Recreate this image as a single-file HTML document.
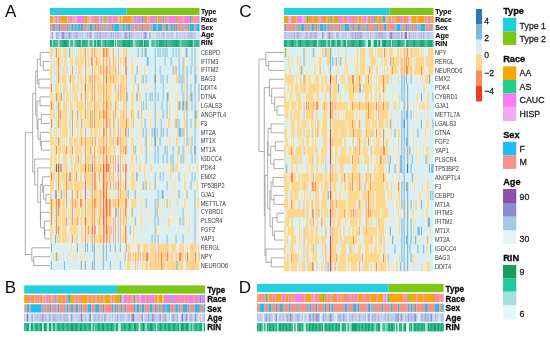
<!DOCTYPE html>
<html><head><meta charset="utf-8"><style>
html,body{margin:0;padding:0;background:#fff;}
body{width:550px;height:338px;overflow:hidden;}
svg{display:block;will-change:transform;filter:blur(0.35px);}
</style></head><body>
<svg width="550" height="338" viewBox="0 0 550 338" font-family="&quot;Liberation Sans&quot;, sans-serif">
<style>text{paint-order:stroke}.s{stroke:#222;stroke-width:0.28}.g{stroke:#444;stroke-width:0.04}.b{stroke:#0a0a0a;stroke-width:0.3}.bs{stroke:#0a0a0a;stroke-width:0.12}</style>
<rect width="550" height="338" fill="#fff"/>
<text x="5" y="16.7" font-size="17" fill="#0a0a0a">A</text>
<text x="4.8" y="292.9" font-size="17" fill="#0a0a0a">B</text>
<text x="239.3" y="16.7" font-size="17" fill="#0a0a0a">C</text>
<text x="238.8" y="292.9" font-size="17" fill="#0a0a0a">D</text>
<rect x="50" y="8" width="76.6" height="7" fill="#22cfe0"/>
<rect x="126.6" y="8" width="72.9" height="7" fill="#7cc614"/>
<rect x="50" y="16" width="3.25" height="7" fill="#faa500"/>
<rect x="53.2" y="16" width="1.12" height="7" fill="#f1aaf6"/>
<rect x="54.27" y="16" width="1.12" height="7" fill="#faa500"/>
<rect x="55.34" y="16" width="2.19" height="7" fill="#f77ef2"/>
<rect x="57.48" y="16" width="1.12" height="7" fill="#faa500"/>
<rect x="58.54" y="16" width="2.19" height="7" fill="#f77ef2"/>
<rect x="60.68" y="16" width="6.46" height="7" fill="#faa500"/>
<rect x="67.09" y="16" width="1.12" height="7" fill="#f1aaf6"/>
<rect x="68.15" y="16" width="1.12" height="7" fill="#faa500"/>
<rect x="69.22" y="16" width="3.25" height="7" fill="#f77ef2"/>
<rect x="72.42" y="16" width="1.12" height="7" fill="#faa500"/>
<rect x="73.49" y="16" width="1.12" height="7" fill="#f77ef2"/>
<rect x="74.56" y="16" width="1.12" height="7" fill="#faa500"/>
<rect x="75.63" y="16" width="1.12" height="7" fill="#f1aaf6"/>
<rect x="76.7" y="16" width="7.52" height="7" fill="#f77ef2"/>
<rect x="84.17" y="16" width="3.25" height="7" fill="#faa500"/>
<rect x="87.38" y="16" width="1.12" height="7" fill="#f77ef2"/>
<rect x="88.44" y="16" width="1.12" height="7" fill="#faa500"/>
<rect x="89.51" y="16" width="1.12" height="7" fill="#f1aaf6"/>
<rect x="90.58" y="16" width="1.12" height="7" fill="#f77ef2"/>
<rect x="91.65" y="16" width="1.12" height="7" fill="#faa500"/>
<rect x="92.71" y="16" width="2.19" height="7" fill="#f77ef2"/>
<rect x="94.85" y="16" width="1.12" height="7" fill="#faa500"/>
<rect x="95.92" y="16" width="1.12" height="7" fill="#f77ef2"/>
<rect x="96.99" y="16" width="1.12" height="7" fill="#faa500"/>
<rect x="98.05" y="16" width="1.12" height="7" fill="#f77ef2"/>
<rect x="99.12" y="16" width="1.12" height="7" fill="#f1aaf6"/>
<rect x="100.19" y="16" width="1.12" height="7" fill="#f77ef2"/>
<rect x="101.26" y="16" width="1.12" height="7" fill="#1fd285"/>
<rect x="102.32" y="16" width="1.12" height="7" fill="#f77ef2"/>
<rect x="103.39" y="16" width="2.19" height="7" fill="#faa500"/>
<rect x="105.53" y="16" width="1.12" height="7" fill="#1fd285"/>
<rect x="106.6" y="16" width="1.12" height="7" fill="#f77ef2"/>
<rect x="107.66" y="16" width="1.12" height="7" fill="#faa500"/>
<rect x="108.73" y="16" width="3.25" height="7" fill="#f77ef2"/>
<rect x="111.94" y="16" width="1.12" height="7" fill="#f1aaf6"/>
<rect x="113" y="16" width="2.19" height="7" fill="#f77ef2"/>
<rect x="115.14" y="16" width="2.19" height="7" fill="#faa500"/>
<rect x="117.28" y="16" width="1.12" height="7" fill="#f77ef2"/>
<rect x="118.34" y="16" width="1.12" height="7" fill="#f1aaf6"/>
<rect x="119.41" y="16" width="2.19" height="7" fill="#faa500"/>
<rect x="121.55" y="16" width="1.12" height="7" fill="#f1aaf6"/>
<rect x="122.61" y="16" width="4.32" height="7" fill="#faa500"/>
<rect x="126.89" y="16" width="1.12" height="7" fill="#f77ef2"/>
<rect x="127.95" y="16" width="3.25" height="7" fill="#faa500"/>
<rect x="131.16" y="16" width="1.12" height="7" fill="#f77ef2"/>
<rect x="132.22" y="16" width="1.12" height="7" fill="#faa500"/>
<rect x="133.29" y="16" width="2.19" height="7" fill="#f77ef2"/>
<rect x="135.43" y="16" width="1.12" height="7" fill="#1fd285"/>
<rect x="136.5" y="16" width="5.39" height="7" fill="#f77ef2"/>
<rect x="141.84" y="16" width="1.12" height="7" fill="#1fd285"/>
<rect x="142.9" y="16" width="2.19" height="7" fill="#f77ef2"/>
<rect x="145.04" y="16" width="2.19" height="7" fill="#faa500"/>
<rect x="147.18" y="16" width="1.12" height="7" fill="#f1aaf6"/>
<rect x="148.24" y="16" width="1.12" height="7" fill="#faa500"/>
<rect x="149.31" y="16" width="6.46" height="7" fill="#f77ef2"/>
<rect x="155.72" y="16" width="1.12" height="7" fill="#1fd285"/>
<rect x="156.79" y="16" width="1.12" height="7" fill="#f1aaf6"/>
<rect x="157.85" y="16" width="2.19" height="7" fill="#faa500"/>
<rect x="159.99" y="16" width="2.19" height="7" fill="#f77ef2"/>
<rect x="162.12" y="16" width="1.12" height="7" fill="#faa500"/>
<rect x="163.19" y="16" width="1.12" height="7" fill="#1fd285"/>
<rect x="164.26" y="16" width="3.25" height="7" fill="#f77ef2"/>
<rect x="167.46" y="16" width="1.12" height="7" fill="#faa500"/>
<rect x="168.53" y="16" width="7.52" height="7" fill="#f77ef2"/>
<rect x="176.01" y="16" width="2.19" height="7" fill="#faa500"/>
<rect x="178.14" y="16" width="4.32" height="7" fill="#f77ef2"/>
<rect x="182.41" y="16" width="1.12" height="7" fill="#faa500"/>
<rect x="183.48" y="16" width="6.46" height="7" fill="#f77ef2"/>
<rect x="189.89" y="16" width="1.12" height="7" fill="#1fd285"/>
<rect x="190.96" y="16" width="2.19" height="7" fill="#f77ef2"/>
<rect x="193.09" y="16" width="1.12" height="7" fill="#faa500"/>
<rect x="194.16" y="16" width="1.12" height="7" fill="#f77ef2"/>
<rect x="195.23" y="16" width="1.12" height="7" fill="#faa500"/>
<rect x="196.3" y="16" width="3.25" height="7" fill="#f77ef2"/>
<rect x="50" y="24" width="3.25" height="7" fill="#f7928a"/>
<rect x="53.2" y="24" width="2.19" height="7" fill="#20bdf0"/>
<rect x="55.34" y="24" width="3.25" height="7" fill="#f7928a"/>
<rect x="58.54" y="24" width="2.19" height="7" fill="#20bdf0"/>
<rect x="60.68" y="24" width="6.46" height="7" fill="#f7928a"/>
<rect x="67.09" y="24" width="1.12" height="7" fill="#20bdf0"/>
<rect x="68.15" y="24" width="1.12" height="7" fill="#f7928a"/>
<rect x="69.22" y="24" width="1.12" height="7" fill="#20bdf0"/>
<rect x="70.29" y="24" width="1.12" height="7" fill="#f7928a"/>
<rect x="71.36" y="24" width="2.19" height="7" fill="#20bdf0"/>
<rect x="73.49" y="24" width="1.12" height="7" fill="#f7928a"/>
<rect x="74.56" y="24" width="2.19" height="7" fill="#20bdf0"/>
<rect x="76.7" y="24" width="1.12" height="7" fill="#f7928a"/>
<rect x="77.76" y="24" width="2.19" height="7" fill="#20bdf0"/>
<rect x="79.9" y="24" width="1.12" height="7" fill="#f7928a"/>
<rect x="80.97" y="24" width="2.19" height="7" fill="#20bdf0"/>
<rect x="83.1" y="24" width="3.25" height="7" fill="#f7928a"/>
<rect x="86.31" y="24" width="1.12" height="7" fill="#20bdf0"/>
<rect x="87.38" y="24" width="2.19" height="7" fill="#f7928a"/>
<rect x="89.51" y="24" width="3.25" height="7" fill="#20bdf0"/>
<rect x="92.71" y="24" width="2.19" height="7" fill="#f7928a"/>
<rect x="94.85" y="24" width="1.12" height="7" fill="#20bdf0"/>
<rect x="95.92" y="24" width="2.19" height="7" fill="#f7928a"/>
<rect x="98.05" y="24" width="1.12" height="7" fill="#20bdf0"/>
<rect x="99.12" y="24" width="3.25" height="7" fill="#f7928a"/>
<rect x="102.32" y="24" width="1.12" height="7" fill="#20bdf0"/>
<rect x="103.39" y="24" width="3.25" height="7" fill="#f7928a"/>
<rect x="106.6" y="24" width="1.12" height="7" fill="#20bdf0"/>
<rect x="107.66" y="24" width="1.12" height="7" fill="#f7928a"/>
<rect x="108.73" y="24" width="1.12" height="7" fill="#20bdf0"/>
<rect x="109.8" y="24" width="2.19" height="7" fill="#f7928a"/>
<rect x="111.94" y="24" width="1.12" height="7" fill="#20bdf0"/>
<rect x="113" y="24" width="1.12" height="7" fill="#f7928a"/>
<rect x="114.07" y="24" width="5.39" height="7" fill="#20bdf0"/>
<rect x="119.41" y="24" width="1.12" height="7" fill="#f7928a"/>
<rect x="120.48" y="24" width="1.12" height="7" fill="#20bdf0"/>
<rect x="121.55" y="24" width="1.12" height="7" fill="#f7928a"/>
<rect x="122.61" y="24" width="2.19" height="7" fill="#20bdf0"/>
<rect x="124.75" y="24" width="1.12" height="7" fill="#f7928a"/>
<rect x="125.82" y="24" width="1.12" height="7" fill="#20bdf0"/>
<rect x="126.89" y="24" width="1.12" height="7" fill="#f7928a"/>
<rect x="127.95" y="24" width="2.19" height="7" fill="#20bdf0"/>
<rect x="130.09" y="24" width="3.25" height="7" fill="#f7928a"/>
<rect x="133.29" y="24" width="1.12" height="7" fill="#20bdf0"/>
<rect x="134.36" y="24" width="3.25" height="7" fill="#f7928a"/>
<rect x="137.56" y="24" width="1.12" height="7" fill="#20bdf0"/>
<rect x="138.63" y="24" width="3.25" height="7" fill="#f7928a"/>
<rect x="141.84" y="24" width="1.12" height="7" fill="#20bdf0"/>
<rect x="142.9" y="24" width="5.39" height="7" fill="#f7928a"/>
<rect x="148.24" y="24" width="1.12" height="7" fill="#20bdf0"/>
<rect x="149.31" y="24" width="3.25" height="7" fill="#f7928a"/>
<rect x="152.51" y="24" width="4.32" height="7" fill="#20bdf0"/>
<rect x="156.79" y="24" width="1.12" height="7" fill="#f7928a"/>
<rect x="157.85" y="24" width="4.32" height="7" fill="#20bdf0"/>
<rect x="162.12" y="24" width="3.25" height="7" fill="#f7928a"/>
<rect x="165.33" y="24" width="3.25" height="7" fill="#20bdf0"/>
<rect x="168.53" y="24" width="2.19" height="7" fill="#f7928a"/>
<rect x="170.67" y="24" width="2.19" height="7" fill="#20bdf0"/>
<rect x="172.8" y="24" width="1.12" height="7" fill="#f7928a"/>
<rect x="173.87" y="24" width="1.12" height="7" fill="#20bdf0"/>
<rect x="174.94" y="24" width="1.12" height="7" fill="#f7928a"/>
<rect x="176.01" y="24" width="1.12" height="7" fill="#20bdf0"/>
<rect x="177.07" y="24" width="6.46" height="7" fill="#f7928a"/>
<rect x="183.48" y="24" width="1.12" height="7" fill="#20bdf0"/>
<rect x="184.55" y="24" width="3.25" height="7" fill="#f7928a"/>
<rect x="187.75" y="24" width="1.12" height="7" fill="#20bdf0"/>
<rect x="188.82" y="24" width="1.12" height="7" fill="#f7928a"/>
<rect x="189.89" y="24" width="4.32" height="7" fill="#20bdf0"/>
<rect x="194.16" y="24" width="2.19" height="7" fill="#f7928a"/>
<rect x="196.3" y="24" width="3.25" height="7" fill="#20bdf0"/>
<rect x="50" y="32" width="1.12" height="7" fill="#c3d1ec"/>
<rect x="51.07" y="32" width="1.12" height="7" fill="#b5c3e8"/>
<rect x="52.14" y="32" width="1.12" height="7" fill="#9596d4"/>
<rect x="53.2" y="32" width="1.12" height="7" fill="#d8e6f4"/>
<rect x="54.27" y="32" width="1.12" height="7" fill="#dae8f4"/>
<rect x="55.34" y="32" width="1.12" height="7" fill="#c2d0ec"/>
<rect x="56.41" y="32" width="1.12" height="7" fill="#9083cb"/>
<rect x="57.48" y="32" width="1.12" height="7" fill="#adbae4"/>
<rect x="58.54" y="32" width="1.12" height="7" fill="#a2abdd"/>
<rect x="59.61" y="32" width="1.12" height="7" fill="#d6e4f3"/>
<rect x="60.68" y="32" width="1.12" height="7" fill="#b2c0e7"/>
<rect x="61.75" y="32" width="1.12" height="7" fill="#928bcf"/>
<rect x="62.81" y="32" width="1.12" height="7" fill="#9085cc"/>
<rect x="63.88" y="32" width="1.12" height="7" fill="#b3c1e7"/>
<rect x="64.95" y="32" width="1.12" height="7" fill="#bccaea"/>
<rect x="66.02" y="32" width="1.12" height="7" fill="#b7c5e8"/>
<rect x="67.09" y="32" width="1.12" height="7" fill="#b4c2e7"/>
<rect x="68.15" y="32" width="1.12" height="7" fill="#aebbe5"/>
<rect x="69.22" y="32" width="1.12" height="7" fill="#8f7ec9"/>
<rect x="70.29" y="32" width="1.12" height="7" fill="#a0a8dc"/>
<rect x="71.36" y="32" width="1.12" height="7" fill="#b4c2e7"/>
<rect x="72.42" y="32" width="1.12" height="7" fill="#c4d2ed"/>
<rect x="73.49" y="32" width="1.12" height="7" fill="#a7b2e0"/>
<rect x="74.56" y="32" width="1.12" height="7" fill="#b0bee6"/>
<rect x="75.63" y="32" width="1.12" height="7" fill="#9ba2d9"/>
<rect x="76.7" y="32" width="1.12" height="7" fill="#a0a8dc"/>
<rect x="77.76" y="32" width="2.19" height="7" fill="#c0ceeb"/>
<rect x="79.9" y="32" width="1.12" height="7" fill="#c1cfec"/>
<rect x="80.97" y="32" width="1.12" height="7" fill="#cddbf0"/>
<rect x="82.04" y="32" width="1.12" height="7" fill="#bac8e9"/>
<rect x="83.1" y="32" width="1.12" height="7" fill="#c4d2ed"/>
<rect x="84.17" y="32" width="1.12" height="7" fill="#d3e1f2"/>
<rect x="85.24" y="32" width="1.12" height="7" fill="#becceb"/>
<rect x="86.31" y="32" width="1.12" height="7" fill="#bbc9ea"/>
<rect x="87.38" y="32" width="1.12" height="7" fill="#9fa7db"/>
<rect x="88.44" y="32" width="1.12" height="7" fill="#bdcbea"/>
<rect x="89.51" y="32" width="1.12" height="7" fill="#938fd1"/>
<rect x="90.58" y="32" width="1.12" height="7" fill="#9493d2"/>
<rect x="91.65" y="32" width="1.12" height="7" fill="#c0ceeb"/>
<rect x="92.71" y="32" width="1.12" height="7" fill="#e3f1f8"/>
<rect x="93.78" y="32" width="2.19" height="7" fill="#b6c4e8"/>
<rect x="95.92" y="32" width="1.12" height="7" fill="#c2d0ec"/>
<rect x="96.99" y="32" width="1.12" height="7" fill="#a1aadd"/>
<rect x="98.05" y="32" width="1.12" height="7" fill="#c0ceeb"/>
<rect x="99.12" y="32" width="1.12" height="7" fill="#b0bee6"/>
<rect x="100.19" y="32" width="1.12" height="7" fill="#9492d2"/>
<rect x="101.26" y="32" width="1.12" height="7" fill="#bccaea"/>
<rect x="102.32" y="32" width="1.12" height="7" fill="#b0bee6"/>
<rect x="103.39" y="32" width="1.12" height="7" fill="#a7b3e1"/>
<rect x="104.46" y="32" width="1.12" height="7" fill="#b9c7e9"/>
<rect x="105.53" y="32" width="1.12" height="7" fill="#a0a9dc"/>
<rect x="106.6" y="32" width="1.12" height="7" fill="#b5c3e8"/>
<rect x="107.66" y="32" width="2.19" height="7" fill="#c0ceeb"/>
<rect x="109.8" y="32" width="1.12" height="7" fill="#bfcdeb"/>
<rect x="110.87" y="32" width="1.12" height="7" fill="#a3adde"/>
<rect x="111.94" y="32" width="1.12" height="7" fill="#c6d4ed"/>
<rect x="113" y="32" width="1.12" height="7" fill="#b2c0e7"/>
<rect x="114.07" y="32" width="1.12" height="7" fill="#d0def1"/>
<rect x="115.14" y="32" width="1.12" height="7" fill="#a7b1e0"/>
<rect x="116.21" y="32" width="1.12" height="7" fill="#becceb"/>
<rect x="117.28" y="32" width="1.12" height="7" fill="#9aa0d8"/>
<rect x="118.34" y="32" width="1.12" height="7" fill="#acb9e4"/>
<rect x="119.41" y="32" width="1.12" height="7" fill="#b7c5e8"/>
<rect x="120.48" y="32" width="1.12" height="7" fill="#afbde5"/>
<rect x="121.55" y="32" width="1.12" height="7" fill="#bac8e9"/>
<rect x="122.61" y="32" width="1.12" height="7" fill="#cedcf0"/>
<rect x="123.68" y="32" width="1.12" height="7" fill="#b7c5e8"/>
<rect x="124.75" y="32" width="1.12" height="7" fill="#9596d4"/>
<rect x="125.82" y="32" width="1.12" height="7" fill="#9aa1d9"/>
<rect x="126.89" y="32" width="1.12" height="7" fill="#b9c7e9"/>
<rect x="127.95" y="32" width="1.12" height="7" fill="#c5d3ed"/>
<rect x="129.02" y="32" width="1.12" height="7" fill="#9aa0d8"/>
<rect x="130.09" y="32" width="1.12" height="7" fill="#b5c3e8"/>
<rect x="131.16" y="32" width="1.12" height="7" fill="#a3adde"/>
<rect x="132.22" y="32" width="1.12" height="7" fill="#bdcbea"/>
<rect x="133.29" y="32" width="1.12" height="7" fill="#b1bfe6"/>
<rect x="134.36" y="32" width="1.12" height="7" fill="#c7d5ee"/>
<rect x="135.43" y="32" width="1.12" height="7" fill="#b3c1e7"/>
<rect x="136.5" y="32" width="1.12" height="7" fill="#b4c2e7"/>
<rect x="137.56" y="32" width="1.12" height="7" fill="#b8c6e9"/>
<rect x="138.63" y="32" width="1.12" height="7" fill="#a5b0df"/>
<rect x="139.7" y="32" width="1.12" height="7" fill="#deecf6"/>
<rect x="140.77" y="32" width="1.12" height="7" fill="#a6b0e0"/>
<rect x="141.84" y="32" width="1.12" height="7" fill="#e0eef6"/>
<rect x="142.9" y="32" width="1.12" height="7" fill="#b1bfe6"/>
<rect x="143.97" y="32" width="1.12" height="7" fill="#a8b3e1"/>
<rect x="145.04" y="32" width="1.12" height="7" fill="#9491d2"/>
<rect x="146.11" y="32" width="1.12" height="7" fill="#b6c4e8"/>
<rect x="147.18" y="32" width="1.12" height="7" fill="#bdcbea"/>
<rect x="148.24" y="32" width="1.12" height="7" fill="#e0eef7"/>
<rect x="149.31" y="32" width="1.12" height="7" fill="#9493d3"/>
<rect x="150.38" y="32" width="1.12" height="7" fill="#abb8e3"/>
<rect x="151.45" y="32" width="1.12" height="7" fill="#d7e5f3"/>
<rect x="152.51" y="32" width="1.12" height="7" fill="#becceb"/>
<rect x="153.58" y="32" width="1.12" height="7" fill="#bccaea"/>
<rect x="154.65" y="32" width="1.12" height="7" fill="#e0eef7"/>
<rect x="155.72" y="32" width="2.19" height="7" fill="#becceb"/>
<rect x="157.85" y="32" width="2.19" height="7" fill="#c4d2ed"/>
<rect x="159.99" y="32" width="1.12" height="7" fill="#d5e3f3"/>
<rect x="161.06" y="32" width="1.12" height="7" fill="#becceb"/>
<rect x="162.12" y="32" width="1.12" height="7" fill="#bac8e9"/>
<rect x="163.19" y="32" width="1.12" height="7" fill="#aab6e2"/>
<rect x="164.26" y="32" width="1.12" height="7" fill="#b7c5e8"/>
<rect x="165.33" y="32" width="1.12" height="7" fill="#d7e5f3"/>
<rect x="166.4" y="32" width="1.12" height="7" fill="#afbde6"/>
<rect x="167.46" y="32" width="1.12" height="7" fill="#bac8e9"/>
<rect x="168.53" y="32" width="1.12" height="7" fill="#a8b4e1"/>
<rect x="169.6" y="32" width="1.12" height="7" fill="#c9d7ee"/>
<rect x="170.67" y="32" width="1.12" height="7" fill="#b0bee6"/>
<rect x="171.74" y="32" width="1.12" height="7" fill="#bccaea"/>
<rect x="172.8" y="32" width="1.12" height="7" fill="#bdcbea"/>
<rect x="173.87" y="32" width="2.19" height="7" fill="#d8e6f4"/>
<rect x="176.01" y="32" width="1.12" height="7" fill="#b3c1e7"/>
<rect x="177.07" y="32" width="1.12" height="7" fill="#b6c4e8"/>
<rect x="178.14" y="32" width="1.12" height="7" fill="#c6d4ed"/>
<rect x="179.21" y="32" width="1.12" height="7" fill="#bdcbea"/>
<rect x="180.28" y="32" width="1.12" height="7" fill="#afbde5"/>
<rect x="181.35" y="32" width="1.12" height="7" fill="#cbd9ef"/>
<rect x="182.41" y="32" width="1.12" height="7" fill="#b1bfe6"/>
<rect x="183.48" y="32" width="1.12" height="7" fill="#b0bee6"/>
<rect x="184.55" y="32" width="1.12" height="7" fill="#9fa7dc"/>
<rect x="185.62" y="32" width="1.12" height="7" fill="#e2f0f7"/>
<rect x="186.69" y="32" width="1.12" height="7" fill="#aebbe5"/>
<rect x="187.75" y="32" width="1.12" height="7" fill="#b0bde6"/>
<rect x="188.82" y="32" width="1.12" height="7" fill="#b5c3e8"/>
<rect x="189.89" y="32" width="1.12" height="7" fill="#bac8e9"/>
<rect x="190.96" y="32" width="1.12" height="7" fill="#adbae4"/>
<rect x="192.03" y="32" width="1.12" height="7" fill="#b5c3e8"/>
<rect x="193.09" y="32" width="1.12" height="7" fill="#bac8e9"/>
<rect x="194.16" y="32" width="1.12" height="7" fill="#bdcbea"/>
<rect x="195.23" y="32" width="1.12" height="7" fill="#b4c2e7"/>
<rect x="196.3" y="32" width="1.12" height="7" fill="#d3e1f2"/>
<rect x="197.36" y="32" width="1.12" height="7" fill="#cddbf0"/>
<rect x="198.43" y="32" width="1.12" height="7" fill="#bdcbea"/>
<rect x="50" y="40" width="1.12" height="7" fill="#0faa75"/>
<rect x="51.07" y="40" width="1.12" height="7" fill="#12af7b"/>
<rect x="52.14" y="40" width="1.12" height="7" fill="#91dfcd"/>
<rect x="53.2" y="40" width="1.12" height="7" fill="#0da771"/>
<rect x="54.27" y="40" width="1.12" height="7" fill="#0da872"/>
<rect x="55.34" y="40" width="1.12" height="7" fill="#13b07d"/>
<rect x="56.41" y="40" width="1.12" height="7" fill="#10ab77"/>
<rect x="57.48" y="40" width="1.12" height="7" fill="#1ab988"/>
<rect x="58.54" y="40" width="1.12" height="7" fill="#aae6da"/>
<rect x="59.61" y="40" width="1.12" height="7" fill="#11ac78"/>
<rect x="60.68" y="40" width="1.12" height="7" fill="#10ac78"/>
<rect x="61.75" y="40" width="1.12" height="7" fill="#0ea974"/>
<rect x="62.81" y="40" width="1.12" height="7" fill="#13b07d"/>
<rect x="63.88" y="40" width="1.12" height="7" fill="#0ea973"/>
<rect x="64.95" y="40" width="1.12" height="7" fill="#0da772"/>
<rect x="66.02" y="40" width="1.12" height="7" fill="#0fa974"/>
<rect x="67.09" y="40" width="1.12" height="7" fill="#1cbc8c"/>
<rect x="68.15" y="40" width="1.12" height="7" fill="#0ca670"/>
<rect x="69.22" y="40" width="1.12" height="7" fill="#cef1eb"/>
<rect x="70.29" y="40" width="1.12" height="7" fill="#0fab76"/>
<rect x="71.36" y="40" width="1.12" height="7" fill="#0da873"/>
<rect x="72.42" y="40" width="1.12" height="7" fill="#10ab76"/>
<rect x="73.49" y="40" width="1.12" height="7" fill="#cdf1ea"/>
<rect x="74.56" y="40" width="1.12" height="7" fill="#0faa76"/>
<rect x="75.63" y="40" width="1.12" height="7" fill="#19b886"/>
<rect x="76.7" y="40" width="1.12" height="7" fill="#0ca670"/>
<rect x="77.76" y="40" width="1.12" height="7" fill="#11ad78"/>
<rect x="78.83" y="40" width="1.12" height="7" fill="#0ca670"/>
<rect x="79.9" y="40" width="1.12" height="7" fill="#15b27f"/>
<rect x="80.97" y="40" width="1.12" height="7" fill="#9de2d3"/>
<rect x="82.04" y="40" width="1.12" height="7" fill="#12ae7a"/>
<rect x="83.1" y="40" width="1.12" height="7" fill="#0ca670"/>
<rect x="84.17" y="40" width="1.12" height="7" fill="#15b27f"/>
<rect x="85.24" y="40" width="1.12" height="7" fill="#0da872"/>
<rect x="86.31" y="40" width="1.12" height="7" fill="#0ca670"/>
<rect x="87.38" y="40" width="1.12" height="7" fill="#12ae7a"/>
<rect x="88.44" y="40" width="1.12" height="7" fill="#b6eadf"/>
<rect x="89.51" y="40" width="1.12" height="7" fill="#0ca670"/>
<rect x="90.58" y="40" width="1.12" height="7" fill="#17b482"/>
<rect x="91.65" y="40" width="1.12" height="7" fill="#10ac77"/>
<rect x="92.71" y="40" width="1.12" height="7" fill="#e3f7f4"/>
<rect x="93.78" y="40" width="1.12" height="7" fill="#11ad79"/>
<rect x="94.85" y="40" width="1.12" height="7" fill="#0ea873"/>
<rect x="95.92" y="40" width="1.12" height="7" fill="#8bddca"/>
<rect x="96.99" y="40" width="1.12" height="7" fill="#18b684"/>
<rect x="98.05" y="40" width="1.12" height="7" fill="#0ca670"/>
<rect x="99.12" y="40" width="1.12" height="7" fill="#1bba89"/>
<rect x="100.19" y="40" width="1.12" height="7" fill="#0ca771"/>
<rect x="101.26" y="40" width="1.12" height="7" fill="#abe6da"/>
<rect x="102.32" y="40" width="1.12" height="7" fill="#17b582"/>
<rect x="103.39" y="40" width="1.12" height="7" fill="#11ad79"/>
<rect x="104.46" y="40" width="2.19" height="7" fill="#0faa75"/>
<rect x="106.6" y="40" width="1.12" height="7" fill="#13b07c"/>
<rect x="107.66" y="40" width="1.12" height="7" fill="#1bbb8a"/>
<rect x="108.73" y="40" width="1.12" height="7" fill="#11ad79"/>
<rect x="109.8" y="40" width="1.12" height="7" fill="#12ae7a"/>
<rect x="110.87" y="40" width="1.12" height="7" fill="#1bba89"/>
<rect x="111.94" y="40" width="1.12" height="7" fill="#11ac78"/>
<rect x="113" y="40" width="1.12" height="7" fill="#16b482"/>
<rect x="114.07" y="40" width="1.12" height="7" fill="#c5eee6"/>
<rect x="115.14" y="40" width="1.12" height="7" fill="#0ca670"/>
<rect x="116.21" y="40" width="1.12" height="7" fill="#d7f4ef"/>
<rect x="117.28" y="40" width="1.12" height="7" fill="#12af7b"/>
<rect x="118.34" y="40" width="1.12" height="7" fill="#14b17e"/>
<rect x="119.41" y="40" width="1.12" height="7" fill="#15b380"/>
<rect x="120.48" y="40" width="1.12" height="7" fill="#1ab988"/>
<rect x="121.55" y="40" width="1.12" height="7" fill="#0da771"/>
<rect x="122.61" y="40" width="3.25" height="7" fill="#0ca670"/>
<rect x="125.82" y="40" width="1.12" height="7" fill="#17b583"/>
<rect x="126.89" y="40" width="1.12" height="7" fill="#13b07d"/>
<rect x="127.95" y="40" width="2.19" height="7" fill="#11ad79"/>
<rect x="130.09" y="40" width="1.12" height="7" fill="#15b27f"/>
<rect x="131.16" y="40" width="1.12" height="7" fill="#10ab77"/>
<rect x="132.22" y="40" width="1.12" height="7" fill="#0faa75"/>
<rect x="133.29" y="40" width="1.12" height="7" fill="#95e0d0"/>
<rect x="134.36" y="40" width="1.12" height="7" fill="#75d8bf"/>
<rect x="135.43" y="40" width="1.12" height="7" fill="#19b887"/>
<rect x="136.5" y="40" width="1.12" height="7" fill="#19b786"/>
<rect x="137.56" y="40" width="1.12" height="7" fill="#10ac77"/>
<rect x="138.63" y="40" width="1.12" height="7" fill="#13af7c"/>
<rect x="139.7" y="40" width="1.12" height="7" fill="#0ca670"/>
<rect x="140.77" y="40" width="1.12" height="7" fill="#0fab76"/>
<rect x="141.84" y="40" width="1.12" height="7" fill="#0da872"/>
<rect x="142.9" y="40" width="1.12" height="7" fill="#9de2d4"/>
<rect x="143.97" y="40" width="1.12" height="7" fill="#0da872"/>
<rect x="145.04" y="40" width="1.12" height="7" fill="#17b583"/>
<rect x="146.11" y="40" width="1.12" height="7" fill="#14b17e"/>
<rect x="147.18" y="40" width="1.12" height="7" fill="#11ad79"/>
<rect x="148.24" y="40" width="1.12" height="7" fill="#14b17e"/>
<rect x="149.31" y="40" width="1.12" height="7" fill="#def6f2"/>
<rect x="150.38" y="40" width="1.12" height="7" fill="#c8efe8"/>
<rect x="151.45" y="40" width="1.12" height="7" fill="#0ea873"/>
<rect x="152.51" y="40" width="1.12" height="7" fill="#10ab76"/>
<rect x="153.58" y="40" width="1.12" height="7" fill="#15b280"/>
<rect x="154.65" y="40" width="1.12" height="7" fill="#82dbc6"/>
<rect x="155.72" y="40" width="1.12" height="7" fill="#14b07d"/>
<rect x="156.79" y="40" width="1.12" height="7" fill="#16b381"/>
<rect x="157.85" y="40" width="1.12" height="7" fill="#67d5b8"/>
<rect x="158.92" y="40" width="1.12" height="7" fill="#0da872"/>
<rect x="159.99" y="40" width="1.12" height="7" fill="#14b07d"/>
<rect x="161.06" y="40" width="1.12" height="7" fill="#0fab76"/>
<rect x="162.12" y="40" width="1.12" height="7" fill="#0faa76"/>
<rect x="163.19" y="40" width="1.12" height="7" fill="#0ca670"/>
<rect x="164.26" y="40" width="1.12" height="7" fill="#12ae7a"/>
<rect x="165.33" y="40" width="2.19" height="7" fill="#0faa75"/>
<rect x="167.46" y="40" width="1.12" height="7" fill="#14b17e"/>
<rect x="168.53" y="40" width="1.12" height="7" fill="#0ca670"/>
<rect x="169.6" y="40" width="1.12" height="7" fill="#0da772"/>
<rect x="170.67" y="40" width="1.12" height="7" fill="#13af7b"/>
<rect x="171.74" y="40" width="1.12" height="7" fill="#0ea974"/>
<rect x="172.8" y="40" width="1.12" height="7" fill="#12ae7a"/>
<rect x="173.87" y="40" width="1.12" height="7" fill="#1cbc8b"/>
<rect x="174.94" y="40" width="1.12" height="7" fill="#16b381"/>
<rect x="176.01" y="40" width="1.12" height="7" fill="#12ae7a"/>
<rect x="177.07" y="40" width="1.12" height="7" fill="#0da772"/>
<rect x="178.14" y="40" width="1.12" height="7" fill="#0ca670"/>
<rect x="179.21" y="40" width="1.12" height="7" fill="#1bba8a"/>
<rect x="180.28" y="40" width="1.12" height="7" fill="#58d1b1"/>
<rect x="181.35" y="40" width="1.12" height="7" fill="#15b27f"/>
<rect x="182.41" y="40" width="1.12" height="7" fill="#0faa75"/>
<rect x="183.48" y="40" width="1.12" height="7" fill="#11ad79"/>
<rect x="184.55" y="40" width="1.12" height="7" fill="#0ea974"/>
<rect x="185.62" y="40" width="1.12" height="7" fill="#10ab76"/>
<rect x="186.69" y="40" width="1.12" height="7" fill="#11ad79"/>
<rect x="187.75" y="40" width="1.12" height="7" fill="#14b17e"/>
<rect x="188.82" y="40" width="1.12" height="7" fill="#0ca670"/>
<rect x="189.89" y="40" width="1.12" height="7" fill="#15b27f"/>
<rect x="190.96" y="40" width="1.12" height="7" fill="#10ac78"/>
<rect x="192.03" y="40" width="1.12" height="7" fill="#13af7b"/>
<rect x="193.09" y="40" width="1.12" height="7" fill="#a4e4d7"/>
<rect x="194.16" y="40" width="1.12" height="7" fill="#11ad79"/>
<rect x="195.23" y="40" width="1.12" height="7" fill="#12ae7b"/>
<rect x="196.3" y="40" width="1.12" height="7" fill="#0ea974"/>
<rect x="197.36" y="40" width="1.12" height="7" fill="#0ca670"/>
<rect x="198.43" y="40" width="1.12" height="7" fill="#11ad78"/>
<text x="200.9" y="13.5" font-size="7.1" font-weight="bold" textLength="15.4" lengthAdjust="spacingAndGlyphs" fill="#0a0a0a" class="bs">Type</text>
<text x="200.9" y="21.5" font-size="7.1" font-weight="bold" textLength="16" lengthAdjust="spacingAndGlyphs" fill="#0a0a0a" class="bs">Race</text>
<text x="200.9" y="29.5" font-size="7.1" font-weight="bold" textLength="12" lengthAdjust="spacingAndGlyphs" fill="#0a0a0a" class="bs">Sex</text>
<text x="200.9" y="37.4" font-size="7.1" font-weight="bold" textLength="13.2" lengthAdjust="spacingAndGlyphs" fill="#0a0a0a" class="bs">Age</text>
<text x="200.9" y="45.3" font-size="7.1" font-weight="bold" textLength="11.6" lengthAdjust="spacingAndGlyphs" fill="#0a0a0a" class="bs">RIN</text>
<path fill="#ee3b29" d="M125.75 65.76h1v8.88h-1zM105.81 74.64h1v8.88h-1zM84.88 83.52h1v8.88h-1zM105.81 110.16h1v8.88h-1zM125.75 119.04h1v8.88h-1zM55.98 163.44h1v8.88h-1zM57.97 163.44h1v8.88h-1zM84.88 163.44h1v8.88h-1zM91.86 163.44h1v8.88h-1zM102.82 163.44h1v8.88h-1zM105.81 163.44h1v8.88h-1zM117.77 163.44h1v8.88h-1zM125.75 163.44h1v8.88h-1zM102.82 172.32h1v8.88h-1zM84.88 181.2h1v8.88h-1zM102.82 181.2h1v8.88h-1zM117.77 181.2h1v8.88h-1zM84.88 190.08h1v8.88h-1zM102.82 190.08h1v8.88h-1zM105.81 190.08h1v8.88h-1zM102.82 198.96h1v8.88h-1zM105.81 198.96h1v8.88h-1zM117.77 198.96h1v8.88h-1zM125.75 198.96h1v8.88h-1zM102.82 207.84h1v8.88h-1zM105.81 207.84h1v8.88h-1zM84.88 216.72h1v8.88h-1zM102.82 216.72h1v8.88h-1zM105.81 216.72h1v8.88h-1zM91.86 225.6h1v8.88h-1zM105.81 225.6h1v8.88h-1z"/>
<path fill="#f98d58" d="M55.98 48h1v8.88h-1zM84.88 48h1v8.88h-1zM91.86 48h1v8.88h-1zM93.85 48h1v8.88h-1zM102.82 48h1.99v8.88h-1.99zM105.81 48h1.99v8.88h-1.99zM112.79 48h1v8.88h-1zM117.77 48h1v8.88h-1zM125.75 48h1v8.88h-1zM57.97 56.88h1v8.88h-1zM84.88 56.88h1v8.88h-1zM90.86 56.88h1.99v8.88h-1.99zM95.85 56.88h1v8.88h-1zM102.82 56.88h1v8.88h-1zM105.81 56.88h1v8.88h-1zM108.8 56.88h1v8.88h-1zM112.79 56.88h1v8.88h-1zM117.77 56.88h1v8.88h-1zM124.75 56.88h1.99v8.88h-1.99zM57.97 65.76h1v8.88h-1zM71.93 65.76h1v8.88h-1zM84.88 65.76h1v8.88h-1zM91.86 65.76h1v8.88h-1zM99.83 65.76h1v8.88h-1zM102.82 65.76h1v8.88h-1zM105.81 65.76h1.99v8.88h-1.99zM108.8 65.76h1v8.88h-1zM114.78 65.76h1v8.88h-1zM117.77 65.76h1v8.88h-1zM124.75 65.76h1v8.88h-1zM57.97 74.64h1v8.88h-1zM69.93 74.64h1v8.88h-1zM84.88 74.64h1v8.88h-1zM89.87 74.64h1v8.88h-1zM91.86 74.64h1v8.88h-1zM93.85 74.64h1v8.88h-1zM102.82 74.64h1v8.88h-1zM109.8 74.64h1v8.88h-1zM112.79 74.64h1v8.88h-1zM125.75 74.64h1v8.88h-1zM51 83.52h1v8.88h-1zM91.86 83.52h1v8.88h-1zM93.85 83.52h1v8.88h-1zM102.82 83.52h1v8.88h-1zM105.81 83.52h1v8.88h-1zM114.78 83.52h1v8.88h-1zM117.77 83.52h1v8.88h-1zM119.77 83.52h1v8.88h-1zM125.75 83.52h1v8.88h-1zM55.98 92.4h1v8.88h-1zM80.9 92.4h1v8.88h-1zM84.88 92.4h1v8.88h-1zM91.86 92.4h1v8.88h-1zM93.85 92.4h1v8.88h-1zM102.82 92.4h1v8.88h-1zM105.81 92.4h1v8.88h-1zM117.77 92.4h1v8.88h-1zM119.77 92.4h1v8.88h-1zM125.75 92.4h1v8.88h-1zM135.71 92.4h1v8.88h-1zM51 101.28h1v8.88h-1zM57.97 101.28h1v8.88h-1zM84.88 101.28h1v8.88h-1zM93.85 101.28h1v8.88h-1zM102.82 101.28h1v8.88h-1zM105.81 101.28h1.99v8.88h-1.99zM109.8 101.28h1v8.88h-1zM114.78 101.28h1v8.88h-1zM125.75 101.28h1v8.88h-1zM140.7 101.28h1v8.88h-1zM57.97 110.16h1v8.88h-1zM59.97 110.16h1v8.88h-1zM71.93 110.16h1v8.88h-1zM76.91 110.16h1v8.88h-1zM84.88 110.16h1v8.88h-1zM89.87 110.16h1v8.88h-1zM91.86 110.16h1v8.88h-1zM93.85 110.16h1v8.88h-1zM98.84 110.16h1v8.88h-1zM102.82 110.16h1.99v8.88h-1.99zM112.79 110.16h1v8.88h-1zM114.78 110.16h1v8.88h-1zM122.76 110.16h1v8.88h-1zM125.75 110.16h1v8.88h-1zM130.73 110.16h1v8.88h-1zM140.7 110.16h1v8.88h-1zM183.55 110.16h1v8.88h-1zM51 119.04h1v8.88h-1zM57.97 119.04h1v8.88h-1zM71.93 119.04h1v8.88h-1zM80.9 119.04h1v8.88h-1zM89.87 119.04h1v8.88h-1zM91.86 119.04h1v8.88h-1zM93.85 119.04h1v8.88h-1zM102.82 119.04h1v8.88h-1zM105.81 119.04h1.99v8.88h-1.99zM108.8 119.04h1v8.88h-1zM112.79 119.04h1v8.88h-1zM117.77 119.04h1v8.88h-1zM132.72 119.04h1v8.88h-1zM176.58 119.04h1v8.88h-1zM71.93 127.92h1v8.88h-1zM84.88 127.92h1v8.88h-1zM102.82 127.92h1.99v8.88h-1.99zM105.81 127.92h1v8.88h-1zM109.8 127.92h1v8.88h-1zM117.77 127.92h1v8.88h-1zM119.77 127.92h1v8.88h-1zM124.75 127.92h1.99v8.88h-1.99zM57.97 136.8h1v8.88h-1zM80.9 136.8h1v8.88h-1zM84.88 136.8h1v8.88h-1zM91.86 136.8h1v8.88h-1zM94.85 136.8h1v8.88h-1zM102.82 136.8h1v8.88h-1zM105.81 136.8h1v8.88h-1zM112.79 136.8h1v8.88h-1zM116.78 136.8h1.99v8.88h-1.99zM119.77 136.8h1v8.88h-1zM125.75 136.8h1v8.88h-1zM183.55 136.8h1v8.88h-1zM55.98 145.68h1v8.88h-1zM65.95 145.68h1v8.88h-1zM71.93 145.68h1v8.88h-1zM84.88 145.68h1v8.88h-1zM89.87 145.68h1v8.88h-1zM93.85 145.68h1v8.88h-1zM99.83 145.68h1v8.88h-1zM102.82 145.68h1.99v8.88h-1.99zM105.81 145.68h1v8.88h-1zM119.77 145.68h1v8.88h-1zM122.76 145.68h1v8.88h-1zM124.75 145.68h1.99v8.88h-1.99zM132.72 145.68h1v8.88h-1zM77.91 154.56h1v8.88h-1zM84.88 154.56h1v8.88h-1zM91.86 154.56h1v8.88h-1zM93.85 154.56h1v8.88h-1zM102.82 154.56h1v8.88h-1zM105.81 154.56h1.99v8.88h-1.99zM109.8 154.56h1v8.88h-1zM112.79 154.56h1v8.88h-1zM114.78 154.56h1v8.88h-1zM117.77 154.56h1v8.88h-1zM119.77 154.56h1v8.88h-1zM135.71 154.56h1v8.88h-1zM59.97 163.44h1v8.88h-1zM87.87 163.44h1v8.88h-1zM89.87 163.44h1v8.88h-1zM93.85 163.44h1v8.88h-1zM99.83 163.44h1v8.88h-1zM103.82 163.44h1v8.88h-1zM106.81 163.44h2.99v8.88h-2.99zM112.79 163.44h1v8.88h-1zM114.78 163.44h1v8.88h-1zM119.77 163.44h1v8.88h-1zM122.76 163.44h1v8.88h-1zM124.75 163.44h1v8.88h-1zM51 172.32h1v8.88h-1zM57.97 172.32h1v8.88h-1zM65.95 172.32h1v8.88h-1zM69.93 172.32h1v8.88h-1zM75.91 172.32h1v8.88h-1zM84.88 172.32h1v8.88h-1zM91.86 172.32h1v8.88h-1zM93.85 172.32h1.99v8.88h-1.99zM98.84 172.32h1v8.88h-1zM103.82 172.32h1v8.88h-1zM105.81 172.32h1v8.88h-1zM108.8 172.32h1v8.88h-1zM112.79 172.32h1v8.88h-1zM117.77 172.32h1v8.88h-1zM119.77 172.32h1v8.88h-1zM124.75 172.32h1.99v8.88h-1.99zM135.71 172.32h1v8.88h-1zM57.97 181.2h1v8.88h-1zM65.95 181.2h1v8.88h-1zM91.86 181.2h1v8.88h-1zM93.85 181.2h1.99v8.88h-1.99zM103.82 181.2h1v8.88h-1zM105.81 181.2h1.99v8.88h-1.99zM109.8 181.2h1v8.88h-1zM112.79 181.2h1v8.88h-1zM114.78 181.2h1v8.88h-1zM119.77 181.2h1v8.88h-1zM124.75 181.2h1.99v8.88h-1.99zM55.98 190.08h1v8.88h-1zM65.95 190.08h1v8.88h-1zM71.93 190.08h1v8.88h-1zM76.91 190.08h1v8.88h-1zM91.86 190.08h1v8.88h-1zM93.85 190.08h1v8.88h-1zM99.83 190.08h1v8.88h-1zM103.82 190.08h1v8.88h-1zM117.77 190.08h1v8.88h-1zM119.77 190.08h1v8.88h-1zM125.75 190.08h1v8.88h-1zM51 198.96h1v8.88h-1zM55.98 198.96h1v8.88h-1zM57.97 198.96h1.99v8.88h-1.99zM65.95 198.96h1v8.88h-1zM71.93 198.96h1v8.88h-1zM74.92 198.96h1v8.88h-1zM79.9 198.96h1.99v8.88h-1.99zM84.88 198.96h1v8.88h-1zM91.86 198.96h1v8.88h-1zM93.85 198.96h1.99v8.88h-1.99zM99.83 198.96h1v8.88h-1zM104.82 198.96h1v8.88h-1zM106.81 198.96h1v8.88h-1zM108.8 198.96h1.99v8.88h-1.99zM112.79 198.96h1v8.88h-1zM114.78 198.96h1v8.88h-1zM124.75 198.96h1v8.88h-1zM176.58 198.96h1v8.88h-1zM51 207.84h1v8.88h-1zM55.98 207.84h1v8.88h-1zM57.97 207.84h1v8.88h-1zM71.93 207.84h1v8.88h-1zM84.88 207.84h1v8.88h-1zM91.86 207.84h1v8.88h-1zM93.85 207.84h1v8.88h-1zM99.83 207.84h1v8.88h-1zM103.82 207.84h1v8.88h-1zM106.81 207.84h1v8.88h-1zM108.8 207.84h1.99v8.88h-1.99zM114.78 207.84h1v8.88h-1zM117.77 207.84h1v8.88h-1zM119.77 207.84h1v8.88h-1zM124.75 207.84h1.99v8.88h-1.99zM51 216.72h1v8.88h-1zM55.98 216.72h1v8.88h-1zM65.95 216.72h1v8.88h-1zM71.93 216.72h1v8.88h-1zM76.91 216.72h1v8.88h-1zM91.86 216.72h1v8.88h-1zM93.85 216.72h1v8.88h-1zM98.84 216.72h1v8.88h-1zM103.82 216.72h1v8.88h-1zM112.79 216.72h1v8.88h-1zM114.78 216.72h1v8.88h-1zM117.77 216.72h1v8.88h-1zM119.77 216.72h1v8.88h-1zM122.76 216.72h1v8.88h-1zM125.75 216.72h1v8.88h-1zM55.98 225.6h1v8.88h-1zM57.97 225.6h1v8.88h-1zM84.88 225.6h1v8.88h-1zM87.87 225.6h1v8.88h-1zM93.85 225.6h1.99v8.88h-1.99zM102.82 225.6h1.99v8.88h-1.99zM106.81 225.6h1v8.88h-1zM108.8 225.6h1v8.88h-1zM110.8 225.6h1v8.88h-1zM112.79 225.6h1v8.88h-1zM114.78 225.6h1v8.88h-1zM117.77 225.6h1v8.88h-1zM119.77 225.6h1v8.88h-1zM124.75 225.6h1.99v8.88h-1.99zM71.93 234.48h1v8.88h-1zM84.88 234.48h1v8.88h-1zM91.86 234.48h1v8.88h-1zM93.85 234.48h1v8.88h-1zM99.83 234.48h1v8.88h-1zM102.82 234.48h1.99v8.88h-1.99zM105.81 234.48h1.99v8.88h-1.99zM108.8 234.48h1v8.88h-1zM112.79 234.48h1v8.88h-1zM114.78 234.48h1v8.88h-1zM117.77 234.48h1v8.88h-1zM119.77 234.48h1v8.88h-1zM124.75 234.48h1.99v8.88h-1.99zM137.71 243.36h1v8.88h-1zM154.65 243.36h1v8.88h-1zM157.64 243.36h1v8.88h-1zM164.62 243.36h1v8.88h-1zM166.61 243.36h1v8.88h-1zM182.56 243.36h1v8.88h-1zM191.53 243.36h1v8.88h-1zM194.52 243.36h1v8.88h-1zM127.74 252.24h1v8.88h-1zM129.73 252.24h1v8.88h-1zM134.72 252.24h1v8.88h-1zM137.71 252.24h1v8.88h-1zM139.7 252.24h1v8.88h-1zM142.69 252.24h1v8.88h-1zM145.68 252.24h2.99v8.88h-2.99zM154.65 252.24h1v8.88h-1zM157.64 252.24h1v8.88h-1zM160.63 252.24h1.99v8.88h-1.99zM164.62 252.24h1v8.88h-1zM166.61 252.24h1.99v8.88h-1.99zM170.6 252.24h1v8.88h-1zM175.58 252.24h1v8.88h-1zM178.57 252.24h2.99v8.88h-2.99zM182.56 252.24h1v8.88h-1zM186.54 252.24h1.99v8.88h-1.99zM192.52 252.24h1v8.88h-1zM194.52 252.24h1.99v8.88h-1.99zM198.5 252.24h1v8.88h-1zM134.72 261.12h1v8.88h-1zM145.68 261.12h1v8.88h-1zM149.67 261.12h1v8.88h-1zM154.65 261.12h1v8.88h-1zM160.63 261.12h1.99v8.88h-1.99zM163.62 261.12h1v8.88h-1zM172.59 261.12h1v8.88h-1zM175.58 261.12h1v8.88h-1zM181.56 261.12h1v8.88h-1zM186.54 261.12h1v8.88h-1zM190.53 261.12h1v8.88h-1zM192.52 261.12h1v8.88h-1zM194.52 261.12h1v8.88h-1z"/>
<path fill="#fdd98d" d="M50 48h2.99v8.88h-2.99zM54.98 48h1v8.88h-1zM57.97 48h2.99v8.88h-2.99zM62.96 48h3.99v8.88h-3.99zM69.93 48h1v8.88h-1zM71.93 48h1v8.88h-1zM75.91 48h1v8.88h-1zM77.91 48h1v8.88h-1zM79.9 48h1.99v8.88h-1.99zM82.89 48h1.99v8.88h-1.99zM86.88 48h1.99v8.88h-1.99zM89.87 48h1.99v8.88h-1.99zM94.85 48h2.99v8.88h-2.99zM98.84 48h1.99v8.88h-1.99zM101.83 48h1v8.88h-1zM104.82 48h1v8.88h-1zM107.81 48h2.99v8.88h-2.99zM111.79 48h1v8.88h-1zM114.78 48h1v8.88h-1zM119.77 48h1v8.88h-1zM122.76 48h2.99v8.88h-2.99zM130.73 48h1v8.88h-1zM140.7 48h1v8.88h-1zM143.69 48h1v8.88h-1zM183.55 48h1v8.88h-1zM187.54 48h1v8.88h-1zM51 56.88h1v8.88h-1zM53.99 56.88h1v8.88h-1zM55.98 56.88h1.99v8.88h-1.99zM58.97 56.88h1.99v8.88h-1.99zM61.96 56.88h1v8.88h-1zM63.95 56.88h2.99v8.88h-2.99zM69.93 56.88h2.99v8.88h-2.99zM74.92 56.88h3.99v8.88h-3.99zM79.9 56.88h3.99v8.88h-3.99zM85.88 56.88h1v8.88h-1zM87.87 56.88h1.99v8.88h-1.99zM93.85 56.88h1.99v8.88h-1.99zM96.84 56.88h3.99v8.88h-3.99zM101.83 56.88h1v8.88h-1zM103.82 56.88h1v8.88h-1zM106.81 56.88h1v8.88h-1zM109.8 56.88h1v8.88h-1zM113.79 56.88h2.99v8.88h-2.99zM119.77 56.88h1.99v8.88h-1.99zM122.76 56.88h1.99v8.88h-1.99zM130.73 56.88h1.99v8.88h-1.99zM135.71 56.88h1v8.88h-1zM138.7 56.88h1v8.88h-1zM140.7 56.88h1v8.88h-1zM176.58 56.88h1v8.88h-1zM183.55 56.88h1.99v8.88h-1.99zM196.51 56.88h1v8.88h-1zM50 65.76h1.99v8.88h-1.99zM53.99 65.76h1v8.88h-1zM55.98 65.76h1v8.88h-1zM59.97 65.76h1v8.88h-1zM62.96 65.76h1.99v8.88h-1.99zM65.95 65.76h1.99v8.88h-1.99zM69.93 65.76h1v8.88h-1zM75.91 65.76h1v8.88h-1zM77.91 65.76h3.99v8.88h-3.99zM85.88 65.76h1v8.88h-1zM87.87 65.76h1v8.88h-1zM89.87 65.76h1v8.88h-1zM93.85 65.76h2.99v8.88h-2.99zM97.84 65.76h1.99v8.88h-1.99zM100.83 65.76h1.99v8.88h-1.99zM103.82 65.76h1.99v8.88h-1.99zM109.8 65.76h4.98v8.88h-4.98zM115.78 65.76h1v8.88h-1zM119.77 65.76h1v8.88h-1zM122.76 65.76h1v8.88h-1zM130.73 65.76h2.99v8.88h-2.99zM135.71 65.76h1v8.88h-1zM138.7 65.76h1v8.88h-1zM140.7 65.76h1v8.88h-1zM143.69 65.76h1.99v8.88h-1.99zM155.65 65.76h1v8.88h-1zM173.59 65.76h1.99v8.88h-1.99zM176.58 65.76h1v8.88h-1zM183.55 65.76h1.99v8.88h-1.99zM198.5 65.76h1v8.88h-1zM50 74.64h1.99v8.88h-1.99zM55.98 74.64h1v8.88h-1zM58.97 74.64h1.99v8.88h-1.99zM61.96 74.64h4.98v8.88h-4.98zM68.94 74.64h1v8.88h-1zM71.93 74.64h2.99v8.88h-2.99zM76.91 74.64h1.99v8.88h-1.99zM79.9 74.64h2.99v8.88h-2.99zM85.88 74.64h1v8.88h-1zM87.87 74.64h1.99v8.88h-1.99zM90.86 74.64h1v8.88h-1zM94.85 74.64h5.98v8.88h-5.98zM103.82 74.64h1.99v8.88h-1.99zM106.81 74.64h2.99v8.88h-2.99zM110.8 74.64h1.99v8.88h-1.99zM113.79 74.64h4.98v8.88h-4.98zM119.77 74.64h5.98v8.88h-5.98zM130.73 74.64h1v8.88h-1zM132.72 74.64h1v8.88h-1zM135.71 74.64h1v8.88h-1zM140.7 74.64h1.99v8.88h-1.99zM143.69 74.64h1v8.88h-1zM151.66 74.64h1v8.88h-1zM153.65 74.64h1v8.88h-1zM158.64 74.64h1v8.88h-1zM171.59 74.64h1v8.88h-1zM173.59 74.64h1v8.88h-1zM175.58 74.64h2.99v8.88h-2.99zM183.55 74.64h1.99v8.88h-1.99zM188.54 74.64h1v8.88h-1zM50 83.52h1v8.88h-1zM54.98 83.52h3.99v8.88h-3.99zM59.97 83.52h1v8.88h-1zM62.96 83.52h3.99v8.88h-3.99zM69.93 83.52h1v8.88h-1zM71.93 83.52h3.99v8.88h-3.99zM76.91 83.52h1.99v8.88h-1.99zM80.9 83.52h1.99v8.88h-1.99zM83.89 83.52h1v8.88h-1zM86.88 83.52h4.98v8.88h-4.98zM94.85 83.52h1v8.88h-1zM96.84 83.52h5.98v8.88h-5.98zM103.82 83.52h1.99v8.88h-1.99zM106.81 83.52h4.98v8.88h-4.98zM112.79 83.52h1v8.88h-1zM115.78 83.52h1v8.88h-1zM120.76 83.52h4.98v8.88h-4.98zM130.73 83.52h1v8.88h-1zM132.72 83.52h1.99v8.88h-1.99zM135.71 83.52h1v8.88h-1zM138.7 83.52h1v8.88h-1zM140.7 83.52h1v8.88h-1zM143.69 83.52h1v8.88h-1zM148.67 83.52h1v8.88h-1zM150.66 83.52h1v8.88h-1zM155.65 83.52h1v8.88h-1zM167.61 83.52h1v8.88h-1zM169.6 83.52h1v8.88h-1zM173.59 83.52h1v8.88h-1zM176.58 83.52h1v8.88h-1zM183.55 83.52h1.99v8.88h-1.99zM196.51 83.52h1v8.88h-1zM50 92.4h2.99v8.88h-2.99zM54.98 92.4h1v8.88h-1zM56.98 92.4h3.99v8.88h-3.99zM62.96 92.4h1.99v8.88h-1.99zM65.95 92.4h2.99v8.88h-2.99zM69.93 92.4h1v8.88h-1zM71.93 92.4h1v8.88h-1zM73.92 92.4h3.99v8.88h-3.99zM79.9 92.4h1v8.88h-1zM83.89 92.4h1v8.88h-1zM85.88 92.4h2.99v8.88h-2.99zM89.87 92.4h1.99v8.88h-1.99zM94.85 92.4h1.99v8.88h-1.99zM97.84 92.4h3.99v8.88h-3.99zM103.82 92.4h1.99v8.88h-1.99zM106.81 92.4h4.98v8.88h-4.98zM112.79 92.4h1v8.88h-1zM114.78 92.4h2.99v8.88h-2.99zM120.76 92.4h4.98v8.88h-4.98zM130.73 92.4h2.99v8.88h-2.99zM138.7 92.4h2.99v8.88h-2.99zM148.67 92.4h1v8.88h-1zM153.65 92.4h1v8.88h-1zM155.65 92.4h1v8.88h-1zM165.61 92.4h1v8.88h-1zM169.6 92.4h1v8.88h-1zM171.59 92.4h1v8.88h-1zM173.59 92.4h1v8.88h-1zM176.58 92.4h1.99v8.88h-1.99zM183.55 92.4h1.99v8.88h-1.99zM188.54 92.4h1.99v8.88h-1.99zM196.51 92.4h1v8.88h-1zM50 101.28h1v8.88h-1zM51.99 101.28h1.99v8.88h-1.99zM55.98 101.28h1v8.88h-1zM58.97 101.28h1.99v8.88h-1.99zM62.96 101.28h3.99v8.88h-3.99zM67.94 101.28h1v8.88h-1zM69.93 101.28h2.99v8.88h-2.99zM73.92 101.28h1v8.88h-1zM75.91 101.28h7.97v8.88h-7.97zM86.88 101.28h5.98v8.88h-5.98zM94.85 101.28h5.98v8.88h-5.98zM101.83 101.28h1v8.88h-1zM103.82 101.28h1.99v8.88h-1.99zM107.81 101.28h1.99v8.88h-1.99zM110.8 101.28h1v8.88h-1zM112.79 101.28h1v8.88h-1zM115.78 101.28h2.99v8.88h-2.99zM119.77 101.28h1v8.88h-1zM122.76 101.28h2.99v8.88h-2.99zM130.73 101.28h2.99v8.88h-2.99zM135.71 101.28h1v8.88h-1zM138.7 101.28h1v8.88h-1zM143.69 101.28h1v8.88h-1zM149.67 101.28h1v8.88h-1zM168.6 101.28h1.99v8.88h-1.99zM173.59 101.28h1v8.88h-1zM176.58 101.28h1.99v8.88h-1.99zM180.56 101.28h1v8.88h-1zM183.55 101.28h1.99v8.88h-1.99zM187.54 101.28h1.99v8.88h-1.99zM196.51 101.28h1v8.88h-1zM50 110.16h1.99v8.88h-1.99zM52.99 110.16h1.99v8.88h-1.99zM55.98 110.16h1v8.88h-1zM58.97 110.16h1v8.88h-1zM61.96 110.16h4.98v8.88h-4.98zM69.93 110.16h1.99v8.88h-1.99zM74.92 110.16h1v8.88h-1zM77.91 110.16h1v8.88h-1zM79.9 110.16h2.99v8.88h-2.99zM83.89 110.16h1v8.88h-1zM85.88 110.16h2.99v8.88h-2.99zM90.86 110.16h1v8.88h-1zM94.85 110.16h2.99v8.88h-2.99zM99.83 110.16h2.99v8.88h-2.99zM104.82 110.16h1v8.88h-1zM106.81 110.16h4.98v8.88h-4.98zM113.79 110.16h1v8.88h-1zM115.78 110.16h1v8.88h-1zM117.77 110.16h1v8.88h-1zM119.77 110.16h2.99v8.88h-2.99zM123.75 110.16h1.99v8.88h-1.99zM128.74 110.16h1v8.88h-1zM131.73 110.16h2.99v8.88h-2.99zM135.71 110.16h1v8.88h-1zM138.7 110.16h1v8.88h-1zM141.69 110.16h1v8.88h-1zM143.69 110.16h1v8.88h-1zM148.67 110.16h1v8.88h-1zM150.66 110.16h1v8.88h-1zM153.65 110.16h1v8.88h-1zM155.65 110.16h1v8.88h-1zM158.64 110.16h1v8.88h-1zM160.63 110.16h1v8.88h-1zM168.6 110.16h1.99v8.88h-1.99zM171.59 110.16h1v8.88h-1zM173.59 110.16h1v8.88h-1zM176.58 110.16h1.99v8.88h-1.99zM184.55 110.16h1v8.88h-1zM188.54 110.16h1v8.88h-1zM193.52 110.16h1v8.88h-1zM196.51 110.16h1.99v8.88h-1.99zM51.99 119.04h1v8.88h-1zM55.98 119.04h1v8.88h-1zM58.97 119.04h2.99v8.88h-2.99zM62.96 119.04h3.99v8.88h-3.99zM68.94 119.04h1.99v8.88h-1.99zM75.91 119.04h2.99v8.88h-2.99zM81.89 119.04h1v8.88h-1zM83.89 119.04h1.99v8.88h-1.99zM86.88 119.04h2.99v8.88h-2.99zM90.86 119.04h1v8.88h-1zM94.85 119.04h6.98v8.88h-6.98zM103.82 119.04h1.99v8.88h-1.99zM109.8 119.04h1.99v8.88h-1.99zM113.79 119.04h1.99v8.88h-1.99zM116.78 119.04h1v8.88h-1zM119.77 119.04h5.98v8.88h-5.98zM126.74 119.04h2.99v8.88h-2.99zM130.73 119.04h1.99v8.88h-1.99zM135.71 119.04h1v8.88h-1zM138.7 119.04h1v8.88h-1zM140.7 119.04h1.99v8.88h-1.99zM143.69 119.04h1v8.88h-1zM149.67 119.04h1.99v8.88h-1.99zM155.65 119.04h1v8.88h-1zM165.61 119.04h1v8.88h-1zM167.61 119.04h2.99v8.88h-2.99zM173.59 119.04h1.99v8.88h-1.99zM177.57 119.04h1v8.88h-1zM181.56 119.04h1v8.88h-1zM183.55 119.04h2.99v8.88h-2.99zM193.52 119.04h1v8.88h-1zM195.51 119.04h1.99v8.88h-1.99zM198.5 119.04h1v8.88h-1zM50 127.92h1.99v8.88h-1.99zM53.99 127.92h1v8.88h-1zM55.98 127.92h1v8.88h-1zM57.97 127.92h1v8.88h-1zM59.97 127.92h1v8.88h-1zM61.96 127.92h5.98v8.88h-5.98zM69.93 127.92h1v8.88h-1zM76.91 127.92h1.99v8.88h-1.99zM79.9 127.92h2.99v8.88h-2.99zM89.87 127.92h2.99v8.88h-2.99zM93.85 127.92h3.99v8.88h-3.99zM98.84 127.92h1.99v8.88h-1.99zM104.82 127.92h1v8.88h-1zM106.81 127.92h1v8.88h-1zM108.8 127.92h1v8.88h-1zM112.79 127.92h2.99v8.88h-2.99zM116.78 127.92h1v8.88h-1zM121.76 127.92h2.99v8.88h-2.99zM130.73 127.92h1v8.88h-1zM132.72 127.92h1v8.88h-1zM138.7 127.92h1v8.88h-1zM140.7 127.92h1v8.88h-1zM143.69 127.92h1v8.88h-1zM150.66 127.92h1v8.88h-1zM155.65 127.92h1v8.88h-1zM163.62 127.92h1v8.88h-1zM170.6 127.92h1v8.88h-1zM173.59 127.92h1v8.88h-1zM176.58 127.92h1.99v8.88h-1.99zM183.55 127.92h1.99v8.88h-1.99zM188.54 127.92h1v8.88h-1zM50 136.8h3.99v8.88h-3.99zM54.98 136.8h1.99v8.88h-1.99zM58.97 136.8h1.99v8.88h-1.99zM61.96 136.8h1v8.88h-1zM63.95 136.8h1v8.88h-1zM65.95 136.8h1v8.88h-1zM68.94 136.8h3.99v8.88h-3.99zM73.92 136.8h3.99v8.88h-3.99zM78.9 136.8h1.99v8.88h-1.99zM81.89 136.8h2.99v8.88h-2.99zM85.88 136.8h5.98v8.88h-5.98zM93.85 136.8h1v8.88h-1zM95.85 136.8h1v8.88h-1zM97.84 136.8h4.98v8.88h-4.98zM103.82 136.8h1.99v8.88h-1.99zM106.81 136.8h1v8.88h-1zM108.8 136.8h3.99v8.88h-3.99zM114.78 136.8h1.99v8.88h-1.99zM118.77 136.8h1v8.88h-1zM120.76 136.8h4.98v8.88h-4.98zM130.73 136.8h2.99v8.88h-2.99zM135.71 136.8h1v8.88h-1zM138.7 136.8h1v8.88h-1zM140.7 136.8h1v8.88h-1zM143.69 136.8h1.99v8.88h-1.99zM148.67 136.8h1v8.88h-1zM150.66 136.8h1.99v8.88h-1.99zM155.65 136.8h1v8.88h-1zM158.64 136.8h1v8.88h-1zM168.6 136.8h1.99v8.88h-1.99zM175.58 136.8h2.99v8.88h-2.99zM187.54 136.8h2.99v8.88h-2.99zM51 145.68h1v8.88h-1zM53.99 145.68h1.99v8.88h-1.99zM56.98 145.68h3.99v8.88h-3.99zM61.96 145.68h3.99v8.88h-3.99zM66.94 145.68h1v8.88h-1zM68.94 145.68h2.99v8.88h-2.99zM74.92 145.68h6.98v8.88h-6.98zM83.89 145.68h1v8.88h-1zM86.88 145.68h2.99v8.88h-2.99zM90.86 145.68h1.99v8.88h-1.99zM94.85 145.68h1v8.88h-1zM96.84 145.68h2.99v8.88h-2.99zM100.83 145.68h1.99v8.88h-1.99zM104.82 145.68h1v8.88h-1zM106.81 145.68h4.98v8.88h-4.98zM112.79 145.68h2.99v8.88h-2.99zM117.77 145.68h1v8.88h-1zM120.76 145.68h1.99v8.88h-1.99zM123.75 145.68h1v8.88h-1zM126.74 145.68h1v8.88h-1zM130.73 145.68h1v8.88h-1zM133.72 145.68h1v8.88h-1zM135.71 145.68h1v8.88h-1zM138.7 145.68h1v8.88h-1zM140.7 145.68h1.99v8.88h-1.99zM143.69 145.68h1v8.88h-1zM148.67 145.68h1v8.88h-1zM150.66 145.68h1v8.88h-1zM163.62 145.68h1v8.88h-1zM168.6 145.68h1v8.88h-1zM176.58 145.68h1.99v8.88h-1.99zM183.55 145.68h1.99v8.88h-1.99zM187.54 145.68h1.99v8.88h-1.99zM193.52 145.68h1v8.88h-1zM196.51 145.68h1v8.88h-1zM50 154.56h2.99v8.88h-2.99zM53.99 154.56h2.99v8.88h-2.99zM57.97 154.56h1.99v8.88h-1.99zM62.96 154.56h3.99v8.88h-3.99zM69.93 154.56h2.99v8.88h-2.99zM74.92 154.56h2.99v8.88h-2.99zM79.9 154.56h1.99v8.88h-1.99zM85.88 154.56h4.98v8.88h-4.98zM94.85 154.56h1.99v8.88h-1.99zM97.84 154.56h2.99v8.88h-2.99zM101.83 154.56h1v8.88h-1zM103.82 154.56h1.99v8.88h-1.99zM108.8 154.56h1v8.88h-1zM110.8 154.56h1.99v8.88h-1.99zM116.78 154.56h1v8.88h-1zM121.76 154.56h1.99v8.88h-1.99zM124.75 154.56h1.99v8.88h-1.99zM130.73 154.56h2.99v8.88h-2.99zM138.7 154.56h1v8.88h-1zM143.69 154.56h1v8.88h-1zM148.67 154.56h1v8.88h-1zM169.6 154.56h1v8.88h-1zM173.59 154.56h1v8.88h-1zM176.58 154.56h1.99v8.88h-1.99zM183.55 154.56h1.99v8.88h-1.99zM50 163.44h1.99v8.88h-1.99zM53.99 163.44h1.99v8.88h-1.99zM58.97 163.44h1v8.88h-1zM62.96 163.44h4.98v8.88h-4.98zM70.93 163.44h1.99v8.88h-1.99zM73.92 163.44h4.98v8.88h-4.98zM79.9 163.44h4.98v8.88h-4.98zM85.88 163.44h1.99v8.88h-1.99zM88.87 163.44h1v8.88h-1zM90.86 163.44h1v8.88h-1zM94.85 163.44h4.98v8.88h-4.98zM100.83 163.44h1.99v8.88h-1.99zM104.82 163.44h1v8.88h-1zM109.8 163.44h1.99v8.88h-1.99zM116.78 163.44h1v8.88h-1zM121.76 163.44h1v8.88h-1zM126.74 163.44h1v8.88h-1zM129.73 163.44h1.99v8.88h-1.99zM132.72 163.44h1.99v8.88h-1.99zM135.71 163.44h1v8.88h-1zM138.7 163.44h2.99v8.88h-2.99zM143.69 163.44h1.99v8.88h-1.99zM149.67 163.44h2.99v8.88h-2.99zM161.63 163.44h1v8.88h-1zM165.61 163.44h1v8.88h-1zM167.61 163.44h1v8.88h-1zM169.6 163.44h2.99v8.88h-2.99zM174.58 163.44h3.99v8.88h-3.99zM181.56 163.44h1v8.88h-1zM184.55 163.44h1v8.88h-1zM188.54 163.44h1.99v8.88h-1.99zM193.52 163.44h1v8.88h-1zM196.51 163.44h1.99v8.88h-1.99zM50 172.32h1v8.88h-1zM51.99 172.32h2.99v8.88h-2.99zM55.98 172.32h1v8.88h-1zM58.97 172.32h1.99v8.88h-1.99zM61.96 172.32h3.99v8.88h-3.99zM66.94 172.32h1.99v8.88h-1.99zM70.93 172.32h1.99v8.88h-1.99zM73.92 172.32h1.99v8.88h-1.99zM76.91 172.32h1v8.88h-1zM79.9 172.32h1.99v8.88h-1.99zM83.89 172.32h1v8.88h-1zM85.88 172.32h5.98v8.88h-5.98zM95.85 172.32h1v8.88h-1zM97.84 172.32h1v8.88h-1zM99.83 172.32h1v8.88h-1zM101.83 172.32h1v8.88h-1zM104.82 172.32h1v8.88h-1zM106.81 172.32h1v8.88h-1zM109.8 172.32h2.99v8.88h-2.99zM114.78 172.32h1v8.88h-1zM116.78 172.32h1v8.88h-1zM120.76 172.32h1v8.88h-1zM122.76 172.32h1v8.88h-1zM130.73 172.32h3.99v8.88h-3.99zM143.69 172.32h1.99v8.88h-1.99zM151.66 172.32h1v8.88h-1zM155.65 172.32h1v8.88h-1zM169.6 172.32h1.99v8.88h-1.99zM173.59 172.32h1v8.88h-1zM176.58 172.32h1v8.88h-1zM183.55 172.32h1.99v8.88h-1.99zM188.54 172.32h1v8.88h-1zM196.51 172.32h1v8.88h-1zM50 181.2h3.99v8.88h-3.99zM55.98 181.2h1v8.88h-1zM58.97 181.2h1.99v8.88h-1.99zM62.96 181.2h2.99v8.88h-2.99zM66.94 181.2h5.98v8.88h-5.98zM73.92 181.2h9.97v8.88h-9.97zM86.88 181.2h4.98v8.88h-4.98zM95.85 181.2h1.99v8.88h-1.99zM98.84 181.2h1.99v8.88h-1.99zM101.83 181.2h1v8.88h-1zM104.82 181.2h1v8.88h-1zM108.8 181.2h1v8.88h-1zM110.8 181.2h1v8.88h-1zM115.78 181.2h1.99v8.88h-1.99zM120.76 181.2h1v8.88h-1zM122.76 181.2h1.99v8.88h-1.99zM128.74 181.2h1v8.88h-1zM130.73 181.2h4.98v8.88h-4.98zM138.7 181.2h1v8.88h-1zM141.69 181.2h1v8.88h-1zM143.69 181.2h1.99v8.88h-1.99zM148.67 181.2h2.99v8.88h-2.99zM153.65 181.2h1v8.88h-1zM155.65 181.2h1v8.88h-1zM165.61 181.2h1v8.88h-1zM168.6 181.2h1v8.88h-1zM173.59 181.2h1.99v8.88h-1.99zM176.58 181.2h1v8.88h-1zM183.55 181.2h2.99v8.88h-2.99zM192.52 181.2h1v8.88h-1zM196.51 181.2h1.99v8.88h-1.99zM50 190.08h1.99v8.88h-1.99zM57.97 190.08h1v8.88h-1zM59.97 190.08h1v8.88h-1zM62.96 190.08h2.99v8.88h-2.99zM70.93 190.08h1v8.88h-1zM74.92 190.08h1.99v8.88h-1.99zM77.91 190.08h1v8.88h-1zM79.9 190.08h1.99v8.88h-1.99zM86.88 190.08h1v8.88h-1zM89.87 190.08h1.99v8.88h-1.99zM94.85 190.08h4.98v8.88h-4.98zM100.83 190.08h1.99v8.88h-1.99zM104.82 190.08h1v8.88h-1zM106.81 190.08h1v8.88h-1zM108.8 190.08h1.99v8.88h-1.99zM112.79 190.08h1v8.88h-1zM114.78 190.08h1v8.88h-1zM116.78 190.08h1v8.88h-1zM120.76 190.08h4.98v8.88h-4.98zM132.72 190.08h1v8.88h-1zM135.71 190.08h1v8.88h-1zM138.7 190.08h1v8.88h-1zM140.7 190.08h1v8.88h-1zM169.6 190.08h1v8.88h-1zM173.59 190.08h1v8.88h-1zM177.57 190.08h1v8.88h-1zM184.55 190.08h1v8.88h-1zM187.54 190.08h1v8.88h-1zM196.51 190.08h1v8.88h-1zM50 198.96h1v8.88h-1zM51.99 198.96h1.99v8.88h-1.99zM54.98 198.96h1v8.88h-1zM56.98 198.96h1v8.88h-1zM59.97 198.96h1v8.88h-1zM61.96 198.96h2.99v8.88h-2.99zM69.93 198.96h1.99v8.88h-1.99zM72.92 198.96h1.99v8.88h-1.99zM75.91 198.96h2.99v8.88h-2.99zM81.89 198.96h1.99v8.88h-1.99zM86.88 198.96h4.98v8.88h-4.98zM92.86 198.96h1v8.88h-1zM95.85 198.96h3.99v8.88h-3.99zM100.83 198.96h1v8.88h-1zM103.82 198.96h1v8.88h-1zM107.81 198.96h1v8.88h-1zM110.8 198.96h1v8.88h-1zM113.79 198.96h1v8.88h-1zM115.78 198.96h1.99v8.88h-1.99zM118.77 198.96h5.98v8.88h-5.98zM126.74 198.96h1v8.88h-1zM128.74 198.96h1v8.88h-1zM130.73 198.96h5.98v8.88h-5.98zM138.7 198.96h1v8.88h-1zM140.7 198.96h1v8.88h-1zM143.69 198.96h1v8.88h-1zM148.67 198.96h1v8.88h-1zM155.65 198.96h1.99v8.88h-1.99zM158.64 198.96h1v8.88h-1zM163.62 198.96h1.99v8.88h-1.99zM168.6 198.96h2.99v8.88h-2.99zM173.59 198.96h1v8.88h-1zM180.56 198.96h1v8.88h-1zM183.55 198.96h2.99v8.88h-2.99zM187.54 198.96h1v8.88h-1zM193.52 198.96h1v8.88h-1zM196.51 198.96h2.99v8.88h-2.99zM50 207.84h1v8.88h-1zM51.99 207.84h1v8.88h-1zM54.98 207.84h1v8.88h-1zM58.97 207.84h1.99v8.88h-1.99zM61.96 207.84h4.98v8.88h-4.98zM67.94 207.84h1v8.88h-1zM69.93 207.84h1.99v8.88h-1.99zM73.92 207.84h1v8.88h-1zM75.91 207.84h3.99v8.88h-3.99zM80.9 207.84h2.99v8.88h-2.99zM86.88 207.84h4.98v8.88h-4.98zM92.86 207.84h1v8.88h-1zM94.85 207.84h1.99v8.88h-1.99zM97.84 207.84h1.99v8.88h-1.99zM100.83 207.84h1.99v8.88h-1.99zM104.82 207.84h1v8.88h-1zM107.81 207.84h1v8.88h-1zM110.8 207.84h1v8.88h-1zM112.79 207.84h1v8.88h-1zM116.78 207.84h1v8.88h-1zM121.76 207.84h2.99v8.88h-2.99zM128.74 207.84h1v8.88h-1zM130.73 207.84h1v8.88h-1zM132.72 207.84h1v8.88h-1zM138.7 207.84h1v8.88h-1zM140.7 207.84h1v8.88h-1zM143.69 207.84h1v8.88h-1zM147.67 207.84h1v8.88h-1zM149.67 207.84h1v8.88h-1zM155.65 207.84h1v8.88h-1zM158.64 207.84h1v8.88h-1zM160.63 207.84h1v8.88h-1zM171.59 207.84h1v8.88h-1zM173.59 207.84h1v8.88h-1zM184.55 207.84h1v8.88h-1zM188.54 207.84h1v8.88h-1zM50 216.72h1v8.88h-1zM53.99 216.72h1v8.88h-1zM56.98 216.72h3.99v8.88h-3.99zM61.96 216.72h3.99v8.88h-3.99zM67.94 216.72h1v8.88h-1zM69.93 216.72h1.99v8.88h-1.99zM73.92 216.72h2.99v8.88h-2.99zM77.91 216.72h1v8.88h-1zM79.9 216.72h2.99v8.88h-2.99zM83.89 216.72h1v8.88h-1zM85.88 216.72h2.99v8.88h-2.99zM89.87 216.72h1.99v8.88h-1.99zM92.86 216.72h1v8.88h-1zM94.85 216.72h1v8.88h-1zM96.84 216.72h1.99v8.88h-1.99zM99.83 216.72h1.99v8.88h-1.99zM104.82 216.72h1v8.88h-1zM106.81 216.72h4.98v8.88h-4.98zM120.76 216.72h1v8.88h-1zM123.75 216.72h1.99v8.88h-1.99zM130.73 216.72h1v8.88h-1zM132.72 216.72h1v8.88h-1zM135.71 216.72h1v8.88h-1zM138.7 216.72h1v8.88h-1zM140.7 216.72h1.99v8.88h-1.99zM146.68 216.72h1v8.88h-1zM150.66 216.72h1v8.88h-1zM160.63 216.72h1v8.88h-1zM167.61 216.72h2.99v8.88h-2.99zM171.59 216.72h1v8.88h-1zM173.59 216.72h1v8.88h-1zM176.58 216.72h1v8.88h-1zM180.56 216.72h1v8.88h-1zM183.55 216.72h1.99v8.88h-1.99zM188.54 216.72h1.99v8.88h-1.99zM197.51 216.72h1v8.88h-1zM50 225.6h2.99v8.88h-2.99zM54.98 225.6h1v8.88h-1zM58.97 225.6h1.99v8.88h-1.99zM61.96 225.6h4.98v8.88h-4.98zM69.93 225.6h7.97v8.88h-7.97zM80.9 225.6h1.99v8.88h-1.99zM85.88 225.6h1.99v8.88h-1.99zM88.87 225.6h2.99v8.88h-2.99zM97.84 225.6h3.99v8.88h-3.99zM104.82 225.6h1v8.88h-1zM107.81 225.6h1v8.88h-1zM109.8 225.6h1v8.88h-1zM115.78 225.6h1v8.88h-1zM122.76 225.6h1.99v8.88h-1.99zM132.72 225.6h1.99v8.88h-1.99zM138.7 225.6h1v8.88h-1zM140.7 225.6h1v8.88h-1zM143.69 225.6h1v8.88h-1zM151.66 225.6h1v8.88h-1zM155.65 225.6h1.99v8.88h-1.99zM158.64 225.6h1v8.88h-1zM163.62 225.6h1v8.88h-1zM167.61 225.6h1v8.88h-1zM176.58 225.6h1v8.88h-1zM183.55 225.6h1v8.88h-1zM187.54 225.6h1.99v8.88h-1.99zM193.52 225.6h1v8.88h-1zM197.51 225.6h1v8.88h-1zM50 234.48h1.99v8.88h-1.99zM55.98 234.48h4.98v8.88h-4.98zM61.96 234.48h4.98v8.88h-4.98zM67.94 234.48h1v8.88h-1zM70.93 234.48h1v8.88h-1zM73.92 234.48h1v8.88h-1zM75.91 234.48h1.99v8.88h-1.99zM80.9 234.48h1.99v8.88h-1.99zM83.89 234.48h1v8.88h-1zM86.88 234.48h1.99v8.88h-1.99zM89.87 234.48h1.99v8.88h-1.99zM94.85 234.48h4.98v8.88h-4.98zM100.83 234.48h1.99v8.88h-1.99zM109.8 234.48h1.99v8.88h-1.99zM121.76 234.48h2.99v8.88h-2.99zM132.72 234.48h1.99v8.88h-1.99zM135.71 234.48h1v8.88h-1zM140.7 234.48h1v8.88h-1zM153.65 234.48h1v8.88h-1zM169.6 234.48h1v8.88h-1zM173.59 234.48h1v8.88h-1zM183.55 234.48h1v8.88h-1zM196.51 234.48h1v8.88h-1zM70.93 243.36h1v8.88h-1zM75.91 243.36h1v8.88h-1zM82.89 243.36h1v8.88h-1zM92.86 243.36h1v8.88h-1zM98.84 243.36h1v8.88h-1zM101.83 243.36h1v8.88h-1zM113.79 243.36h1v8.88h-1zM123.75 243.36h1v8.88h-1zM126.74 243.36h3.99v8.88h-3.99zM131.73 243.36h1v8.88h-1zM134.72 243.36h1v8.88h-1zM136.71 243.36h1v8.88h-1zM138.7 243.36h1.99v8.88h-1.99zM142.69 243.36h5.98v8.88h-5.98zM149.67 243.36h4.98v8.88h-4.98zM156.64 243.36h1v8.88h-1zM158.64 243.36h5.98v8.88h-5.98zM165.61 243.36h1v8.88h-1zM167.61 243.36h1.99v8.88h-1.99zM170.6 243.36h5.98v8.88h-5.98zM178.57 243.36h3.99v8.88h-3.99zM184.55 243.36h1v8.88h-1zM186.54 243.36h1.99v8.88h-1.99zM189.53 243.36h1.99v8.88h-1.99zM192.52 243.36h1.99v8.88h-1.99zM195.51 243.36h1v8.88h-1zM197.51 243.36h1.99v8.88h-1.99zM52.99 252.24h1v8.88h-1zM54.98 252.24h1v8.88h-1zM56.98 252.24h1.99v8.88h-1.99zM62.96 252.24h1v8.88h-1zM66.94 252.24h1v8.88h-1zM68.94 252.24h1v8.88h-1zM72.92 252.24h1v8.88h-1zM74.92 252.24h1v8.88h-1zM76.91 252.24h1v8.88h-1zM79.9 252.24h1v8.88h-1zM83.89 252.24h1v8.88h-1zM85.88 252.24h1v8.88h-1zM92.86 252.24h1v8.88h-1zM96.84 252.24h1v8.88h-1zM99.83 252.24h1v8.88h-1zM101.83 252.24h1v8.88h-1zM115.78 252.24h1v8.88h-1zM120.76 252.24h1v8.88h-1zM122.76 252.24h1v8.88h-1zM126.74 252.24h1v8.88h-1zM128.74 252.24h1v8.88h-1zM131.73 252.24h2.99v8.88h-2.99zM135.71 252.24h1.99v8.88h-1.99zM138.7 252.24h1v8.88h-1zM141.69 252.24h1v8.88h-1zM143.69 252.24h1.99v8.88h-1.99zM149.67 252.24h4.98v8.88h-4.98zM155.65 252.24h1.99v8.88h-1.99zM158.64 252.24h1.99v8.88h-1.99zM162.62 252.24h1.99v8.88h-1.99zM165.61 252.24h1v8.88h-1zM168.6 252.24h1v8.88h-1zM171.59 252.24h1.99v8.88h-1.99zM174.58 252.24h1v8.88h-1zM176.58 252.24h1v8.88h-1zM181.56 252.24h1v8.88h-1zM184.55 252.24h1.99v8.88h-1.99zM189.53 252.24h2.99v8.88h-2.99zM193.52 252.24h1v8.88h-1zM197.51 252.24h1v8.88h-1zM79.9 261.12h1v8.88h-1zM83.89 261.12h1v8.88h-1zM92.86 261.12h1v8.88h-1zM100.83 261.12h1v8.88h-1zM113.79 261.12h1v8.88h-1zM123.75 261.12h1v8.88h-1zM126.74 261.12h3.99v8.88h-3.99zM131.73 261.12h1v8.88h-1zM136.71 261.12h1.99v8.88h-1.99zM139.7 261.12h1v8.88h-1zM141.69 261.12h1.99v8.88h-1.99zM144.68 261.12h1v8.88h-1zM146.68 261.12h1.99v8.88h-1.99zM150.66 261.12h3.99v8.88h-3.99zM155.65 261.12h4.98v8.88h-4.98zM162.62 261.12h1v8.88h-1zM164.62 261.12h1v8.88h-1zM166.61 261.12h5.98v8.88h-5.98zM173.59 261.12h1.99v8.88h-1.99zM177.57 261.12h3.99v8.88h-3.99zM182.56 261.12h1v8.88h-1zM185.55 261.12h1v8.88h-1zM187.54 261.12h2.99v8.88h-2.99zM191.53 261.12h1v8.88h-1zM193.52 261.12h1v8.88h-1zM195.51 261.12h3.99v8.88h-3.99z"/>
<path fill="#d8eff6" d="M52.99 48h1.99v8.88h-1.99zM56.98 48h1v8.88h-1zM60.96 48h1.99v8.88h-1.99zM66.94 48h1.99v8.88h-1.99zM70.93 48h1v8.88h-1zM72.92 48h2.99v8.88h-2.99zM76.91 48h1v8.88h-1zM78.9 48h1v8.88h-1zM81.89 48h1v8.88h-1zM85.88 48h1v8.88h-1zM88.87 48h1v8.88h-1zM92.86 48h1v8.88h-1zM97.84 48h1v8.88h-1zM100.83 48h1v8.88h-1zM110.8 48h1v8.88h-1zM113.79 48h1v8.88h-1zM115.78 48h1.99v8.88h-1.99zM118.77 48h1v8.88h-1zM120.76 48h1.99v8.88h-1.99zM126.74 48h3.99v8.88h-3.99zM131.73 48h5.98v8.88h-5.98zM138.7 48h1.99v8.88h-1.99zM142.69 48h1v8.88h-1zM146.68 48h7.97v8.88h-7.97zM155.65 48h1.99v8.88h-1.99zM158.64 48h1v8.88h-1zM160.63 48h1.99v8.88h-1.99zM163.62 48h1v8.88h-1zM165.61 48h1v8.88h-1zM167.61 48h4.98v8.88h-4.98zM173.59 48h1.99v8.88h-1.99zM176.58 48h1.99v8.88h-1.99zM179.57 48h3.99v8.88h-3.99zM184.55 48h1v8.88h-1zM188.54 48h2.99v8.88h-2.99zM192.52 48h1.99v8.88h-1.99zM195.51 48h3.99v8.88h-3.99zM50 56.88h1v8.88h-1zM51.99 56.88h1.99v8.88h-1.99zM54.98 56.88h1v8.88h-1zM60.96 56.88h1v8.88h-1zM62.96 56.88h1v8.88h-1zM66.94 56.88h2.99v8.88h-2.99zM72.92 56.88h1.99v8.88h-1.99zM78.9 56.88h1v8.88h-1zM83.89 56.88h1v8.88h-1zM86.88 56.88h1v8.88h-1zM89.87 56.88h1v8.88h-1zM92.86 56.88h1v8.88h-1zM100.83 56.88h1v8.88h-1zM104.82 56.88h1v8.88h-1zM107.81 56.88h1v8.88h-1zM110.8 56.88h1.99v8.88h-1.99zM116.78 56.88h1v8.88h-1zM118.77 56.88h1v8.88h-1zM121.76 56.88h1v8.88h-1zM126.74 56.88h3.99v8.88h-3.99zM132.72 56.88h2.99v8.88h-2.99zM136.71 56.88h1.99v8.88h-1.99zM139.7 56.88h1v8.88h-1zM141.69 56.88h4.98v8.88h-4.98zM148.67 56.88h5.98v8.88h-5.98zM155.65 56.88h8.97v8.88h-8.97zM165.61 56.88h4.98v8.88h-4.98zM171.59 56.88h4.98v8.88h-4.98zM177.57 56.88h1v8.88h-1zM179.57 56.88h2.99v8.88h-2.99zM185.55 56.88h5.98v8.88h-5.98zM192.52 56.88h1.99v8.88h-1.99zM195.51 56.88h1v8.88h-1zM197.51 56.88h1.99v8.88h-1.99zM51.99 65.76h1.99v8.88h-1.99zM54.98 65.76h1v8.88h-1zM56.98 65.76h1v8.88h-1zM58.97 65.76h1v8.88h-1zM60.96 65.76h1.99v8.88h-1.99zM64.95 65.76h1v8.88h-1zM67.94 65.76h1.99v8.88h-1.99zM70.93 65.76h1v8.88h-1zM72.92 65.76h2.99v8.88h-2.99zM76.91 65.76h1v8.88h-1zM81.89 65.76h2.99v8.88h-2.99zM86.88 65.76h1v8.88h-1zM88.87 65.76h1v8.88h-1zM90.86 65.76h1v8.88h-1zM92.86 65.76h1v8.88h-1zM96.84 65.76h1v8.88h-1zM107.81 65.76h1v8.88h-1zM116.78 65.76h1v8.88h-1zM118.77 65.76h1v8.88h-1zM120.76 65.76h1.99v8.88h-1.99zM123.75 65.76h1v8.88h-1zM126.74 65.76h3.99v8.88h-3.99zM133.72 65.76h1.99v8.88h-1.99zM137.71 65.76h1v8.88h-1zM139.7 65.76h1v8.88h-1zM141.69 65.76h1.99v8.88h-1.99zM145.68 65.76h8.97v8.88h-8.97zM156.64 65.76h2.99v8.88h-2.99zM160.63 65.76h11.96v8.88h-11.96zM177.57 65.76h1v8.88h-1zM179.57 65.76h2.99v8.88h-2.99zM185.55 65.76h1v8.88h-1zM187.54 65.76h2.99v8.88h-2.99zM191.53 65.76h2.99v8.88h-2.99zM195.51 65.76h2.99v8.88h-2.99zM51.99 74.64h3.99v8.88h-3.99zM56.98 74.64h1v8.88h-1zM60.96 74.64h1v8.88h-1zM66.94 74.64h1.99v8.88h-1.99zM70.93 74.64h1v8.88h-1zM74.92 74.64h1.99v8.88h-1.99zM78.9 74.64h1v8.88h-1zM82.89 74.64h1.99v8.88h-1.99zM86.88 74.64h1v8.88h-1zM92.86 74.64h1v8.88h-1zM100.83 74.64h1.99v8.88h-1.99zM118.77 74.64h1v8.88h-1zM126.74 74.64h3.99v8.88h-3.99zM131.73 74.64h1v8.88h-1zM133.72 74.64h1v8.88h-1zM136.71 74.64h3.99v8.88h-3.99zM144.68 74.64h1v8.88h-1zM146.68 74.64h4.98v8.88h-4.98zM152.66 74.64h1v8.88h-1zM155.65 74.64h2.99v8.88h-2.99zM159.63 74.64h1v8.88h-1zM161.63 74.64h1v8.88h-1zM163.62 74.64h2.99v8.88h-2.99zM167.61 74.64h3.99v8.88h-3.99zM172.59 74.64h1v8.88h-1zM174.58 74.64h1v8.88h-1zM179.57 74.64h1v8.88h-1zM181.56 74.64h1v8.88h-1zM185.55 74.64h1v8.88h-1zM187.54 74.64h1v8.88h-1zM189.53 74.64h4.98v8.88h-4.98zM196.51 74.64h2.99v8.88h-2.99zM51.99 83.52h2.99v8.88h-2.99zM58.97 83.52h1v8.88h-1zM60.96 83.52h1.99v8.88h-1.99zM66.94 83.52h2.99v8.88h-2.99zM70.93 83.52h1v8.88h-1zM75.91 83.52h1v8.88h-1zM78.9 83.52h1.99v8.88h-1.99zM82.89 83.52h1v8.88h-1zM85.88 83.52h1v8.88h-1zM92.86 83.52h1v8.88h-1zM95.85 83.52h1v8.88h-1zM111.79 83.52h1v8.88h-1zM113.79 83.52h1v8.88h-1zM116.78 83.52h1v8.88h-1zM118.77 83.52h1v8.88h-1zM126.74 83.52h3.99v8.88h-3.99zM131.73 83.52h1v8.88h-1zM134.72 83.52h1v8.88h-1zM136.71 83.52h1v8.88h-1zM139.7 83.52h1v8.88h-1zM141.69 83.52h1.99v8.88h-1.99zM144.68 83.52h3.99v8.88h-3.99zM149.67 83.52h1v8.88h-1zM151.66 83.52h2.99v8.88h-2.99zM156.64 83.52h5.98v8.88h-5.98zM163.62 83.52h3.99v8.88h-3.99zM168.6 83.52h1v8.88h-1zM170.6 83.52h2.99v8.88h-2.99zM174.58 83.52h1.99v8.88h-1.99zM177.57 83.52h3.99v8.88h-3.99zM182.56 83.52h1v8.88h-1zM185.55 83.52h1v8.88h-1zM187.54 83.52h2.99v8.88h-2.99zM191.53 83.52h2.99v8.88h-2.99zM195.51 83.52h1v8.88h-1zM197.51 83.52h1v8.88h-1zM52.99 92.4h1.99v8.88h-1.99zM61.96 92.4h1v8.88h-1zM64.95 92.4h1v8.88h-1zM68.94 92.4h1v8.88h-1zM70.93 92.4h1v8.88h-1zM72.92 92.4h1v8.88h-1zM77.91 92.4h1.99v8.88h-1.99zM81.89 92.4h1.99v8.88h-1.99zM88.87 92.4h1v8.88h-1zM92.86 92.4h1v8.88h-1zM96.84 92.4h1v8.88h-1zM101.83 92.4h1v8.88h-1zM111.79 92.4h1v8.88h-1zM113.79 92.4h1v8.88h-1zM118.77 92.4h1v8.88h-1zM127.74 92.4h2.99v8.88h-2.99zM133.72 92.4h1.99v8.88h-1.99zM137.71 92.4h1v8.88h-1zM141.69 92.4h3.99v8.88h-3.99zM146.68 92.4h1.99v8.88h-1.99zM150.66 92.4h1v8.88h-1zM152.66 92.4h1v8.88h-1zM156.64 92.4h1v8.88h-1zM158.64 92.4h3.99v8.88h-3.99zM163.62 92.4h1.99v8.88h-1.99zM168.6 92.4h1v8.88h-1zM170.6 92.4h1v8.88h-1zM172.59 92.4h1v8.88h-1zM174.58 92.4h1.99v8.88h-1.99zM178.57 92.4h3.99v8.88h-3.99zM185.55 92.4h1v8.88h-1zM187.54 92.4h1v8.88h-1zM192.52 92.4h1.99v8.88h-1.99zM195.51 92.4h1v8.88h-1zM197.51 92.4h1v8.88h-1zM53.99 101.28h1.99v8.88h-1.99zM56.98 101.28h1v8.88h-1zM60.96 101.28h1.99v8.88h-1.99zM66.94 101.28h1v8.88h-1zM68.94 101.28h1v8.88h-1zM72.92 101.28h1v8.88h-1zM74.92 101.28h1v8.88h-1zM83.89 101.28h1v8.88h-1zM85.88 101.28h1v8.88h-1zM92.86 101.28h1v8.88h-1zM100.83 101.28h1v8.88h-1zM111.79 101.28h1v8.88h-1zM113.79 101.28h1v8.88h-1zM118.77 101.28h1v8.88h-1zM120.76 101.28h1.99v8.88h-1.99zM126.74 101.28h3.99v8.88h-3.99zM133.72 101.28h1.99v8.88h-1.99zM136.71 101.28h1.99v8.88h-1.99zM139.7 101.28h1v8.88h-1zM141.69 101.28h1v8.88h-1zM144.68 101.28h1v8.88h-1zM146.68 101.28h2.99v8.88h-2.99zM150.66 101.28h3.99v8.88h-3.99zM155.65 101.28h5.98v8.88h-5.98zM162.62 101.28h3.99v8.88h-3.99zM167.61 101.28h1v8.88h-1zM170.6 101.28h2.99v8.88h-2.99zM174.58 101.28h1.99v8.88h-1.99zM181.56 101.28h1v8.88h-1zM189.53 101.28h1.99v8.88h-1.99zM192.52 101.28h1.99v8.88h-1.99zM195.51 101.28h1v8.88h-1zM197.51 101.28h1.99v8.88h-1.99zM51.99 110.16h1v8.88h-1zM54.98 110.16h1v8.88h-1zM56.98 110.16h1v8.88h-1zM60.96 110.16h1v8.88h-1zM66.94 110.16h2.99v8.88h-2.99zM72.92 110.16h1.99v8.88h-1.99zM75.91 110.16h1v8.88h-1zM78.9 110.16h1v8.88h-1zM82.89 110.16h1v8.88h-1zM88.87 110.16h1v8.88h-1zM92.86 110.16h1v8.88h-1zM97.84 110.16h1v8.88h-1zM111.79 110.16h1v8.88h-1zM116.78 110.16h1v8.88h-1zM118.77 110.16h1v8.88h-1zM126.74 110.16h1.99v8.88h-1.99zM129.73 110.16h1v8.88h-1zM134.72 110.16h1v8.88h-1zM136.71 110.16h1v8.88h-1zM139.7 110.16h1v8.88h-1zM142.69 110.16h1v8.88h-1zM144.68 110.16h3.99v8.88h-3.99zM149.67 110.16h1v8.88h-1zM151.66 110.16h1.99v8.88h-1.99zM156.64 110.16h1.99v8.88h-1.99zM159.63 110.16h1v8.88h-1zM161.63 110.16h1v8.88h-1zM163.62 110.16h2.99v8.88h-2.99zM167.61 110.16h1v8.88h-1zM170.6 110.16h1v8.88h-1zM172.59 110.16h1v8.88h-1zM174.58 110.16h1.99v8.88h-1.99zM178.57 110.16h4.98v8.88h-4.98zM185.55 110.16h1v8.88h-1zM187.54 110.16h1v8.88h-1zM189.53 110.16h3.99v8.88h-3.99zM198.5 110.16h1v8.88h-1zM50 119.04h1v8.88h-1zM52.99 119.04h2.99v8.88h-2.99zM56.98 119.04h1v8.88h-1zM61.96 119.04h1v8.88h-1zM66.94 119.04h1.99v8.88h-1.99zM70.93 119.04h1v8.88h-1zM72.92 119.04h2.99v8.88h-2.99zM78.9 119.04h1.99v8.88h-1.99zM82.89 119.04h1v8.88h-1zM85.88 119.04h1v8.88h-1zM92.86 119.04h1v8.88h-1zM101.83 119.04h1v8.88h-1zM107.81 119.04h1v8.88h-1zM111.79 119.04h1v8.88h-1zM115.78 119.04h1v8.88h-1zM118.77 119.04h1v8.88h-1zM129.73 119.04h1v8.88h-1zM133.72 119.04h1.99v8.88h-1.99zM136.71 119.04h1.99v8.88h-1.99zM139.7 119.04h1v8.88h-1zM142.69 119.04h1v8.88h-1zM145.68 119.04h3.99v8.88h-3.99zM151.66 119.04h2.99v8.88h-2.99zM156.64 119.04h3.99v8.88h-3.99zM161.63 119.04h3.99v8.88h-3.99zM166.61 119.04h1v8.88h-1zM170.6 119.04h2.99v8.88h-2.99zM179.57 119.04h1.99v8.88h-1.99zM182.56 119.04h1v8.88h-1zM187.54 119.04h2.99v8.88h-2.99zM191.53 119.04h1.99v8.88h-1.99zM197.51 119.04h1v8.88h-1zM51.99 127.92h1.99v8.88h-1.99zM54.98 127.92h1v8.88h-1zM56.98 127.92h1v8.88h-1zM58.97 127.92h1v8.88h-1zM60.96 127.92h1v8.88h-1zM67.94 127.92h1.99v8.88h-1.99zM70.93 127.92h1v8.88h-1zM72.92 127.92h3.99v8.88h-3.99zM78.9 127.92h1v8.88h-1zM82.89 127.92h1.99v8.88h-1.99zM85.88 127.92h3.99v8.88h-3.99zM92.86 127.92h1v8.88h-1zM97.84 127.92h1v8.88h-1zM100.83 127.92h1.99v8.88h-1.99zM107.81 127.92h1v8.88h-1zM110.8 127.92h1.99v8.88h-1.99zM115.78 127.92h1v8.88h-1zM118.77 127.92h1v8.88h-1zM120.76 127.92h1v8.88h-1zM126.74 127.92h1v8.88h-1zM128.74 127.92h1.99v8.88h-1.99zM131.73 127.92h1v8.88h-1zM133.72 127.92h4.98v8.88h-4.98zM139.7 127.92h1v8.88h-1zM141.69 127.92h1v8.88h-1zM144.68 127.92h1v8.88h-1zM146.68 127.92h3.99v8.88h-3.99zM152.66 127.92h1v8.88h-1zM157.64 127.92h2.99v8.88h-2.99zM161.63 127.92h1v8.88h-1zM164.62 127.92h1.99v8.88h-1.99zM167.61 127.92h2.99v8.88h-2.99zM171.59 127.92h1.99v8.88h-1.99zM174.58 127.92h1.99v8.88h-1.99zM181.56 127.92h1v8.88h-1zM185.55 127.92h1v8.88h-1zM187.54 127.92h1v8.88h-1zM189.53 127.92h4.98v8.88h-4.98zM195.51 127.92h3.99v8.88h-3.99zM53.99 136.8h1v8.88h-1zM56.98 136.8h1v8.88h-1zM60.96 136.8h1v8.88h-1zM62.96 136.8h1v8.88h-1zM64.95 136.8h1v8.88h-1zM66.94 136.8h1.99v8.88h-1.99zM72.92 136.8h1v8.88h-1zM77.91 136.8h1v8.88h-1zM92.86 136.8h1v8.88h-1zM96.84 136.8h1v8.88h-1zM107.81 136.8h1v8.88h-1zM113.79 136.8h1v8.88h-1zM126.74 136.8h3.99v8.88h-3.99zM133.72 136.8h1.99v8.88h-1.99zM136.71 136.8h1.99v8.88h-1.99zM139.7 136.8h1v8.88h-1zM141.69 136.8h1.99v8.88h-1.99zM146.68 136.8h1.99v8.88h-1.99zM149.67 136.8h1v8.88h-1zM152.66 136.8h1.99v8.88h-1.99zM156.64 136.8h1.99v8.88h-1.99zM160.63 136.8h7.97v8.88h-7.97zM170.6 136.8h4.98v8.88h-4.98zM178.57 136.8h4.98v8.88h-4.98zM184.55 136.8h1.99v8.88h-1.99zM190.53 136.8h1v8.88h-1zM192.52 136.8h1.99v8.88h-1.99zM195.51 136.8h3.99v8.88h-3.99zM50 145.68h1v8.88h-1zM51.99 145.68h1.99v8.88h-1.99zM60.96 145.68h1v8.88h-1zM67.94 145.68h1v8.88h-1zM72.92 145.68h1.99v8.88h-1.99zM81.89 145.68h1.99v8.88h-1.99zM85.88 145.68h1v8.88h-1zM92.86 145.68h1v8.88h-1zM95.85 145.68h1v8.88h-1zM111.79 145.68h1v8.88h-1zM115.78 145.68h1.99v8.88h-1.99zM118.77 145.68h1v8.88h-1zM127.74 145.68h2.99v8.88h-2.99zM131.73 145.68h1v8.88h-1zM136.71 145.68h1.99v8.88h-1.99zM139.7 145.68h1v8.88h-1zM142.69 145.68h1v8.88h-1zM144.68 145.68h1v8.88h-1zM146.68 145.68h1.99v8.88h-1.99zM149.67 145.68h1v8.88h-1zM151.66 145.68h2.99v8.88h-2.99zM155.65 145.68h1.99v8.88h-1.99zM158.64 145.68h4.98v8.88h-4.98zM165.61 145.68h1v8.88h-1zM167.61 145.68h1v8.88h-1zM169.6 145.68h2.99v8.88h-2.99zM173.59 145.68h2.99v8.88h-2.99zM179.57 145.68h2.99v8.88h-2.99zM185.55 145.68h1.99v8.88h-1.99zM189.53 145.68h1v8.88h-1zM191.53 145.68h1.99v8.88h-1.99zM195.51 145.68h1v8.88h-1zM197.51 145.68h1.99v8.88h-1.99zM52.99 154.56h1v8.88h-1zM56.98 154.56h1v8.88h-1zM59.97 154.56h2.99v8.88h-2.99zM66.94 154.56h2.99v8.88h-2.99zM72.92 154.56h1.99v8.88h-1.99zM78.9 154.56h1v8.88h-1zM81.89 154.56h2.99v8.88h-2.99zM90.86 154.56h1v8.88h-1zM92.86 154.56h1v8.88h-1zM96.84 154.56h1v8.88h-1zM100.83 154.56h1v8.88h-1zM107.81 154.56h1v8.88h-1zM113.79 154.56h1v8.88h-1zM115.78 154.56h1v8.88h-1zM118.77 154.56h1v8.88h-1zM120.76 154.56h1v8.88h-1zM123.75 154.56h1v8.88h-1zM126.74 154.56h3.99v8.88h-3.99zM133.72 154.56h1.99v8.88h-1.99zM136.71 154.56h1.99v8.88h-1.99zM139.7 154.56h3.99v8.88h-3.99zM144.68 154.56h1v8.88h-1zM146.68 154.56h1.99v8.88h-1.99zM149.67 154.56h4.98v8.88h-4.98zM155.65 154.56h1.99v8.88h-1.99zM158.64 154.56h3.99v8.88h-3.99zM163.62 154.56h2.99v8.88h-2.99zM167.61 154.56h1.99v8.88h-1.99zM171.59 154.56h1v8.88h-1zM174.58 154.56h1.99v8.88h-1.99zM178.57 154.56h1.99v8.88h-1.99zM181.56 154.56h1v8.88h-1zM185.55 154.56h5.98v8.88h-5.98zM192.52 154.56h1.99v8.88h-1.99zM195.51 154.56h3.99v8.88h-3.99zM51.99 163.44h1.99v8.88h-1.99zM56.98 163.44h1v8.88h-1zM61.96 163.44h1v8.88h-1zM67.94 163.44h2.99v8.88h-2.99zM72.92 163.44h1v8.88h-1zM78.9 163.44h1v8.88h-1zM92.86 163.44h1v8.88h-1zM111.79 163.44h1v8.88h-1zM113.79 163.44h1v8.88h-1zM115.78 163.44h1v8.88h-1zM118.77 163.44h1v8.88h-1zM120.76 163.44h1v8.88h-1zM123.75 163.44h1v8.88h-1zM127.74 163.44h1.99v8.88h-1.99zM131.73 163.44h1v8.88h-1zM134.72 163.44h1v8.88h-1zM136.71 163.44h1.99v8.88h-1.99zM141.69 163.44h1.99v8.88h-1.99zM145.68 163.44h3.99v8.88h-3.99zM152.66 163.44h8.97v8.88h-8.97zM162.62 163.44h2.99v8.88h-2.99zM166.61 163.44h1v8.88h-1zM168.6 163.44h1v8.88h-1zM173.59 163.44h1v8.88h-1zM178.57 163.44h2.99v8.88h-2.99zM182.56 163.44h1.99v8.88h-1.99zM185.55 163.44h2.99v8.88h-2.99zM190.53 163.44h2.99v8.88h-2.99zM194.52 163.44h1.99v8.88h-1.99zM198.5 163.44h1v8.88h-1zM54.98 172.32h1v8.88h-1zM56.98 172.32h1v8.88h-1zM60.96 172.32h1v8.88h-1zM72.92 172.32h1v8.88h-1zM77.91 172.32h1.99v8.88h-1.99zM81.89 172.32h1.99v8.88h-1.99zM92.86 172.32h1v8.88h-1zM96.84 172.32h1v8.88h-1zM100.83 172.32h1v8.88h-1zM107.81 172.32h1v8.88h-1zM113.79 172.32h1v8.88h-1zM115.78 172.32h1v8.88h-1zM118.77 172.32h1v8.88h-1zM121.76 172.32h1v8.88h-1zM123.75 172.32h1v8.88h-1zM126.74 172.32h3.99v8.88h-3.99zM134.72 172.32h1v8.88h-1zM137.71 172.32h5.98v8.88h-5.98zM145.68 172.32h5.98v8.88h-5.98zM152.66 172.32h1.99v8.88h-1.99zM156.64 172.32h2.99v8.88h-2.99zM160.63 172.32h1.99v8.88h-1.99zM163.62 172.32h5.98v8.88h-5.98zM171.59 172.32h1.99v8.88h-1.99zM174.58 172.32h1.99v8.88h-1.99zM177.57 172.32h1v8.88h-1zM179.57 172.32h3.99v8.88h-3.99zM185.55 172.32h2.99v8.88h-2.99zM189.53 172.32h1.99v8.88h-1.99zM192.52 172.32h1.99v8.88h-1.99zM195.51 172.32h1v8.88h-1zM197.51 172.32h1.99v8.88h-1.99zM53.99 181.2h1.99v8.88h-1.99zM56.98 181.2h1v8.88h-1zM60.96 181.2h1.99v8.88h-1.99zM72.92 181.2h1v8.88h-1zM83.89 181.2h1v8.88h-1zM85.88 181.2h1v8.88h-1zM92.86 181.2h1v8.88h-1zM97.84 181.2h1v8.88h-1zM100.83 181.2h1v8.88h-1zM107.81 181.2h1v8.88h-1zM111.79 181.2h1v8.88h-1zM113.79 181.2h1v8.88h-1zM118.77 181.2h1v8.88h-1zM121.76 181.2h1v8.88h-1zM126.74 181.2h1.99v8.88h-1.99zM129.73 181.2h1v8.88h-1zM135.71 181.2h2.99v8.88h-2.99zM139.7 181.2h1.99v8.88h-1.99zM146.68 181.2h1.99v8.88h-1.99zM151.66 181.2h1.99v8.88h-1.99zM156.64 181.2h8.97v8.88h-8.97zM167.61 181.2h1v8.88h-1zM169.6 181.2h3.99v8.88h-3.99zM175.58 181.2h1v8.88h-1zM177.57 181.2h5.98v8.88h-5.98zM186.54 181.2h3.99v8.88h-3.99zM191.53 181.2h1v8.88h-1zM193.52 181.2h2.99v8.88h-2.99zM198.5 181.2h1v8.88h-1zM51.99 190.08h2.99v8.88h-2.99zM56.98 190.08h1v8.88h-1zM58.97 190.08h1v8.88h-1zM61.96 190.08h1v8.88h-1zM66.94 190.08h3.99v8.88h-3.99zM72.92 190.08h1.99v8.88h-1.99zM78.9 190.08h1v8.88h-1zM81.89 190.08h2.99v8.88h-2.99zM85.88 190.08h1v8.88h-1zM87.87 190.08h1.99v8.88h-1.99zM92.86 190.08h1v8.88h-1zM107.81 190.08h1v8.88h-1zM110.8 190.08h1.99v8.88h-1.99zM113.79 190.08h1v8.88h-1zM115.78 190.08h1v8.88h-1zM118.77 190.08h1v8.88h-1zM126.74 190.08h1v8.88h-1zM128.74 190.08h3.99v8.88h-3.99zM133.72 190.08h1v8.88h-1zM136.71 190.08h1.99v8.88h-1.99zM139.7 190.08h1v8.88h-1zM141.69 190.08h15.95v8.88h-15.95zM158.64 190.08h2.99v8.88h-2.99zM163.62 190.08h5.98v8.88h-5.98zM170.6 190.08h2.99v8.88h-2.99zM174.58 190.08h2.99v8.88h-2.99zM179.57 190.08h4.98v8.88h-4.98zM185.55 190.08h1v8.88h-1zM188.54 190.08h5.98v8.88h-5.98zM195.51 190.08h1v8.88h-1zM197.51 190.08h1.99v8.88h-1.99zM53.99 198.96h1v8.88h-1zM60.96 198.96h1v8.88h-1zM64.95 198.96h1v8.88h-1zM66.94 198.96h2.99v8.88h-2.99zM78.9 198.96h1v8.88h-1zM83.89 198.96h1v8.88h-1zM85.88 198.96h1v8.88h-1zM101.83 198.96h1v8.88h-1zM111.79 198.96h1v8.88h-1zM127.74 198.96h1v8.88h-1zM129.73 198.96h1v8.88h-1zM136.71 198.96h1.99v8.88h-1.99zM139.7 198.96h1v8.88h-1zM141.69 198.96h1.99v8.88h-1.99zM144.68 198.96h1v8.88h-1zM146.68 198.96h1.99v8.88h-1.99zM149.67 198.96h4.98v8.88h-4.98zM159.63 198.96h3.99v8.88h-3.99zM165.61 198.96h1v8.88h-1zM167.61 198.96h1v8.88h-1zM171.59 198.96h1.99v8.88h-1.99zM174.58 198.96h1.99v8.88h-1.99zM177.57 198.96h2.99v8.88h-2.99zM181.56 198.96h1.99v8.88h-1.99zM186.54 198.96h1v8.88h-1zM188.54 198.96h4.98v8.88h-4.98zM195.51 198.96h1v8.88h-1zM52.99 207.84h1.99v8.88h-1.99zM56.98 207.84h1v8.88h-1zM60.96 207.84h1v8.88h-1zM66.94 207.84h1v8.88h-1zM68.94 207.84h1v8.88h-1zM72.92 207.84h1v8.88h-1zM74.92 207.84h1v8.88h-1zM79.9 207.84h1v8.88h-1zM83.89 207.84h1v8.88h-1zM85.88 207.84h1v8.88h-1zM96.84 207.84h1v8.88h-1zM111.79 207.84h1v8.88h-1zM113.79 207.84h1v8.88h-1zM118.77 207.84h1v8.88h-1zM120.76 207.84h1v8.88h-1zM126.74 207.84h1.99v8.88h-1.99zM129.73 207.84h1v8.88h-1zM133.72 207.84h4.98v8.88h-4.98zM139.7 207.84h1v8.88h-1zM141.69 207.84h1.99v8.88h-1.99zM144.68 207.84h2.99v8.88h-2.99zM148.67 207.84h1v8.88h-1zM150.66 207.84h3.99v8.88h-3.99zM157.64 207.84h1v8.88h-1zM159.63 207.84h1v8.88h-1zM161.63 207.84h9.97v8.88h-9.97zM172.59 207.84h1v8.88h-1zM174.58 207.84h7.97v8.88h-7.97zM183.55 207.84h1v8.88h-1zM185.55 207.84h2.99v8.88h-2.99zM189.53 207.84h4.98v8.88h-4.98zM195.51 207.84h3.99v8.88h-3.99zM51.99 216.72h1.99v8.88h-1.99zM54.98 216.72h1v8.88h-1zM60.96 216.72h1v8.88h-1zM66.94 216.72h1v8.88h-1zM68.94 216.72h1v8.88h-1zM72.92 216.72h1v8.88h-1zM78.9 216.72h1v8.88h-1zM82.89 216.72h1v8.88h-1zM88.87 216.72h1v8.88h-1zM95.85 216.72h1v8.88h-1zM101.83 216.72h1v8.88h-1zM111.79 216.72h1v8.88h-1zM113.79 216.72h1v8.88h-1zM115.78 216.72h1.99v8.88h-1.99zM118.77 216.72h1v8.88h-1zM121.76 216.72h1v8.88h-1zM126.74 216.72h3.99v8.88h-3.99zM131.73 216.72h1v8.88h-1zM133.72 216.72h1v8.88h-1zM136.71 216.72h1.99v8.88h-1.99zM139.7 216.72h1v8.88h-1zM142.69 216.72h3.99v8.88h-3.99zM147.67 216.72h2.99v8.88h-2.99zM151.66 216.72h2.99v8.88h-2.99zM155.65 216.72h1.99v8.88h-1.99zM158.64 216.72h1.99v8.88h-1.99zM161.63 216.72h5.98v8.88h-5.98zM170.6 216.72h1v8.88h-1zM172.59 216.72h1v8.88h-1zM174.58 216.72h1.99v8.88h-1.99zM177.57 216.72h1.99v8.88h-1.99zM181.56 216.72h1v8.88h-1zM185.55 216.72h2.99v8.88h-2.99zM190.53 216.72h3.99v8.88h-3.99zM195.51 216.72h1.99v8.88h-1.99zM198.5 216.72h1v8.88h-1zM52.99 225.6h1.99v8.88h-1.99zM56.98 225.6h1v8.88h-1zM60.96 225.6h1v8.88h-1zM66.94 225.6h2.99v8.88h-2.99zM77.91 225.6h2.99v8.88h-2.99zM82.89 225.6h1.99v8.88h-1.99zM92.86 225.6h1v8.88h-1zM95.85 225.6h1.99v8.88h-1.99zM101.83 225.6h1v8.88h-1zM111.79 225.6h1v8.88h-1zM113.79 225.6h1v8.88h-1zM116.78 225.6h1v8.88h-1zM118.77 225.6h1v8.88h-1zM120.76 225.6h1.99v8.88h-1.99zM126.74 225.6h2.99v8.88h-2.99zM130.73 225.6h1.99v8.88h-1.99zM134.72 225.6h3.99v8.88h-3.99zM139.7 225.6h1v8.88h-1zM141.69 225.6h1.99v8.88h-1.99zM144.68 225.6h6.98v8.88h-6.98zM152.66 225.6h1.99v8.88h-1.99zM157.64 225.6h1v8.88h-1zM159.63 225.6h3.99v8.88h-3.99zM164.62 225.6h2.99v8.88h-2.99zM168.6 225.6h7.97v8.88h-7.97zM177.57 225.6h5.98v8.88h-5.98zM184.55 225.6h2.99v8.88h-2.99zM189.53 225.6h3.99v8.88h-3.99zM195.51 225.6h1.99v8.88h-1.99zM198.5 225.6h1v8.88h-1zM51.99 234.48h2.99v8.88h-2.99zM60.96 234.48h1v8.88h-1zM66.94 234.48h1v8.88h-1zM68.94 234.48h1.99v8.88h-1.99zM72.92 234.48h1v8.88h-1zM74.92 234.48h1v8.88h-1zM77.91 234.48h2.99v8.88h-2.99zM82.89 234.48h1v8.88h-1zM85.88 234.48h1v8.88h-1zM88.87 234.48h1v8.88h-1zM92.86 234.48h1v8.88h-1zM104.82 234.48h1v8.88h-1zM107.81 234.48h1v8.88h-1zM111.79 234.48h1v8.88h-1zM113.79 234.48h1v8.88h-1zM115.78 234.48h1.99v8.88h-1.99zM118.77 234.48h1v8.88h-1zM120.76 234.48h1v8.88h-1zM126.74 234.48h5.98v8.88h-5.98zM134.72 234.48h1v8.88h-1zM136.71 234.48h3.99v8.88h-3.99zM141.69 234.48h9.97v8.88h-9.97zM152.66 234.48h1v8.88h-1zM155.65 234.48h1.99v8.88h-1.99zM158.64 234.48h7.97v8.88h-7.97zM167.61 234.48h1.99v8.88h-1.99zM170.6 234.48h2.99v8.88h-2.99zM174.58 234.48h1v8.88h-1zM176.58 234.48h5.98v8.88h-5.98zM184.55 234.48h9.97v8.88h-9.97zM195.51 234.48h1v8.88h-1zM197.51 234.48h1.99v8.88h-1.99zM50 243.36h1v8.88h-1zM51.99 243.36h18.94v8.88h-18.94zM71.93 243.36h3.99v8.88h-3.99zM77.91 243.36h4.98v8.88h-4.98zM83.89 243.36h1v8.88h-1zM85.88 243.36h1v8.88h-1zM87.87 243.36h3.99v8.88h-3.99zM94.85 243.36h3.99v8.88h-3.99zM99.83 243.36h1.99v8.88h-1.99zM103.82 243.36h1.99v8.88h-1.99zM106.81 243.36h2.99v8.88h-2.99zM110.8 243.36h2.99v8.88h-2.99zM115.78 243.36h3.99v8.88h-3.99zM120.76 243.36h2.99v8.88h-2.99zM124.75 243.36h1v8.88h-1zM130.73 243.36h1v8.88h-1zM132.72 243.36h1.99v8.88h-1.99zM135.71 243.36h1v8.88h-1zM140.7 243.36h1.99v8.88h-1.99zM148.67 243.36h1v8.88h-1zM155.65 243.36h1v8.88h-1zM169.6 243.36h1v8.88h-1zM176.58 243.36h1.99v8.88h-1.99zM183.55 243.36h1v8.88h-1zM185.55 243.36h1v8.88h-1zM188.54 243.36h1v8.88h-1zM196.51 243.36h1v8.88h-1zM50 252.24h2.99v8.88h-2.99zM53.99 252.24h1v8.88h-1zM58.97 252.24h3.99v8.88h-3.99zM63.95 252.24h2.99v8.88h-2.99zM67.94 252.24h1v8.88h-1zM69.93 252.24h2.99v8.88h-2.99zM73.92 252.24h1v8.88h-1zM75.91 252.24h1v8.88h-1zM77.91 252.24h1.99v8.88h-1.99zM80.9 252.24h2.99v8.88h-2.99zM84.88 252.24h1v8.88h-1zM86.88 252.24h5.98v8.88h-5.98zM94.85 252.24h1.99v8.88h-1.99zM97.84 252.24h1.99v8.88h-1.99zM100.83 252.24h1v8.88h-1zM103.82 252.24h1.99v8.88h-1.99zM106.81 252.24h8.97v8.88h-8.97zM116.78 252.24h3.99v8.88h-3.99zM121.76 252.24h1v8.88h-1zM123.75 252.24h1v8.88h-1zM125.75 252.24h1v8.88h-1zM130.73 252.24h1v8.88h-1zM140.7 252.24h1v8.88h-1zM148.67 252.24h1v8.88h-1zM169.6 252.24h1v8.88h-1zM173.59 252.24h1v8.88h-1zM177.57 252.24h1v8.88h-1zM183.55 252.24h1v8.88h-1zM188.54 252.24h1v8.88h-1zM196.51 252.24h1v8.88h-1zM50 261.12h1v8.88h-1zM51.99 261.12h11.96v8.88h-11.96zM64.95 261.12h14.95v8.88h-14.95zM81.89 261.12h1.99v8.88h-1.99zM85.88 261.12h5.98v8.88h-5.98zM94.85 261.12h5.98v8.88h-5.98zM101.83 261.12h1v8.88h-1zM103.82 261.12h5.98v8.88h-5.98zM110.8 261.12h2.99v8.88h-2.99zM114.78 261.12h4.98v8.88h-4.98zM120.76 261.12h2.99v8.88h-2.99zM124.75 261.12h1.99v8.88h-1.99zM130.73 261.12h1v8.88h-1zM132.72 261.12h1.99v8.88h-1.99zM135.71 261.12h1v8.88h-1zM138.7 261.12h1v8.88h-1zM140.7 261.12h1v8.88h-1zM143.69 261.12h1v8.88h-1zM148.67 261.12h1v8.88h-1zM165.61 261.12h1v8.88h-1zM183.55 261.12h1.99v8.88h-1.99z"/>
<path fill="#78b8de" d="M68.94 48h1v8.88h-1zM137.71 48h1v8.88h-1zM141.69 48h1v8.88h-1zM144.68 48h1.99v8.88h-1.99zM154.65 48h1v8.88h-1zM157.64 48h1v8.88h-1zM159.63 48h1v8.88h-1zM162.62 48h1v8.88h-1zM164.62 48h1v8.88h-1zM166.61 48h1v8.88h-1zM172.59 48h1v8.88h-1zM175.58 48h1v8.88h-1zM178.57 48h1v8.88h-1zM185.55 48h1.99v8.88h-1.99zM191.53 48h1v8.88h-1zM194.52 48h1v8.88h-1zM146.68 56.88h1.99v8.88h-1.99zM154.65 56.88h1v8.88h-1zM164.62 56.88h1v8.88h-1zM170.6 56.88h1v8.88h-1zM178.57 56.88h1v8.88h-1zM182.56 56.88h1v8.88h-1zM191.53 56.88h1v8.88h-1zM194.52 56.88h1v8.88h-1zM136.71 65.76h1v8.88h-1zM154.65 65.76h1v8.88h-1zM159.63 65.76h1v8.88h-1zM172.59 65.76h1v8.88h-1zM175.58 65.76h1v8.88h-1zM178.57 65.76h1v8.88h-1zM182.56 65.76h1v8.88h-1zM186.54 65.76h1v8.88h-1zM190.53 65.76h1v8.88h-1zM194.52 65.76h1v8.88h-1zM134.72 74.64h1v8.88h-1zM142.69 74.64h1v8.88h-1zM145.68 74.64h1v8.88h-1zM160.63 74.64h1v8.88h-1zM162.62 74.64h1v8.88h-1zM166.61 74.64h1v8.88h-1zM178.57 74.64h1v8.88h-1zM180.56 74.64h1v8.88h-1zM182.56 74.64h1v8.88h-1zM186.54 74.64h1v8.88h-1zM194.52 74.64h1.99v8.88h-1.99zM137.71 83.52h1v8.88h-1zM154.65 83.52h1v8.88h-1zM162.62 83.52h1v8.88h-1zM181.56 83.52h1v8.88h-1zM186.54 83.52h1v8.88h-1zM190.53 83.52h1v8.88h-1zM194.52 83.52h1v8.88h-1zM198.5 83.52h1v8.88h-1zM60.96 92.4h1v8.88h-1zM126.74 92.4h1v8.88h-1zM136.71 92.4h1v8.88h-1zM145.68 92.4h1v8.88h-1zM149.67 92.4h1v8.88h-1zM151.66 92.4h1v8.88h-1zM154.65 92.4h1v8.88h-1zM157.64 92.4h1v8.88h-1zM162.62 92.4h1v8.88h-1zM166.61 92.4h1.99v8.88h-1.99zM182.56 92.4h1v8.88h-1zM186.54 92.4h1v8.88h-1zM190.53 92.4h1.99v8.88h-1.99zM194.52 92.4h1v8.88h-1zM198.5 92.4h1v8.88h-1zM142.69 101.28h1v8.88h-1zM145.68 101.28h1v8.88h-1zM154.65 101.28h1v8.88h-1zM161.63 101.28h1v8.88h-1zM166.61 101.28h1v8.88h-1zM178.57 101.28h1.99v8.88h-1.99zM185.55 101.28h1.99v8.88h-1.99zM191.53 101.28h1v8.88h-1zM194.52 101.28h1v8.88h-1zM137.71 110.16h1v8.88h-1zM154.65 110.16h1v8.88h-1zM162.62 110.16h1v8.88h-1zM166.61 110.16h1v8.88h-1zM186.54 110.16h1v8.88h-1zM194.52 110.16h1.99v8.88h-1.99zM144.68 119.04h1v8.88h-1zM154.65 119.04h1v8.88h-1zM160.63 119.04h1v8.88h-1zM175.58 119.04h1v8.88h-1zM178.57 119.04h1v8.88h-1zM186.54 119.04h1v8.88h-1zM190.53 119.04h1v8.88h-1zM194.52 119.04h1v8.88h-1zM127.74 127.92h1v8.88h-1zM142.69 127.92h1v8.88h-1zM145.68 127.92h1v8.88h-1zM151.66 127.92h1v8.88h-1zM153.65 127.92h1.99v8.88h-1.99zM156.64 127.92h1v8.88h-1zM160.63 127.92h1v8.88h-1zM162.62 127.92h1v8.88h-1zM166.61 127.92h1v8.88h-1zM178.57 127.92h2.99v8.88h-2.99zM182.56 127.92h1v8.88h-1zM186.54 127.92h1v8.88h-1zM194.52 127.92h1v8.88h-1zM145.68 136.8h1v8.88h-1zM159.63 136.8h1v8.88h-1zM186.54 136.8h1v8.88h-1zM191.53 136.8h1v8.88h-1zM194.52 136.8h1v8.88h-1zM134.72 145.68h1v8.88h-1zM145.68 145.68h1v8.88h-1zM154.65 145.68h1v8.88h-1zM157.64 145.68h1v8.88h-1zM164.62 145.68h1v8.88h-1zM166.61 145.68h1v8.88h-1zM172.59 145.68h1v8.88h-1zM178.57 145.68h1v8.88h-1zM182.56 145.68h1v8.88h-1zM190.53 145.68h1v8.88h-1zM145.68 154.56h1v8.88h-1zM154.65 154.56h1v8.88h-1zM157.64 154.56h1v8.88h-1zM162.62 154.56h1v8.88h-1zM166.61 154.56h1v8.88h-1zM170.6 154.56h1v8.88h-1zM172.59 154.56h1v8.88h-1zM180.56 154.56h1v8.88h-1zM182.56 154.56h1v8.88h-1zM191.53 154.56h1v8.88h-1zM194.52 154.56h1v8.88h-1zM60.96 163.44h1v8.88h-1zM172.59 163.44h1v8.88h-1zM68.94 172.32h1v8.88h-1zM136.71 172.32h1v8.88h-1zM154.65 172.32h1v8.88h-1zM159.63 172.32h1v8.88h-1zM162.62 172.32h1v8.88h-1zM178.57 172.32h1v8.88h-1zM191.53 172.32h1v8.88h-1zM194.52 172.32h1v8.88h-1zM142.69 181.2h1v8.88h-1zM145.68 181.2h1v8.88h-1zM154.65 181.2h1v8.88h-1zM166.61 181.2h1v8.88h-1zM190.53 181.2h1v8.88h-1zM54.98 190.08h1v8.88h-1zM60.96 190.08h1v8.88h-1zM127.74 190.08h1v8.88h-1zM134.72 190.08h1v8.88h-1zM157.64 190.08h1v8.88h-1zM161.63 190.08h1.99v8.88h-1.99zM178.57 190.08h1v8.88h-1zM186.54 190.08h1v8.88h-1zM194.52 190.08h1v8.88h-1zM145.68 198.96h1v8.88h-1zM154.65 198.96h1v8.88h-1zM157.64 198.96h1v8.88h-1zM166.61 198.96h1v8.88h-1zM194.52 198.96h1v8.88h-1zM115.78 207.84h1v8.88h-1zM131.73 207.84h1v8.88h-1zM154.65 207.84h1v8.88h-1zM156.64 207.84h1v8.88h-1zM182.56 207.84h1v8.88h-1zM194.52 207.84h1v8.88h-1zM134.72 216.72h1v8.88h-1zM154.65 216.72h1v8.88h-1zM157.64 216.72h1v8.88h-1zM179.57 216.72h1v8.88h-1zM182.56 216.72h1v8.88h-1zM194.52 216.72h1v8.88h-1zM129.73 225.6h1v8.88h-1zM154.65 225.6h1v8.88h-1zM194.52 225.6h1v8.88h-1zM54.98 234.48h1v8.88h-1zM151.66 234.48h1v8.88h-1zM154.65 234.48h1v8.88h-1zM157.64 234.48h1v8.88h-1zM166.61 234.48h1v8.88h-1zM175.58 234.48h1v8.88h-1zM182.56 234.48h1v8.88h-1zM194.52 234.48h1v8.88h-1zM51 243.36h1v8.88h-1zM76.91 243.36h1v8.88h-1zM84.88 243.36h1v8.88h-1zM86.88 243.36h1v8.88h-1zM91.86 243.36h1v8.88h-1zM93.85 243.36h1v8.88h-1zM102.82 243.36h1v8.88h-1zM105.81 243.36h1v8.88h-1zM109.8 243.36h1v8.88h-1zM114.78 243.36h1v8.88h-1zM119.77 243.36h1v8.88h-1zM125.75 243.36h1v8.88h-1zM55.98 252.24h1v8.88h-1zM93.85 252.24h1v8.88h-1zM102.82 252.24h1v8.88h-1zM105.81 252.24h1v8.88h-1zM124.75 252.24h1v8.88h-1zM51 261.12h1v8.88h-1zM63.95 261.12h1v8.88h-1zM80.9 261.12h1v8.88h-1zM84.88 261.12h1v8.88h-1zM91.86 261.12h1v8.88h-1zM93.85 261.12h1v8.88h-1zM102.82 261.12h1v8.88h-1zM109.8 261.12h1v8.88h-1zM119.77 261.12h1v8.88h-1zM176.58 261.12h1v8.88h-1z"/>
<path fill="#2a78bd" d="M154.65 74.64h1v8.88h-1zM182.56 101.28h1v8.88h-1zM154.65 136.8h1v8.88h-1zM194.52 145.68h1v8.88h-1z"/>
<text x="200.7" y="54.64" font-size="6.3" fill="#444" class="g" textLength="19.29" lengthAdjust="spacingAndGlyphs">CEBPD</text>
<text x="200.7" y="63.52" font-size="6.3" fill="#444" class="g" textLength="17.73" lengthAdjust="spacingAndGlyphs">IFITM3</text>
<text x="200.7" y="72.4" font-size="6.3" fill="#444" class="g" textLength="17.73" lengthAdjust="spacingAndGlyphs">IFITM2</text>
<text x="200.7" y="81.28" font-size="6.3" fill="#444" class="g" textLength="14.94" lengthAdjust="spacingAndGlyphs">BAG3</text>
<text x="200.7" y="90.16" font-size="6.3" fill="#444" class="g" textLength="16.18" lengthAdjust="spacingAndGlyphs">DDIT4</text>
<text x="200.7" y="99.04" font-size="6.3" fill="#444" class="g" textLength="15.24" lengthAdjust="spacingAndGlyphs">DTNA</text>
<text x="200.7" y="107.92" font-size="6.3" fill="#444" class="g" textLength="21.17" lengthAdjust="spacingAndGlyphs">LGALS3</text>
<text x="200.7" y="116.8" font-size="6.3" fill="#444" class="g" textLength="25.52" lengthAdjust="spacingAndGlyphs">ANGPTL4</text>
<text x="200.7" y="125.68" font-size="6.3" fill="#444" class="g" textLength="6.53" lengthAdjust="spacingAndGlyphs">F3</text>
<text x="200.7" y="134.56" font-size="6.3" fill="#444" class="g" textLength="14.93" lengthAdjust="spacingAndGlyphs">MT2A</text>
<text x="200.7" y="143.44" font-size="6.3" fill="#444" class="g" textLength="14.93" lengthAdjust="spacingAndGlyphs">MT1X</text>
<text x="200.7" y="152.32" font-size="6.3" fill="#444" class="g" textLength="14.93" lengthAdjust="spacingAndGlyphs">MT1A</text>
<text x="200.7" y="161.2" font-size="6.3" fill="#444" class="g" textLength="21.16" lengthAdjust="spacingAndGlyphs">IGDCC4</text>
<text x="200.7" y="170.08" font-size="6.3" fill="#444" class="g" textLength="14.63" lengthAdjust="spacingAndGlyphs">PDK4</text>
<text x="200.7" y="178.96" font-size="6.3" fill="#444" class="g" textLength="15.25" lengthAdjust="spacingAndGlyphs">EMX2</text>
<text x="200.7" y="187.84" font-size="6.3" fill="#444" class="g" textLength="23.97" lengthAdjust="spacingAndGlyphs">TP53BP2</text>
<text x="200.7" y="196.72" font-size="6.3" fill="#444" class="g" textLength="14.01" lengthAdjust="spacingAndGlyphs">GJA1</text>
<text x="200.7" y="205.6" font-size="6.3" fill="#444" class="g" textLength="25.2" lengthAdjust="spacingAndGlyphs">METTL7A</text>
<text x="200.7" y="214.48" font-size="6.3" fill="#444" class="g" textLength="22.72" lengthAdjust="spacingAndGlyphs">CYBRD1</text>
<text x="200.7" y="223.36" font-size="6.3" fill="#444" class="g" textLength="21.79" lengthAdjust="spacingAndGlyphs">PLSCR4</text>
<text x="200.7" y="232.24" font-size="6.3" fill="#444" class="g" textLength="14.31" lengthAdjust="spacingAndGlyphs">FGF2</text>
<text x="200.7" y="241.12" font-size="6.3" fill="#444" class="g" textLength="13.9" lengthAdjust="spacingAndGlyphs">YAP1</text>
<text x="200.7" y="250" font-size="6.3" fill="#444" class="g" textLength="19.29" lengthAdjust="spacingAndGlyphs">RERGL</text>
<text x="200.7" y="258.88" font-size="6.3" fill="#444" class="g" textLength="11.51" lengthAdjust="spacingAndGlyphs">NPY</text>
<text x="200.7" y="267.76" font-size="6.3" fill="#444" class="g" textLength="27.38" lengthAdjust="spacingAndGlyphs">NEUROD6</text>
<path fill="none" stroke="#8a8a8a" stroke-width="0.7" d="M50 61.32H43.3V70.2H50M50 52.44H40.3V65.76H43.3M50 79.08H38.9V87.96H50M40.3 59.1H37.3V83.52H38.9M50 96.84H40V105.72H50M50 114.6H41.3V123.48H50M50 141.24H41.3V150.12H50M50 132.36H40.3V145.68H41.3M41.3 119.04H38V139.02H40.3M40 101.28H37V129.03H38M37.3 71.31H35.7V115.16H37M50 194.52H46V203.4H50M50 185.64H43.6V198.96H46M50 176.76H42.4V192.3H43.6M50 230.04H44.8V238.92H50M50 221.16H44.4V234.48H44.8M50 212.28H40.6V227.82H44.4M42.4 184.53H40.4V220.05H40.6M50 167.88H37.7V202.29H40.4M50 159H34.7V185.09H37.7M35.7 93.23H32.7V172.04H34.7M50 256.68H33.7V265.56H50M50 247.8H31.8V261.12H33.7M32.7 132.64H25.3V254.46H31.8"/>
<rect x="24.2" y="285.4" width="92.7" height="8.2" fill="#22cfe0"/>
<rect x="116.9" y="285.4" width="88.1" height="8.2" fill="#7cc614"/>
<rect x="24.2" y="294.9" width="3.92" height="8.2" fill="#faa500"/>
<rect x="28.07" y="294.9" width="2.63" height="8.2" fill="#f77ef2"/>
<rect x="30.66" y="294.9" width="3.92" height="8.2" fill="#faa500"/>
<rect x="34.53" y="294.9" width="1.34" height="8.2" fill="#f77ef2"/>
<rect x="35.82" y="294.9" width="1.34" height="8.2" fill="#faa500"/>
<rect x="37.11" y="294.9" width="2.63" height="8.2" fill="#f77ef2"/>
<rect x="39.7" y="294.9" width="2.63" height="8.2" fill="#faa500"/>
<rect x="42.28" y="294.9" width="1.34" height="8.2" fill="#f77ef2"/>
<rect x="43.57" y="294.9" width="1.34" height="8.2" fill="#faa500"/>
<rect x="44.86" y="294.9" width="1.34" height="8.2" fill="#f1aaf6"/>
<rect x="46.15" y="294.9" width="2.63" height="8.2" fill="#f77ef2"/>
<rect x="48.74" y="294.9" width="1.34" height="8.2" fill="#faa500"/>
<rect x="50.03" y="294.9" width="1.34" height="8.2" fill="#f77ef2"/>
<rect x="51.32" y="294.9" width="1.34" height="8.2" fill="#faa500"/>
<rect x="52.61" y="294.9" width="2.63" height="8.2" fill="#f77ef2"/>
<rect x="55.19" y="294.9" width="1.34" height="8.2" fill="#1fd285"/>
<rect x="56.49" y="294.9" width="1.34" height="8.2" fill="#f77ef2"/>
<rect x="57.78" y="294.9" width="3.92" height="8.2" fill="#faa500"/>
<rect x="61.65" y="294.9" width="1.34" height="8.2" fill="#f77ef2"/>
<rect x="62.94" y="294.9" width="2.63" height="8.2" fill="#faa500"/>
<rect x="65.53" y="294.9" width="2.63" height="8.2" fill="#f77ef2"/>
<rect x="68.11" y="294.9" width="2.63" height="8.2" fill="#1fd285"/>
<rect x="70.69" y="294.9" width="3.92" height="8.2" fill="#faa500"/>
<rect x="74.57" y="294.9" width="1.34" height="8.2" fill="#f77ef2"/>
<rect x="75.86" y="294.9" width="2.63" height="8.2" fill="#faa500"/>
<rect x="78.44" y="294.9" width="2.63" height="8.2" fill="#f77ef2"/>
<rect x="81.02" y="294.9" width="6.51" height="8.2" fill="#faa500"/>
<rect x="87.48" y="294.9" width="1.34" height="8.2" fill="#f77ef2"/>
<rect x="88.77" y="294.9" width="2.63" height="8.2" fill="#faa500"/>
<rect x="91.35" y="294.9" width="1.34" height="8.2" fill="#f77ef2"/>
<rect x="92.65" y="294.9" width="2.63" height="8.2" fill="#faa500"/>
<rect x="95.23" y="294.9" width="1.34" height="8.2" fill="#f77ef2"/>
<rect x="96.52" y="294.9" width="2.63" height="8.2" fill="#faa500"/>
<rect x="99.1" y="294.9" width="1.34" height="8.2" fill="#f77ef2"/>
<rect x="100.39" y="294.9" width="2.63" height="8.2" fill="#faa500"/>
<rect x="102.98" y="294.9" width="1.34" height="8.2" fill="#f1aaf6"/>
<rect x="104.27" y="294.9" width="6.51" height="8.2" fill="#faa500"/>
<rect x="110.73" y="294.9" width="1.34" height="8.2" fill="#f1aaf6"/>
<rect x="112.02" y="294.9" width="1.34" height="8.2" fill="#faa500"/>
<rect x="113.31" y="294.9" width="1.34" height="8.2" fill="#f77ef2"/>
<rect x="114.6" y="294.9" width="5.22" height="8.2" fill="#faa500"/>
<rect x="119.77" y="294.9" width="1.34" height="8.2" fill="#1fd285"/>
<rect x="121.06" y="294.9" width="1.34" height="8.2" fill="#f77ef2"/>
<rect x="122.35" y="294.9" width="1.34" height="8.2" fill="#f1aaf6"/>
<rect x="123.64" y="294.9" width="3.92" height="8.2" fill="#f77ef2"/>
<rect x="127.51" y="294.9" width="1.34" height="8.2" fill="#faa500"/>
<rect x="128.81" y="294.9" width="2.63" height="8.2" fill="#f77ef2"/>
<rect x="131.39" y="294.9" width="1.34" height="8.2" fill="#faa500"/>
<rect x="132.68" y="294.9" width="1.34" height="8.2" fill="#f77ef2"/>
<rect x="133.97" y="294.9" width="1.34" height="8.2" fill="#1fd285"/>
<rect x="135.26" y="294.9" width="1.34" height="8.2" fill="#f77ef2"/>
<rect x="136.55" y="294.9" width="1.34" height="8.2" fill="#faa500"/>
<rect x="137.85" y="294.9" width="1.34" height="8.2" fill="#f77ef2"/>
<rect x="139.14" y="294.9" width="1.34" height="8.2" fill="#f1aaf6"/>
<rect x="140.43" y="294.9" width="5.22" height="8.2" fill="#f77ef2"/>
<rect x="145.59" y="294.9" width="1.34" height="8.2" fill="#faa500"/>
<rect x="146.89" y="294.9" width="7.8" height="8.2" fill="#f77ef2"/>
<rect x="154.63" y="294.9" width="2.63" height="8.2" fill="#faa500"/>
<rect x="157.22" y="294.9" width="1.34" height="8.2" fill="#f1aaf6"/>
<rect x="158.51" y="294.9" width="3.92" height="8.2" fill="#faa500"/>
<rect x="162.38" y="294.9" width="1.34" height="8.2" fill="#f1aaf6"/>
<rect x="163.67" y="294.9" width="1.34" height="8.2" fill="#faa500"/>
<rect x="164.97" y="294.9" width="6.51" height="8.2" fill="#f77ef2"/>
<rect x="171.42" y="294.9" width="1.34" height="8.2" fill="#1fd285"/>
<rect x="172.71" y="294.9" width="5.22" height="8.2" fill="#f77ef2"/>
<rect x="177.88" y="294.9" width="1.34" height="8.2" fill="#faa500"/>
<rect x="179.17" y="294.9" width="3.92" height="8.2" fill="#f77ef2"/>
<rect x="183.05" y="294.9" width="1.34" height="8.2" fill="#faa500"/>
<rect x="184.34" y="294.9" width="2.63" height="8.2" fill="#f77ef2"/>
<rect x="186.92" y="294.9" width="1.34" height="8.2" fill="#faa500"/>
<rect x="188.21" y="294.9" width="6.51" height="8.2" fill="#f77ef2"/>
<rect x="194.67" y="294.9" width="1.34" height="8.2" fill="#faa500"/>
<rect x="195.96" y="294.9" width="3.92" height="8.2" fill="#f77ef2"/>
<rect x="199.83" y="294.9" width="1.34" height="8.2" fill="#1fd285"/>
<rect x="201.13" y="294.9" width="3.92" height="8.2" fill="#f77ef2"/>
<rect x="24.2" y="304.3" width="2.63" height="8.2" fill="#f7928a"/>
<rect x="26.78" y="304.3" width="2.63" height="8.2" fill="#20bdf0"/>
<rect x="29.37" y="304.3" width="1.34" height="8.2" fill="#f7928a"/>
<rect x="30.66" y="304.3" width="10.38" height="8.2" fill="#20bdf0"/>
<rect x="40.99" y="304.3" width="1.34" height="8.2" fill="#f7928a"/>
<rect x="42.28" y="304.3" width="1.34" height="8.2" fill="#20bdf0"/>
<rect x="43.57" y="304.3" width="3.92" height="8.2" fill="#f7928a"/>
<rect x="47.45" y="304.3" width="1.34" height="8.2" fill="#20bdf0"/>
<rect x="48.74" y="304.3" width="1.34" height="8.2" fill="#f7928a"/>
<rect x="50.03" y="304.3" width="1.34" height="8.2" fill="#20bdf0"/>
<rect x="51.32" y="304.3" width="3.92" height="8.2" fill="#f7928a"/>
<rect x="55.19" y="304.3" width="1.34" height="8.2" fill="#20bdf0"/>
<rect x="56.49" y="304.3" width="1.34" height="8.2" fill="#f7928a"/>
<rect x="57.78" y="304.3" width="1.34" height="8.2" fill="#20bdf0"/>
<rect x="59.07" y="304.3" width="5.22" height="8.2" fill="#f7928a"/>
<rect x="64.23" y="304.3" width="1.34" height="8.2" fill="#20bdf0"/>
<rect x="65.53" y="304.3" width="1.34" height="8.2" fill="#f7928a"/>
<rect x="66.82" y="304.3" width="1.34" height="8.2" fill="#20bdf0"/>
<rect x="68.11" y="304.3" width="2.63" height="8.2" fill="#f7928a"/>
<rect x="70.69" y="304.3" width="2.63" height="8.2" fill="#20bdf0"/>
<rect x="73.27" y="304.3" width="2.63" height="8.2" fill="#f7928a"/>
<rect x="75.86" y="304.3" width="2.63" height="8.2" fill="#20bdf0"/>
<rect x="78.44" y="304.3" width="2.63" height="8.2" fill="#f7928a"/>
<rect x="81.02" y="304.3" width="1.34" height="8.2" fill="#20bdf0"/>
<rect x="82.31" y="304.3" width="5.22" height="8.2" fill="#f7928a"/>
<rect x="87.48" y="304.3" width="3.92" height="8.2" fill="#20bdf0"/>
<rect x="91.35" y="304.3" width="3.92" height="8.2" fill="#f7928a"/>
<rect x="95.23" y="304.3" width="3.92" height="8.2" fill="#20bdf0"/>
<rect x="99.1" y="304.3" width="3.92" height="8.2" fill="#f7928a"/>
<rect x="102.98" y="304.3" width="1.34" height="8.2" fill="#20bdf0"/>
<rect x="104.27" y="304.3" width="7.8" height="8.2" fill="#f7928a"/>
<rect x="112.02" y="304.3" width="1.34" height="8.2" fill="#20bdf0"/>
<rect x="113.31" y="304.3" width="1.34" height="8.2" fill="#f7928a"/>
<rect x="114.6" y="304.3" width="1.34" height="8.2" fill="#20bdf0"/>
<rect x="115.89" y="304.3" width="1.34" height="8.2" fill="#f7928a"/>
<rect x="117.18" y="304.3" width="1.34" height="8.2" fill="#20bdf0"/>
<rect x="118.47" y="304.3" width="2.63" height="8.2" fill="#f7928a"/>
<rect x="121.06" y="304.3" width="1.34" height="8.2" fill="#20bdf0"/>
<rect x="122.35" y="304.3" width="2.63" height="8.2" fill="#f7928a"/>
<rect x="124.93" y="304.3" width="1.34" height="8.2" fill="#20bdf0"/>
<rect x="126.22" y="304.3" width="7.8" height="8.2" fill="#f7928a"/>
<rect x="133.97" y="304.3" width="1.34" height="8.2" fill="#20bdf0"/>
<rect x="135.26" y="304.3" width="1.34" height="8.2" fill="#f7928a"/>
<rect x="136.55" y="304.3" width="2.63" height="8.2" fill="#20bdf0"/>
<rect x="139.14" y="304.3" width="2.63" height="8.2" fill="#f7928a"/>
<rect x="141.72" y="304.3" width="2.63" height="8.2" fill="#20bdf0"/>
<rect x="144.3" y="304.3" width="5.22" height="8.2" fill="#f7928a"/>
<rect x="149.47" y="304.3" width="2.63" height="8.2" fill="#20bdf0"/>
<rect x="152.05" y="304.3" width="2.63" height="8.2" fill="#f7928a"/>
<rect x="154.63" y="304.3" width="1.34" height="8.2" fill="#20bdf0"/>
<rect x="155.93" y="304.3" width="2.63" height="8.2" fill="#f7928a"/>
<rect x="158.51" y="304.3" width="1.34" height="8.2" fill="#20bdf0"/>
<rect x="159.8" y="304.3" width="2.63" height="8.2" fill="#f7928a"/>
<rect x="162.38" y="304.3" width="2.63" height="8.2" fill="#20bdf0"/>
<rect x="164.97" y="304.3" width="1.34" height="8.2" fill="#f7928a"/>
<rect x="166.26" y="304.3" width="3.92" height="8.2" fill="#20bdf0"/>
<rect x="170.13" y="304.3" width="5.22" height="8.2" fill="#f7928a"/>
<rect x="175.3" y="304.3" width="2.63" height="8.2" fill="#20bdf0"/>
<rect x="177.88" y="304.3" width="1.34" height="8.2" fill="#f7928a"/>
<rect x="179.17" y="304.3" width="1.34" height="8.2" fill="#20bdf0"/>
<rect x="180.46" y="304.3" width="2.63" height="8.2" fill="#f7928a"/>
<rect x="183.05" y="304.3" width="3.92" height="8.2" fill="#20bdf0"/>
<rect x="186.92" y="304.3" width="1.34" height="8.2" fill="#f7928a"/>
<rect x="188.21" y="304.3" width="1.34" height="8.2" fill="#20bdf0"/>
<rect x="189.5" y="304.3" width="5.22" height="8.2" fill="#f7928a"/>
<rect x="194.67" y="304.3" width="5.22" height="8.2" fill="#20bdf0"/>
<rect x="199.83" y="304.3" width="3.92" height="8.2" fill="#f7928a"/>
<rect x="203.71" y="304.3" width="1.34" height="8.2" fill="#20bdf0"/>
<rect x="24.2" y="313.6" width="1.34" height="8.2" fill="#b5c3e8"/>
<rect x="25.49" y="313.6" width="1.34" height="8.2" fill="#c2d0ec"/>
<rect x="26.78" y="313.6" width="1.34" height="8.2" fill="#8c71c2"/>
<rect x="28.07" y="313.6" width="1.34" height="8.2" fill="#bac8e9"/>
<rect x="29.37" y="313.6" width="1.34" height="8.2" fill="#cedcf0"/>
<rect x="30.66" y="313.6" width="1.34" height="8.2" fill="#b6c4e8"/>
<rect x="31.95" y="313.6" width="1.34" height="8.2" fill="#a6b1e0"/>
<rect x="33.24" y="313.6" width="1.34" height="8.2" fill="#d4e2f2"/>
<rect x="34.53" y="313.6" width="1.34" height="8.2" fill="#afbce5"/>
<rect x="35.82" y="313.6" width="1.34" height="8.2" fill="#bbc9ea"/>
<rect x="37.11" y="313.6" width="1.34" height="8.2" fill="#b6c4e8"/>
<rect x="38.41" y="313.6" width="1.34" height="8.2" fill="#b1bfe6"/>
<rect x="39.7" y="313.6" width="1.34" height="8.2" fill="#b9c7e9"/>
<rect x="40.99" y="313.6" width="1.34" height="8.2" fill="#b4c2e7"/>
<rect x="42.28" y="313.6" width="1.34" height="8.2" fill="#8f7dc9"/>
<rect x="43.57" y="313.6" width="1.34" height="8.2" fill="#b8c6e9"/>
<rect x="44.86" y="313.6" width="1.34" height="8.2" fill="#b6c4e8"/>
<rect x="46.15" y="313.6" width="1.34" height="8.2" fill="#b5c3e8"/>
<rect x="47.45" y="313.6" width="1.34" height="8.2" fill="#b9c7e9"/>
<rect x="48.74" y="313.6" width="1.34" height="8.2" fill="#a9b4e2"/>
<rect x="50.03" y="313.6" width="1.34" height="8.2" fill="#b7c5e8"/>
<rect x="51.32" y="313.6" width="1.34" height="8.2" fill="#b6c4e8"/>
<rect x="52.61" y="313.6" width="1.34" height="8.2" fill="#aab5e2"/>
<rect x="53.9" y="313.6" width="1.34" height="8.2" fill="#afbce5"/>
<rect x="55.19" y="313.6" width="1.34" height="8.2" fill="#a8b3e1"/>
<rect x="56.49" y="313.6" width="1.34" height="8.2" fill="#b4c2e7"/>
<rect x="57.78" y="313.6" width="1.34" height="8.2" fill="#bccaea"/>
<rect x="59.07" y="313.6" width="1.34" height="8.2" fill="#bdcbea"/>
<rect x="60.36" y="313.6" width="1.34" height="8.2" fill="#9ea6db"/>
<rect x="61.65" y="313.6" width="1.34" height="8.2" fill="#c8d6ee"/>
<rect x="62.94" y="313.6" width="1.34" height="8.2" fill="#b5c3e8"/>
<rect x="64.23" y="313.6" width="1.34" height="8.2" fill="#9ca3da"/>
<rect x="65.53" y="313.6" width="2.63" height="8.2" fill="#b3c1e7"/>
<rect x="68.11" y="313.6" width="1.34" height="8.2" fill="#bdcbea"/>
<rect x="69.4" y="313.6" width="1.34" height="8.2" fill="#d1dff1"/>
<rect x="70.69" y="313.6" width="1.34" height="8.2" fill="#9aa0d8"/>
<rect x="71.98" y="313.6" width="1.34" height="8.2" fill="#bccaea"/>
<rect x="73.27" y="313.6" width="1.34" height="8.2" fill="#b9c7e9"/>
<rect x="74.57" y="313.6" width="1.34" height="8.2" fill="#c4d2ed"/>
<rect x="75.86" y="313.6" width="1.34" height="8.2" fill="#c7d5ee"/>
<rect x="77.15" y="313.6" width="1.34" height="8.2" fill="#bac8e9"/>
<rect x="78.44" y="313.6" width="1.34" height="8.2" fill="#b7c5e8"/>
<rect x="79.73" y="313.6" width="1.34" height="8.2" fill="#b5c3e8"/>
<rect x="81.02" y="313.6" width="1.34" height="8.2" fill="#8f7fca"/>
<rect x="82.31" y="313.6" width="1.34" height="8.2" fill="#b0bee6"/>
<rect x="83.61" y="313.6" width="1.34" height="8.2" fill="#c3d1ec"/>
<rect x="84.9" y="313.6" width="1.34" height="8.2" fill="#b7c5e8"/>
<rect x="86.19" y="313.6" width="1.34" height="8.2" fill="#b8c6e9"/>
<rect x="87.48" y="313.6" width="1.34" height="8.2" fill="#d2e0f2"/>
<rect x="88.77" y="313.6" width="1.34" height="8.2" fill="#9ea6db"/>
<rect x="90.06" y="313.6" width="1.34" height="8.2" fill="#9082cb"/>
<rect x="91.35" y="313.6" width="1.34" height="8.2" fill="#dfedf6"/>
<rect x="92.65" y="313.6" width="1.34" height="8.2" fill="#bccaea"/>
<rect x="93.94" y="313.6" width="1.34" height="8.2" fill="#afbce5"/>
<rect x="95.23" y="313.6" width="1.34" height="8.2" fill="#a8b3e1"/>
<rect x="96.52" y="313.6" width="1.34" height="8.2" fill="#b9c7e9"/>
<rect x="97.81" y="313.6" width="1.34" height="8.2" fill="#a8b4e1"/>
<rect x="99.1" y="313.6" width="1.34" height="8.2" fill="#b5c3e8"/>
<rect x="100.39" y="313.6" width="1.34" height="8.2" fill="#b7c5e8"/>
<rect x="101.69" y="313.6" width="1.34" height="8.2" fill="#b0bee6"/>
<rect x="102.98" y="313.6" width="1.34" height="8.2" fill="#cfddf1"/>
<rect x="104.27" y="313.6" width="1.34" height="8.2" fill="#9596d4"/>
<rect x="105.56" y="313.6" width="1.34" height="8.2" fill="#acb9e4"/>
<rect x="106.85" y="313.6" width="1.34" height="8.2" fill="#d5e3f3"/>
<rect x="108.14" y="313.6" width="1.34" height="8.2" fill="#bac8e9"/>
<rect x="109.43" y="313.6" width="1.34" height="8.2" fill="#b1bfe6"/>
<rect x="110.73" y="313.6" width="1.34" height="8.2" fill="#d1dff1"/>
<rect x="112.02" y="313.6" width="1.34" height="8.2" fill="#b6c4e8"/>
<rect x="113.31" y="313.6" width="1.34" height="8.2" fill="#c4d2ed"/>
<rect x="114.6" y="313.6" width="1.34" height="8.2" fill="#b4c2e7"/>
<rect x="115.89" y="313.6" width="1.34" height="8.2" fill="#c1cfec"/>
<rect x="117.18" y="313.6" width="1.34" height="8.2" fill="#979cd7"/>
<rect x="118.47" y="313.6" width="1.34" height="8.2" fill="#c6d4ed"/>
<rect x="119.77" y="313.6" width="2.63" height="8.2" fill="#b5c3e8"/>
<rect x="122.35" y="313.6" width="1.34" height="8.2" fill="#a9b5e2"/>
<rect x="123.64" y="313.6" width="1.34" height="8.2" fill="#b9c7e9"/>
<rect x="124.93" y="313.6" width="1.34" height="8.2" fill="#cfddf1"/>
<rect x="126.22" y="313.6" width="1.34" height="8.2" fill="#bfcdeb"/>
<rect x="127.51" y="313.6" width="1.34" height="8.2" fill="#a3adde"/>
<rect x="128.81" y="313.6" width="1.34" height="8.2" fill="#b7c5e8"/>
<rect x="130.1" y="313.6" width="1.34" height="8.2" fill="#c7d5ee"/>
<rect x="131.39" y="313.6" width="1.34" height="8.2" fill="#9188cd"/>
<rect x="132.68" y="313.6" width="1.34" height="8.2" fill="#8d77c6"/>
<rect x="133.97" y="313.6" width="1.34" height="8.2" fill="#b9c7e9"/>
<rect x="135.26" y="313.6" width="1.34" height="8.2" fill="#bbc9ea"/>
<rect x="136.55" y="313.6" width="1.34" height="8.2" fill="#bac8e9"/>
<rect x="137.85" y="313.6" width="1.34" height="8.2" fill="#c4d2ed"/>
<rect x="139.14" y="313.6" width="1.34" height="8.2" fill="#bac8e9"/>
<rect x="140.43" y="313.6" width="1.34" height="8.2" fill="#b8c6e9"/>
<rect x="141.72" y="313.6" width="1.34" height="8.2" fill="#9494d3"/>
<rect x="143.01" y="313.6" width="1.34" height="8.2" fill="#deecf6"/>
<rect x="144.3" y="313.6" width="1.34" height="8.2" fill="#adbae4"/>
<rect x="145.59" y="313.6" width="1.34" height="8.2" fill="#b2c0e7"/>
<rect x="146.89" y="313.6" width="1.34" height="8.2" fill="#bfcdeb"/>
<rect x="148.18" y="313.6" width="1.34" height="8.2" fill="#9491d2"/>
<rect x="149.47" y="313.6" width="1.34" height="8.2" fill="#b0bee6"/>
<rect x="150.76" y="313.6" width="1.34" height="8.2" fill="#b8c6e9"/>
<rect x="152.05" y="313.6" width="1.34" height="8.2" fill="#928ccf"/>
<rect x="153.34" y="313.6" width="1.34" height="8.2" fill="#99a0d8"/>
<rect x="154.63" y="313.6" width="1.34" height="8.2" fill="#b4c2e7"/>
<rect x="155.93" y="313.6" width="1.34" height="8.2" fill="#c4d2ed"/>
<rect x="157.22" y="313.6" width="1.34" height="8.2" fill="#b1bfe6"/>
<rect x="158.51" y="313.6" width="1.34" height="8.2" fill="#a9b5e2"/>
<rect x="159.8" y="313.6" width="1.34" height="8.2" fill="#9aa1d9"/>
<rect x="161.09" y="313.6" width="1.34" height="8.2" fill="#d4e2f2"/>
<rect x="162.38" y="313.6" width="1.34" height="8.2" fill="#a2aadd"/>
<rect x="163.67" y="313.6" width="1.34" height="8.2" fill="#b0bde6"/>
<rect x="164.97" y="313.6" width="1.34" height="8.2" fill="#9ea6db"/>
<rect x="166.26" y="313.6" width="1.34" height="8.2" fill="#bccaea"/>
<rect x="167.55" y="313.6" width="1.34" height="8.2" fill="#c1cfec"/>
<rect x="168.84" y="313.6" width="1.34" height="8.2" fill="#becceb"/>
<rect x="170.13" y="313.6" width="1.34" height="8.2" fill="#e2f0f7"/>
<rect x="171.42" y="313.6" width="1.34" height="8.2" fill="#a5afdf"/>
<rect x="172.71" y="313.6" width="1.34" height="8.2" fill="#a1a9dd"/>
<rect x="174.01" y="313.6" width="1.34" height="8.2" fill="#b2c0e7"/>
<rect x="175.3" y="313.6" width="1.34" height="8.2" fill="#bbc9ea"/>
<rect x="176.59" y="313.6" width="1.34" height="8.2" fill="#9fa7db"/>
<rect x="177.88" y="313.6" width="1.34" height="8.2" fill="#cfddf0"/>
<rect x="179.17" y="313.6" width="1.34" height="8.2" fill="#e1eff7"/>
<rect x="180.46" y="313.6" width="1.34" height="8.2" fill="#b2c0e7"/>
<rect x="181.75" y="313.6" width="1.34" height="8.2" fill="#8e7ac7"/>
<rect x="183.05" y="313.6" width="1.34" height="8.2" fill="#bac8e9"/>
<rect x="184.34" y="313.6" width="1.34" height="8.2" fill="#b2c0e7"/>
<rect x="185.63" y="313.6" width="1.34" height="8.2" fill="#9493d2"/>
<rect x="186.92" y="313.6" width="1.34" height="8.2" fill="#b2c0e7"/>
<rect x="188.21" y="313.6" width="1.34" height="8.2" fill="#d1dff1"/>
<rect x="189.5" y="313.6" width="1.34" height="8.2" fill="#9ea6db"/>
<rect x="190.79" y="313.6" width="1.34" height="8.2" fill="#adbae4"/>
<rect x="192.09" y="313.6" width="1.34" height="8.2" fill="#bdcbea"/>
<rect x="193.38" y="313.6" width="1.34" height="8.2" fill="#c4d2ed"/>
<rect x="194.67" y="313.6" width="1.34" height="8.2" fill="#9186cd"/>
<rect x="195.96" y="313.6" width="1.34" height="8.2" fill="#bfcdeb"/>
<rect x="197.25" y="313.6" width="1.34" height="8.2" fill="#b4c2e7"/>
<rect x="198.54" y="313.6" width="1.34" height="8.2" fill="#cfddf0"/>
<rect x="199.83" y="313.6" width="1.34" height="8.2" fill="#bdcbea"/>
<rect x="201.13" y="313.6" width="1.34" height="8.2" fill="#d6e4f3"/>
<rect x="202.42" y="313.6" width="1.34" height="8.2" fill="#b2c0e7"/>
<rect x="203.71" y="313.6" width="1.34" height="8.2" fill="#b1bfe6"/>
<rect x="24.2" y="323" width="1.34" height="8.2" fill="#10ab77"/>
<rect x="25.49" y="323" width="1.34" height="8.2" fill="#14b17e"/>
<rect x="26.78" y="323" width="1.34" height="8.2" fill="#10ab76"/>
<rect x="28.07" y="323" width="1.34" height="8.2" fill="#0faa75"/>
<rect x="29.37" y="323" width="1.34" height="8.2" fill="#d9f4f0"/>
<rect x="30.66" y="323" width="1.34" height="8.2" fill="#0da771"/>
<rect x="31.95" y="323" width="1.34" height="8.2" fill="#16b481"/>
<rect x="33.24" y="323" width="1.34" height="8.2" fill="#55d0af"/>
<rect x="34.53" y="323" width="1.34" height="8.2" fill="#11ad79"/>
<rect x="35.82" y="323" width="1.34" height="8.2" fill="#12ae7a"/>
<rect x="37.11" y="323" width="1.34" height="8.2" fill="#15b27f"/>
<rect x="38.41" y="323" width="1.34" height="8.2" fill="#11ad78"/>
<rect x="39.7" y="323" width="1.34" height="8.2" fill="#14b07d"/>
<rect x="40.99" y="323" width="1.34" height="8.2" fill="#0ea873"/>
<rect x="42.28" y="323" width="1.34" height="8.2" fill="#e7f9f7"/>
<rect x="43.57" y="323" width="1.34" height="8.2" fill="#0faa75"/>
<rect x="44.86" y="323" width="1.34" height="8.2" fill="#0ca670"/>
<rect x="46.15" y="323" width="1.34" height="8.2" fill="#16b381"/>
<rect x="47.45" y="323" width="1.34" height="8.2" fill="#d3f3ed"/>
<rect x="48.74" y="323" width="1.34" height="8.2" fill="#12af7b"/>
<rect x="50.03" y="323" width="1.34" height="8.2" fill="#0ca670"/>
<rect x="51.32" y="323" width="1.34" height="8.2" fill="#9fe3d4"/>
<rect x="52.61" y="323" width="1.34" height="8.2" fill="#16b481"/>
<rect x="53.9" y="323" width="1.34" height="8.2" fill="#16b381"/>
<rect x="55.19" y="323" width="1.34" height="8.2" fill="#76d8c0"/>
<rect x="56.49" y="323" width="1.34" height="8.2" fill="#15b280"/>
<rect x="57.78" y="323" width="1.34" height="8.2" fill="#16b481"/>
<rect x="59.07" y="323" width="1.34" height="8.2" fill="#0ea974"/>
<rect x="60.36" y="323" width="1.34" height="8.2" fill="#13b07c"/>
<rect x="61.65" y="323" width="2.63" height="8.2" fill="#16b381"/>
<rect x="64.23" y="323" width="1.34" height="8.2" fill="#14b07d"/>
<rect x="65.53" y="323" width="1.34" height="8.2" fill="#17b583"/>
<rect x="66.82" y="323" width="1.34" height="8.2" fill="#0faa75"/>
<rect x="68.11" y="323" width="1.34" height="8.2" fill="#17b583"/>
<rect x="69.4" y="323" width="1.34" height="8.2" fill="#13af7c"/>
<rect x="70.69" y="323" width="2.63" height="8.2" fill="#0ca670"/>
<rect x="73.27" y="323" width="1.34" height="8.2" fill="#0ea974"/>
<rect x="74.57" y="323" width="1.34" height="8.2" fill="#0da772"/>
<rect x="75.86" y="323" width="1.34" height="8.2" fill="#0ca670"/>
<rect x="77.15" y="323" width="1.34" height="8.2" fill="#11ac78"/>
<rect x="78.44" y="323" width="1.34" height="8.2" fill="#15b27f"/>
<rect x="79.73" y="323" width="1.34" height="8.2" fill="#11ad79"/>
<rect x="81.02" y="323" width="1.34" height="8.2" fill="#0faa76"/>
<rect x="82.31" y="323" width="1.34" height="8.2" fill="#13af7c"/>
<rect x="83.61" y="323" width="1.34" height="8.2" fill="#17b583"/>
<rect x="84.9" y="323" width="1.34" height="8.2" fill="#18b685"/>
<rect x="86.19" y="323" width="1.34" height="8.2" fill="#15b27f"/>
<rect x="87.48" y="323" width="1.34" height="8.2" fill="#10ac77"/>
<rect x="88.77" y="323" width="1.34" height="8.2" fill="#1ab988"/>
<rect x="90.06" y="323" width="1.34" height="8.2" fill="#0ca670"/>
<rect x="91.35" y="323" width="1.34" height="8.2" fill="#aae6d9"/>
<rect x="92.65" y="323" width="1.34" height="8.2" fill="#12ae7a"/>
<rect x="93.94" y="323" width="1.34" height="8.2" fill="#7cdac3"/>
<rect x="95.23" y="323" width="1.34" height="8.2" fill="#13b07d"/>
<rect x="96.52" y="323" width="1.34" height="8.2" fill="#19b887"/>
<rect x="97.81" y="323" width="1.34" height="8.2" fill="#11ac78"/>
<rect x="99.1" y="323" width="1.34" height="8.2" fill="#0ca670"/>
<rect x="100.39" y="323" width="1.34" height="8.2" fill="#14b17e"/>
<rect x="101.69" y="323" width="2.63" height="8.2" fill="#0ca670"/>
<rect x="104.27" y="323" width="1.34" height="8.2" fill="#12af7b"/>
<rect x="105.56" y="323" width="1.34" height="8.2" fill="#13b07c"/>
<rect x="106.85" y="323" width="1.34" height="8.2" fill="#14b27f"/>
<rect x="108.14" y="323" width="1.34" height="8.2" fill="#13b07c"/>
<rect x="109.43" y="323" width="1.34" height="8.2" fill="#0ca670"/>
<rect x="110.73" y="323" width="1.34" height="8.2" fill="#0da873"/>
<rect x="112.02" y="323" width="1.34" height="8.2" fill="#14b17e"/>
<rect x="113.31" y="323" width="1.34" height="8.2" fill="#16b380"/>
<rect x="114.6" y="323" width="1.34" height="8.2" fill="#63d4b6"/>
<rect x="115.89" y="323" width="1.34" height="8.2" fill="#11ac78"/>
<rect x="117.18" y="323" width="1.34" height="8.2" fill="#0ca670"/>
<rect x="118.47" y="323" width="1.34" height="8.2" fill="#d5f3ee"/>
<rect x="119.77" y="323" width="1.34" height="8.2" fill="#a3e4d6"/>
<rect x="121.06" y="323" width="1.34" height="8.2" fill="#17b482"/>
<rect x="122.35" y="323" width="1.34" height="8.2" fill="#0ca670"/>
<rect x="123.64" y="323" width="1.34" height="8.2" fill="#10ab77"/>
<rect x="124.93" y="323" width="1.34" height="8.2" fill="#19b886"/>
<rect x="126.22" y="323" width="1.34" height="8.2" fill="#18b684"/>
<rect x="127.51" y="323" width="1.34" height="8.2" fill="#0da772"/>
<rect x="128.81" y="323" width="1.34" height="8.2" fill="#0faa75"/>
<rect x="130.1" y="323" width="1.34" height="8.2" fill="#0ea974"/>
<rect x="131.39" y="323" width="1.34" height="8.2" fill="#0faa75"/>
<rect x="132.68" y="323" width="1.34" height="8.2" fill="#55d0af"/>
<rect x="133.97" y="323" width="2.63" height="8.2" fill="#0ca670"/>
<rect x="136.55" y="323" width="1.34" height="8.2" fill="#0faa75"/>
<rect x="137.85" y="323" width="1.34" height="8.2" fill="#62d3b6"/>
<rect x="139.14" y="323" width="1.34" height="8.2" fill="#e0f7f3"/>
<rect x="140.43" y="323" width="1.34" height="8.2" fill="#14b07d"/>
<rect x="141.72" y="323" width="1.34" height="8.2" fill="#18b685"/>
<rect x="143.01" y="323" width="1.34" height="8.2" fill="#0ca670"/>
<rect x="144.3" y="323" width="1.34" height="8.2" fill="#10ac77"/>
<rect x="145.59" y="323" width="1.34" height="8.2" fill="#a5e4d7"/>
<rect x="146.89" y="323" width="1.34" height="8.2" fill="#1ebe8f"/>
<rect x="148.18" y="323" width="1.34" height="8.2" fill="#0fa974"/>
<rect x="149.47" y="323" width="2.63" height="8.2" fill="#0ca670"/>
<rect x="152.05" y="323" width="1.34" height="8.2" fill="#13af7c"/>
<rect x="153.34" y="323" width="1.34" height="8.2" fill="#1bba89"/>
<rect x="154.63" y="323" width="1.34" height="8.2" fill="#13af7b"/>
<rect x="155.93" y="323" width="1.34" height="8.2" fill="#d5f3ee"/>
<rect x="157.22" y="323" width="1.34" height="8.2" fill="#13b07d"/>
<rect x="158.51" y="323" width="1.34" height="8.2" fill="#15b380"/>
<rect x="159.8" y="323" width="1.34" height="8.2" fill="#0ea974"/>
<rect x="161.09" y="323" width="1.34" height="8.2" fill="#13af7c"/>
<rect x="162.38" y="323" width="1.34" height="8.2" fill="#15b27f"/>
<rect x="163.67" y="323" width="1.34" height="8.2" fill="#1bba89"/>
<rect x="164.97" y="323" width="1.34" height="8.2" fill="#0da873"/>
<rect x="166.26" y="323" width="1.34" height="8.2" fill="#17b583"/>
<rect x="167.55" y="323" width="1.34" height="8.2" fill="#0ca670"/>
<rect x="168.84" y="323" width="1.34" height="8.2" fill="#0ea873"/>
<rect x="170.13" y="323" width="1.34" height="8.2" fill="#13af7c"/>
<rect x="171.42" y="323" width="1.34" height="8.2" fill="#19b786"/>
<rect x="172.71" y="323" width="1.34" height="8.2" fill="#0ca670"/>
<rect x="174.01" y="323" width="1.34" height="8.2" fill="#14b17e"/>
<rect x="175.3" y="323" width="1.34" height="8.2" fill="#0ca670"/>
<rect x="176.59" y="323" width="1.34" height="8.2" fill="#1bba8a"/>
<rect x="177.88" y="323" width="1.34" height="8.2" fill="#12ae7a"/>
<rect x="179.17" y="323" width="1.34" height="8.2" fill="#85dcc7"/>
<rect x="180.46" y="323" width="2.63" height="8.2" fill="#0ca670"/>
<rect x="183.05" y="323" width="1.34" height="8.2" fill="#12ae7a"/>
<rect x="184.34" y="323" width="1.34" height="8.2" fill="#0ea974"/>
<rect x="185.63" y="323" width="1.34" height="8.2" fill="#0ca670"/>
<rect x="186.92" y="323" width="1.34" height="8.2" fill="#0ea873"/>
<rect x="188.21" y="323" width="1.34" height="8.2" fill="#11ad79"/>
<rect x="189.5" y="323" width="1.34" height="8.2" fill="#7ad9c2"/>
<rect x="190.79" y="323" width="1.34" height="8.2" fill="#16b381"/>
<rect x="192.09" y="323" width="1.34" height="8.2" fill="#7bd9c2"/>
<rect x="193.38" y="323" width="1.34" height="8.2" fill="#10ab76"/>
<rect x="194.67" y="323" width="1.34" height="8.2" fill="#1ab988"/>
<rect x="195.96" y="323" width="1.34" height="8.2" fill="#13b07c"/>
<rect x="197.25" y="323" width="1.34" height="8.2" fill="#15b27f"/>
<rect x="198.54" y="323" width="1.34" height="8.2" fill="#0ca670"/>
<rect x="199.83" y="323" width="2.63" height="8.2" fill="#14b17e"/>
<rect x="202.42" y="323" width="1.34" height="8.2" fill="#e0f7f3"/>
<rect x="203.71" y="323" width="1.34" height="8.2" fill="#0ca670"/>
<text x="207.3" y="293" font-size="9.2" font-weight="bold" textLength="17.8" lengthAdjust="spacingAndGlyphs" fill="#0a0a0a" class="b">Type</text>
<text x="207.3" y="302.4" font-size="9.2" font-weight="bold" textLength="19" lengthAdjust="spacingAndGlyphs" fill="#0a0a0a" class="b">Race</text>
<text x="207.3" y="311.7" font-size="9.2" font-weight="bold" textLength="14.2" lengthAdjust="spacingAndGlyphs" fill="#0a0a0a" class="b">Sex</text>
<text x="207.3" y="320.9" font-size="9.2" font-weight="bold" textLength="15" lengthAdjust="spacingAndGlyphs" fill="#0a0a0a" class="b">Age</text>
<text x="207.3" y="330.2" font-size="9.2" font-weight="bold" textLength="13.8" lengthAdjust="spacingAndGlyphs" fill="#0a0a0a" class="b">RIN</text>
<rect x="283.9" y="8" width="105.5" height="7" fill="#22cfe0"/>
<rect x="389.4" y="8" width="44.1" height="7" fill="#7cc614"/>
<rect x="283.9" y="16" width="4.65" height="7" fill="#faa500"/>
<rect x="288.5" y="16" width="1.2" height="7" fill="#f77ef2"/>
<rect x="289.65" y="16" width="1.2" height="7" fill="#f1aaf6"/>
<rect x="290.8" y="16" width="1.2" height="7" fill="#f77ef2"/>
<rect x="291.96" y="16" width="4.65" height="7" fill="#faa500"/>
<rect x="296.56" y="16" width="5.8" height="7" fill="#f77ef2"/>
<rect x="302.31" y="16" width="1.2" height="7" fill="#f1aaf6"/>
<rect x="303.46" y="16" width="1.2" height="7" fill="#f77ef2"/>
<rect x="304.61" y="16" width="1.2" height="7" fill="#faa500"/>
<rect x="305.76" y="16" width="1.2" height="7" fill="#f77ef2"/>
<rect x="306.92" y="16" width="1.2" height="7" fill="#1fd285"/>
<rect x="308.07" y="16" width="4.65" height="7" fill="#faa500"/>
<rect x="312.67" y="16" width="1.2" height="7" fill="#f77ef2"/>
<rect x="313.82" y="16" width="4.65" height="7" fill="#faa500"/>
<rect x="318.42" y="16" width="1.2" height="7" fill="#f77ef2"/>
<rect x="319.57" y="16" width="1.2" height="7" fill="#faa500"/>
<rect x="320.72" y="16" width="2.35" height="7" fill="#f77ef2"/>
<rect x="323.03" y="16" width="3.5" height="7" fill="#faa500"/>
<rect x="326.48" y="16" width="1.2" height="7" fill="#f77ef2"/>
<rect x="327.63" y="16" width="3.5" height="7" fill="#faa500"/>
<rect x="331.08" y="16" width="1.2" height="7" fill="#1fd285"/>
<rect x="332.23" y="16" width="1.2" height="7" fill="#f77ef2"/>
<rect x="333.38" y="16" width="4.65" height="7" fill="#faa500"/>
<rect x="337.99" y="16" width="4.65" height="7" fill="#f77ef2"/>
<rect x="342.59" y="16" width="1.2" height="7" fill="#faa500"/>
<rect x="343.74" y="16" width="1.2" height="7" fill="#f77ef2"/>
<rect x="344.89" y="16" width="1.2" height="7" fill="#faa500"/>
<rect x="346.04" y="16" width="1.2" height="7" fill="#f77ef2"/>
<rect x="347.19" y="16" width="1.2" height="7" fill="#faa500"/>
<rect x="348.34" y="16" width="3.5" height="7" fill="#f77ef2"/>
<rect x="351.8" y="16" width="1.2" height="7" fill="#faa500"/>
<rect x="352.95" y="16" width="2.35" height="7" fill="#f77ef2"/>
<rect x="355.25" y="16" width="2.35" height="7" fill="#faa500"/>
<rect x="357.55" y="16" width="1.2" height="7" fill="#f77ef2"/>
<rect x="358.7" y="16" width="2.35" height="7" fill="#faa500"/>
<rect x="361" y="16" width="1.2" height="7" fill="#f1aaf6"/>
<rect x="362.15" y="16" width="1.2" height="7" fill="#faa500"/>
<rect x="363.3" y="16" width="3.5" height="7" fill="#f77ef2"/>
<rect x="366.76" y="16" width="1.2" height="7" fill="#f1aaf6"/>
<rect x="367.91" y="16" width="2.35" height="7" fill="#faa500"/>
<rect x="370.21" y="16" width="3.5" height="7" fill="#f77ef2"/>
<rect x="373.66" y="16" width="1.2" height="7" fill="#1fd285"/>
<rect x="374.81" y="16" width="2.35" height="7" fill="#faa500"/>
<rect x="377.11" y="16" width="1.2" height="7" fill="#f77ef2"/>
<rect x="378.26" y="16" width="3.5" height="7" fill="#faa500"/>
<rect x="381.72" y="16" width="1.2" height="7" fill="#f77ef2"/>
<rect x="382.87" y="16" width="2.35" height="7" fill="#1fd285"/>
<rect x="385.17" y="16" width="1.2" height="7" fill="#f77ef2"/>
<rect x="386.32" y="16" width="1.2" height="7" fill="#faa500"/>
<rect x="387.47" y="16" width="1.2" height="7" fill="#f77ef2"/>
<rect x="388.62" y="16" width="2.35" height="7" fill="#faa500"/>
<rect x="390.92" y="16" width="1.2" height="7" fill="#f1aaf6"/>
<rect x="392.07" y="16" width="1.2" height="7" fill="#f77ef2"/>
<rect x="393.22" y="16" width="1.2" height="7" fill="#faa500"/>
<rect x="394.37" y="16" width="1.2" height="7" fill="#f77ef2"/>
<rect x="395.52" y="16" width="3.5" height="7" fill="#faa500"/>
<rect x="398.98" y="16" width="4.65" height="7" fill="#f77ef2"/>
<rect x="403.58" y="16" width="2.35" height="7" fill="#faa500"/>
<rect x="405.88" y="16" width="1.2" height="7" fill="#f77ef2"/>
<rect x="407.03" y="16" width="1.2" height="7" fill="#faa500"/>
<rect x="408.18" y="16" width="1.2" height="7" fill="#f77ef2"/>
<rect x="409.33" y="16" width="1.2" height="7" fill="#f1aaf6"/>
<rect x="410.48" y="16" width="1.2" height="7" fill="#f77ef2"/>
<rect x="411.64" y="16" width="4.65" height="7" fill="#faa500"/>
<rect x="416.24" y="16" width="1.2" height="7" fill="#f77ef2"/>
<rect x="417.39" y="16" width="6.95" height="7" fill="#faa500"/>
<rect x="424.29" y="16" width="2.35" height="7" fill="#f77ef2"/>
<rect x="426.6" y="16" width="1.2" height="7" fill="#faa500"/>
<rect x="427.75" y="16" width="1.2" height="7" fill="#f77ef2"/>
<rect x="428.9" y="16" width="1.2" height="7" fill="#faa500"/>
<rect x="430.05" y="16" width="1.2" height="7" fill="#f77ef2"/>
<rect x="431.2" y="16" width="2.35" height="7" fill="#faa500"/>
<rect x="283.9" y="24" width="1.2" height="7" fill="#f7928a"/>
<rect x="285.05" y="24" width="1.2" height="7" fill="#20bdf0"/>
<rect x="286.2" y="24" width="8.11" height="7" fill="#f7928a"/>
<rect x="294.26" y="24" width="1.2" height="7" fill="#20bdf0"/>
<rect x="295.41" y="24" width="2.35" height="7" fill="#f7928a"/>
<rect x="297.71" y="24" width="1.2" height="7" fill="#20bdf0"/>
<rect x="298.86" y="24" width="2.35" height="7" fill="#f7928a"/>
<rect x="301.16" y="24" width="3.5" height="7" fill="#20bdf0"/>
<rect x="304.61" y="24" width="4.65" height="7" fill="#f7928a"/>
<rect x="309.22" y="24" width="1.2" height="7" fill="#20bdf0"/>
<rect x="310.37" y="24" width="1.2" height="7" fill="#f7928a"/>
<rect x="311.52" y="24" width="2.35" height="7" fill="#20bdf0"/>
<rect x="313.82" y="24" width="2.35" height="7" fill="#f7928a"/>
<rect x="316.12" y="24" width="1.2" height="7" fill="#20bdf0"/>
<rect x="317.27" y="24" width="2.35" height="7" fill="#f7928a"/>
<rect x="319.57" y="24" width="3.5" height="7" fill="#20bdf0"/>
<rect x="323.03" y="24" width="1.2" height="7" fill="#f7928a"/>
<rect x="324.18" y="24" width="2.35" height="7" fill="#20bdf0"/>
<rect x="326.48" y="24" width="1.2" height="7" fill="#f7928a"/>
<rect x="327.63" y="24" width="1.2" height="7" fill="#20bdf0"/>
<rect x="328.78" y="24" width="3.5" height="7" fill="#f7928a"/>
<rect x="332.23" y="24" width="1.2" height="7" fill="#20bdf0"/>
<rect x="333.38" y="24" width="5.8" height="7" fill="#f7928a"/>
<rect x="339.14" y="24" width="1.2" height="7" fill="#20bdf0"/>
<rect x="340.29" y="24" width="2.35" height="7" fill="#f7928a"/>
<rect x="342.59" y="24" width="1.2" height="7" fill="#20bdf0"/>
<rect x="343.74" y="24" width="1.2" height="7" fill="#f7928a"/>
<rect x="344.89" y="24" width="4.65" height="7" fill="#20bdf0"/>
<rect x="349.49" y="24" width="3.5" height="7" fill="#f7928a"/>
<rect x="352.95" y="24" width="1.2" height="7" fill="#20bdf0"/>
<rect x="354.1" y="24" width="3.5" height="7" fill="#f7928a"/>
<rect x="357.55" y="24" width="2.35" height="7" fill="#20bdf0"/>
<rect x="359.85" y="24" width="3.5" height="7" fill="#f7928a"/>
<rect x="363.3" y="24" width="1.2" height="7" fill="#20bdf0"/>
<rect x="364.45" y="24" width="2.35" height="7" fill="#f7928a"/>
<rect x="366.76" y="24" width="1.2" height="7" fill="#20bdf0"/>
<rect x="367.91" y="24" width="5.8" height="7" fill="#f7928a"/>
<rect x="373.66" y="24" width="1.2" height="7" fill="#20bdf0"/>
<rect x="374.81" y="24" width="2.35" height="7" fill="#f7928a"/>
<rect x="377.11" y="24" width="1.2" height="7" fill="#20bdf0"/>
<rect x="378.26" y="24" width="5.8" height="7" fill="#f7928a"/>
<rect x="384.02" y="24" width="2.35" height="7" fill="#20bdf0"/>
<rect x="386.32" y="24" width="8.11" height="7" fill="#f7928a"/>
<rect x="394.37" y="24" width="1.2" height="7" fill="#20bdf0"/>
<rect x="395.52" y="24" width="1.2" height="7" fill="#f7928a"/>
<rect x="396.68" y="24" width="3.5" height="7" fill="#20bdf0"/>
<rect x="400.13" y="24" width="1.2" height="7" fill="#f7928a"/>
<rect x="401.28" y="24" width="1.2" height="7" fill="#20bdf0"/>
<rect x="402.43" y="24" width="3.5" height="7" fill="#f7928a"/>
<rect x="405.88" y="24" width="1.2" height="7" fill="#20bdf0"/>
<rect x="407.03" y="24" width="1.2" height="7" fill="#f7928a"/>
<rect x="408.18" y="24" width="1.2" height="7" fill="#20bdf0"/>
<rect x="409.33" y="24" width="2.35" height="7" fill="#f7928a"/>
<rect x="411.64" y="24" width="1.2" height="7" fill="#20bdf0"/>
<rect x="412.79" y="24" width="3.5" height="7" fill="#f7928a"/>
<rect x="416.24" y="24" width="1.2" height="7" fill="#20bdf0"/>
<rect x="417.39" y="24" width="1.2" height="7" fill="#f7928a"/>
<rect x="418.54" y="24" width="1.2" height="7" fill="#20bdf0"/>
<rect x="419.69" y="24" width="1.2" height="7" fill="#f7928a"/>
<rect x="420.84" y="24" width="4.65" height="7" fill="#20bdf0"/>
<rect x="425.44" y="24" width="5.8" height="7" fill="#f7928a"/>
<rect x="431.2" y="24" width="1.2" height="7" fill="#20bdf0"/>
<rect x="432.35" y="24" width="1.2" height="7" fill="#f7928a"/>
<rect x="283.9" y="32" width="1.2" height="7" fill="#b2c0e7"/>
<rect x="285.05" y="32" width="1.2" height="7" fill="#acb9e4"/>
<rect x="286.2" y="32" width="1.2" height="7" fill="#b8c6e9"/>
<rect x="287.35" y="32" width="1.2" height="7" fill="#afbde5"/>
<rect x="288.5" y="32" width="1.2" height="7" fill="#afbce5"/>
<rect x="289.65" y="32" width="1.2" height="7" fill="#bfcdeb"/>
<rect x="290.8" y="32" width="1.2" height="7" fill="#bccaea"/>
<rect x="291.96" y="32" width="1.2" height="7" fill="#b3c1e7"/>
<rect x="293.11" y="32" width="1.2" height="7" fill="#bbc9ea"/>
<rect x="294.26" y="32" width="1.2" height="7" fill="#9599d5"/>
<rect x="295.41" y="32" width="1.2" height="7" fill="#cedcf0"/>
<rect x="296.56" y="32" width="1.2" height="7" fill="#9595d3"/>
<rect x="297.71" y="32" width="1.2" height="7" fill="#a5afdf"/>
<rect x="298.86" y="32" width="1.2" height="7" fill="#bccaea"/>
<rect x="300.01" y="32" width="1.2" height="7" fill="#c0ceeb"/>
<rect x="301.16" y="32" width="1.2" height="7" fill="#b0bee6"/>
<rect x="302.31" y="32" width="1.2" height="7" fill="#c2d0ec"/>
<rect x="303.46" y="32" width="1.2" height="7" fill="#b6c4e8"/>
<rect x="304.61" y="32" width="1.2" height="7" fill="#b9c7e9"/>
<rect x="305.76" y="32" width="1.2" height="7" fill="#aab6e2"/>
<rect x="306.92" y="32" width="1.2" height="7" fill="#b4c2e7"/>
<rect x="308.07" y="32" width="1.2" height="7" fill="#cbd9ef"/>
<rect x="309.22" y="32" width="1.2" height="7" fill="#afbde5"/>
<rect x="310.37" y="32" width="1.2" height="7" fill="#9390d1"/>
<rect x="311.52" y="32" width="1.2" height="7" fill="#a7b1e0"/>
<rect x="312.67" y="32" width="1.2" height="7" fill="#b9c7e9"/>
<rect x="313.82" y="32" width="1.2" height="7" fill="#b3c1e7"/>
<rect x="314.97" y="32" width="1.2" height="7" fill="#abb7e3"/>
<rect x="316.12" y="32" width="1.2" height="7" fill="#afbce5"/>
<rect x="317.27" y="32" width="1.2" height="7" fill="#bac8e9"/>
<rect x="318.42" y="32" width="1.2" height="7" fill="#c7d5ee"/>
<rect x="319.57" y="32" width="1.2" height="7" fill="#cbd9ef"/>
<rect x="320.72" y="32" width="1.2" height="7" fill="#e3f1f8"/>
<rect x="321.88" y="32" width="1.2" height="7" fill="#9599d5"/>
<rect x="323.03" y="32" width="1.2" height="7" fill="#b8c6e9"/>
<rect x="324.18" y="32" width="1.2" height="7" fill="#bfcdeb"/>
<rect x="325.33" y="32" width="1.2" height="7" fill="#deecf6"/>
<rect x="326.48" y="32" width="1.2" height="7" fill="#bac8e9"/>
<rect x="327.63" y="32" width="1.2" height="7" fill="#aab6e2"/>
<rect x="328.78" y="32" width="1.2" height="7" fill="#928ace"/>
<rect x="329.93" y="32" width="1.2" height="7" fill="#bdcbea"/>
<rect x="331.08" y="32" width="1.2" height="7" fill="#b7c5e8"/>
<rect x="332.23" y="32" width="1.2" height="7" fill="#a8b3e1"/>
<rect x="333.38" y="32" width="1.2" height="7" fill="#b7c5e8"/>
<rect x="334.53" y="32" width="1.2" height="7" fill="#dae8f4"/>
<rect x="335.68" y="32" width="1.2" height="7" fill="#b0bee6"/>
<rect x="336.84" y="32" width="1.2" height="7" fill="#adbbe4"/>
<rect x="337.99" y="32" width="1.2" height="7" fill="#b7c5e8"/>
<rect x="339.14" y="32" width="1.2" height="7" fill="#c1cfec"/>
<rect x="340.29" y="32" width="1.2" height="7" fill="#c5d3ed"/>
<rect x="341.44" y="32" width="1.2" height="7" fill="#bfcdeb"/>
<rect x="342.59" y="32" width="1.2" height="7" fill="#a7b2e0"/>
<rect x="343.74" y="32" width="1.2" height="7" fill="#c9d7ee"/>
<rect x="344.89" y="32" width="1.2" height="7" fill="#bbc9ea"/>
<rect x="346.04" y="32" width="1.2" height="7" fill="#b8c6e9"/>
<rect x="347.19" y="32" width="1.2" height="7" fill="#dbe9f5"/>
<rect x="348.34" y="32" width="1.2" height="7" fill="#b5c3e8"/>
<rect x="349.49" y="32" width="1.2" height="7" fill="#c1cfec"/>
<rect x="350.64" y="32" width="1.2" height="7" fill="#b3c1e7"/>
<rect x="351.8" y="32" width="1.2" height="7" fill="#a5b0df"/>
<rect x="352.95" y="32" width="1.2" height="7" fill="#bdcbea"/>
<rect x="354.1" y="32" width="1.2" height="7" fill="#bccaea"/>
<rect x="355.25" y="32" width="1.2" height="7" fill="#8f80ca"/>
<rect x="356.4" y="32" width="1.2" height="7" fill="#bccaea"/>
<rect x="357.55" y="32" width="1.2" height="7" fill="#8e7ac7"/>
<rect x="358.7" y="32" width="1.2" height="7" fill="#b3c1e7"/>
<rect x="359.85" y="32" width="1.2" height="7" fill="#a0a9dc"/>
<rect x="361" y="32" width="1.2" height="7" fill="#aab6e2"/>
<rect x="362.15" y="32" width="1.2" height="7" fill="#c2d0ec"/>
<rect x="363.3" y="32" width="1.2" height="7" fill="#b5c3e8"/>
<rect x="364.45" y="32" width="1.2" height="7" fill="#bac8e9"/>
<rect x="365.6" y="32" width="1.2" height="7" fill="#b1bfe6"/>
<rect x="366.76" y="32" width="1.2" height="7" fill="#c2d0ec"/>
<rect x="367.91" y="32" width="1.2" height="7" fill="#b1bfe6"/>
<rect x="369.06" y="32" width="1.2" height="7" fill="#dbe9f5"/>
<rect x="370.21" y="32" width="1.2" height="7" fill="#a4aedf"/>
<rect x="371.36" y="32" width="1.2" height="7" fill="#b2c0e7"/>
<rect x="372.51" y="32" width="1.2" height="7" fill="#bbc9ea"/>
<rect x="373.66" y="32" width="1.2" height="7" fill="#bccaea"/>
<rect x="374.81" y="32" width="1.2" height="7" fill="#b9c7e9"/>
<rect x="375.96" y="32" width="1.2" height="7" fill="#b0bee6"/>
<rect x="377.11" y="32" width="1.2" height="7" fill="#bbc9ea"/>
<rect x="378.26" y="32" width="1.2" height="7" fill="#a4aedf"/>
<rect x="379.41" y="32" width="1.2" height="7" fill="#928acf"/>
<rect x="380.56" y="32" width="1.2" height="7" fill="#a9b4e1"/>
<rect x="381.72" y="32" width="1.2" height="7" fill="#9ca4da"/>
<rect x="382.87" y="32" width="1.2" height="7" fill="#bac8e9"/>
<rect x="384.02" y="32" width="1.2" height="7" fill="#b6c4e8"/>
<rect x="385.17" y="32" width="2.35" height="7" fill="#b5c3e8"/>
<rect x="387.47" y="32" width="1.2" height="7" fill="#d2e0f2"/>
<rect x="388.62" y="32" width="1.2" height="7" fill="#b3c1e7"/>
<rect x="389.77" y="32" width="1.2" height="7" fill="#9599d5"/>
<rect x="390.92" y="32" width="1.2" height="7" fill="#928ace"/>
<rect x="392.07" y="32" width="1.2" height="7" fill="#acb9e4"/>
<rect x="393.22" y="32" width="1.2" height="7" fill="#a7b2e0"/>
<rect x="394.37" y="32" width="1.2" height="7" fill="#a8b3e1"/>
<rect x="395.52" y="32" width="1.2" height="7" fill="#b4c2e7"/>
<rect x="396.68" y="32" width="1.2" height="7" fill="#a9b4e2"/>
<rect x="397.83" y="32" width="1.2" height="7" fill="#b5c3e8"/>
<rect x="398.98" y="32" width="1.2" height="7" fill="#b0bee6"/>
<rect x="400.13" y="32" width="1.2" height="7" fill="#cedcf0"/>
<rect x="401.28" y="32" width="1.2" height="7" fill="#8e7dc8"/>
<rect x="402.43" y="32" width="1.2" height="7" fill="#becceb"/>
<rect x="403.58" y="32" width="1.2" height="7" fill="#b7c5e8"/>
<rect x="404.73" y="32" width="1.2" height="7" fill="#8b6bbf"/>
<rect x="405.88" y="32" width="1.2" height="7" fill="#8c74c4"/>
<rect x="407.03" y="32" width="1.2" height="7" fill="#dbe9f5"/>
<rect x="408.18" y="32" width="1.2" height="7" fill="#bbc9ea"/>
<rect x="409.33" y="32" width="1.2" height="7" fill="#938ed0"/>
<rect x="410.48" y="32" width="1.2" height="7" fill="#c0ceeb"/>
<rect x="411.64" y="32" width="1.2" height="7" fill="#bbc9ea"/>
<rect x="412.79" y="32" width="1.2" height="7" fill="#afbce5"/>
<rect x="413.94" y="32" width="1.2" height="7" fill="#d3e1f2"/>
<rect x="415.09" y="32" width="1.2" height="7" fill="#aebbe4"/>
<rect x="416.24" y="32" width="1.2" height="7" fill="#c1cfec"/>
<rect x="417.39" y="32" width="1.2" height="7" fill="#c2d0ec"/>
<rect x="418.54" y="32" width="1.2" height="7" fill="#abb7e3"/>
<rect x="419.69" y="32" width="1.2" height="7" fill="#b2c0e7"/>
<rect x="420.84" y="32" width="1.2" height="7" fill="#aebce5"/>
<rect x="421.99" y="32" width="1.2" height="7" fill="#d7e5f3"/>
<rect x="423.14" y="32" width="1.2" height="7" fill="#999fd8"/>
<rect x="424.29" y="32" width="1.2" height="7" fill="#b3c1e7"/>
<rect x="425.44" y="32" width="1.2" height="7" fill="#c2d0ec"/>
<rect x="426.6" y="32" width="1.2" height="7" fill="#b4c2e7"/>
<rect x="427.75" y="32" width="1.2" height="7" fill="#abb8e3"/>
<rect x="428.9" y="32" width="1.2" height="7" fill="#c0ceeb"/>
<rect x="430.05" y="32" width="1.2" height="7" fill="#c2d0ec"/>
<rect x="431.2" y="32" width="1.2" height="7" fill="#bbc9ea"/>
<rect x="432.35" y="32" width="1.2" height="7" fill="#b6c4e8"/>
<rect x="283.9" y="40" width="1.2" height="7" fill="#13af7c"/>
<rect x="285.05" y="40" width="1.2" height="7" fill="#0ca670"/>
<rect x="286.2" y="40" width="1.2" height="7" fill="#11ad78"/>
<rect x="287.35" y="40" width="1.2" height="7" fill="#19b886"/>
<rect x="288.5" y="40" width="1.2" height="7" fill="#15b27f"/>
<rect x="289.65" y="40" width="1.2" height="7" fill="#0faa75"/>
<rect x="290.8" y="40" width="1.2" height="7" fill="#16b482"/>
<rect x="291.96" y="40" width="1.2" height="7" fill="#0da873"/>
<rect x="293.11" y="40" width="1.2" height="7" fill="#0faa75"/>
<rect x="294.26" y="40" width="1.2" height="7" fill="#17b684"/>
<rect x="295.41" y="40" width="1.2" height="7" fill="#0ca670"/>
<rect x="296.56" y="40" width="1.2" height="7" fill="#66d4b8"/>
<rect x="297.71" y="40" width="1.2" height="7" fill="#11ad79"/>
<rect x="298.86" y="40" width="1.2" height="7" fill="#15b280"/>
<rect x="300.01" y="40" width="1.2" height="7" fill="#11ad79"/>
<rect x="301.16" y="40" width="1.2" height="7" fill="#14b17e"/>
<rect x="302.31" y="40" width="1.2" height="7" fill="#10ac77"/>
<rect x="303.46" y="40" width="1.2" height="7" fill="#12ae7a"/>
<rect x="304.61" y="40" width="1.2" height="7" fill="#13b07d"/>
<rect x="305.76" y="40" width="1.2" height="7" fill="#11ac78"/>
<rect x="306.92" y="40" width="1.2" height="7" fill="#14b17e"/>
<rect x="308.07" y="40" width="1.2" height="7" fill="#11ad79"/>
<rect x="309.22" y="40" width="1.2" height="7" fill="#10ac77"/>
<rect x="310.37" y="40" width="1.2" height="7" fill="#17b583"/>
<rect x="311.52" y="40" width="1.2" height="7" fill="#0ca670"/>
<rect x="312.67" y="40" width="1.2" height="7" fill="#10ab76"/>
<rect x="313.82" y="40" width="1.2" height="7" fill="#10ac78"/>
<rect x="314.97" y="40" width="1.2" height="7" fill="#14b17e"/>
<rect x="316.12" y="40" width="1.2" height="7" fill="#0ca670"/>
<rect x="317.27" y="40" width="1.2" height="7" fill="#a4e4d7"/>
<rect x="318.42" y="40" width="1.2" height="7" fill="#0ca670"/>
<rect x="319.57" y="40" width="1.2" height="7" fill="#14b17e"/>
<rect x="320.72" y="40" width="1.2" height="7" fill="#11ad79"/>
<rect x="321.88" y="40" width="1.2" height="7" fill="#1fc090"/>
<rect x="323.03" y="40" width="1.2" height="7" fill="#14b17e"/>
<rect x="324.18" y="40" width="1.2" height="7" fill="#10ab76"/>
<rect x="325.33" y="40" width="1.2" height="7" fill="#0da772"/>
<rect x="326.48" y="40" width="1.2" height="7" fill="#7ddac3"/>
<rect x="327.63" y="40" width="1.2" height="7" fill="#14b17e"/>
<rect x="328.78" y="40" width="1.2" height="7" fill="#0faa75"/>
<rect x="329.93" y="40" width="1.2" height="7" fill="#a7e5d8"/>
<rect x="331.08" y="40" width="1.2" height="7" fill="#17b684"/>
<rect x="332.23" y="40" width="2.35" height="7" fill="#0ca670"/>
<rect x="334.53" y="40" width="1.2" height="7" fill="#12ae7b"/>
<rect x="335.68" y="40" width="1.2" height="7" fill="#81dbc5"/>
<rect x="336.84" y="40" width="1.2" height="7" fill="#19b786"/>
<rect x="337.99" y="40" width="1.2" height="7" fill="#0ea873"/>
<rect x="339.14" y="40" width="1.2" height="7" fill="#14b17e"/>
<rect x="340.29" y="40" width="1.2" height="7" fill="#10ac78"/>
<rect x="341.44" y="40" width="1.2" height="7" fill="#8bddcb"/>
<rect x="342.59" y="40" width="1.2" height="7" fill="#0da772"/>
<rect x="343.74" y="40" width="1.2" height="7" fill="#10ac78"/>
<rect x="344.89" y="40" width="1.2" height="7" fill="#0da872"/>
<rect x="346.04" y="40" width="1.2" height="7" fill="#dcf5f1"/>
<rect x="347.19" y="40" width="1.2" height="7" fill="#10ab77"/>
<rect x="348.34" y="40" width="1.2" height="7" fill="#0ca670"/>
<rect x="349.49" y="40" width="1.2" height="7" fill="#0fab76"/>
<rect x="350.64" y="40" width="1.2" height="7" fill="#0da772"/>
<rect x="351.8" y="40" width="1.2" height="7" fill="#16b381"/>
<rect x="352.95" y="40" width="1.2" height="7" fill="#12ae7a"/>
<rect x="354.1" y="40" width="1.2" height="7" fill="#10ab76"/>
<rect x="355.25" y="40" width="1.2" height="7" fill="#0ca671"/>
<rect x="356.4" y="40" width="1.2" height="7" fill="#0ca771"/>
<rect x="357.55" y="40" width="1.2" height="7" fill="#15b380"/>
<rect x="358.7" y="40" width="2.35" height="7" fill="#0ca670"/>
<rect x="361" y="40" width="1.2" height="7" fill="#17b583"/>
<rect x="362.15" y="40" width="1.2" height="7" fill="#11ad79"/>
<rect x="363.3" y="40" width="1.2" height="7" fill="#15b280"/>
<rect x="364.45" y="40" width="1.2" height="7" fill="#16b481"/>
<rect x="365.6" y="40" width="1.2" height="7" fill="#9fe3d4"/>
<rect x="366.76" y="40" width="1.2" height="7" fill="#e2f7f4"/>
<rect x="367.91" y="40" width="2.35" height="7" fill="#0ca670"/>
<rect x="370.21" y="40" width="1.2" height="7" fill="#0faa74"/>
<rect x="371.36" y="40" width="1.2" height="7" fill="#ddf6f2"/>
<rect x="372.51" y="40" width="1.2" height="7" fill="#a5e5d7"/>
<rect x="373.66" y="40" width="1.2" height="7" fill="#13b07c"/>
<rect x="374.81" y="40" width="1.2" height="7" fill="#10ac77"/>
<rect x="375.96" y="40" width="1.2" height="7" fill="#11ad79"/>
<rect x="377.11" y="40" width="1.2" height="7" fill="#8edecc"/>
<rect x="378.26" y="40" width="2.35" height="7" fill="#0ca670"/>
<rect x="380.56" y="40" width="1.2" height="7" fill="#d5f3ee"/>
<rect x="381.72" y="40" width="1.2" height="7" fill="#15b280"/>
<rect x="382.87" y="40" width="1.2" height="7" fill="#11ad79"/>
<rect x="384.02" y="40" width="2.35" height="7" fill="#0ca670"/>
<rect x="386.32" y="40" width="1.2" height="7" fill="#0da771"/>
<rect x="387.47" y="40" width="1.2" height="7" fill="#14b07d"/>
<rect x="388.62" y="40" width="1.2" height="7" fill="#0da771"/>
<rect x="389.77" y="40" width="1.2" height="7" fill="#14b17e"/>
<rect x="390.92" y="40" width="1.2" height="7" fill="#abe6da"/>
<rect x="392.07" y="40" width="1.2" height="7" fill="#12ae7a"/>
<rect x="393.22" y="40" width="1.2" height="7" fill="#18b685"/>
<rect x="394.37" y="40" width="1.2" height="7" fill="#0ea873"/>
<rect x="395.52" y="40" width="1.2" height="7" fill="#0da872"/>
<rect x="396.68" y="40" width="1.2" height="7" fill="#11ad79"/>
<rect x="397.83" y="40" width="1.2" height="7" fill="#0ea973"/>
<rect x="398.98" y="40" width="1.2" height="7" fill="#10ab77"/>
<rect x="400.13" y="40" width="1.2" height="7" fill="#0ca670"/>
<rect x="401.28" y="40" width="1.2" height="7" fill="#12ae7b"/>
<rect x="402.43" y="40" width="1.2" height="7" fill="#0faa75"/>
<rect x="403.58" y="40" width="1.2" height="7" fill="#0da771"/>
<rect x="404.73" y="40" width="1.2" height="7" fill="#dff6f3"/>
<rect x="405.88" y="40" width="1.2" height="7" fill="#16b481"/>
<rect x="407.03" y="40" width="1.2" height="7" fill="#0faa75"/>
<rect x="408.18" y="40" width="1.2" height="7" fill="#0fab76"/>
<rect x="409.33" y="40" width="1.2" height="7" fill="#0fa974"/>
<rect x="410.48" y="40" width="1.2" height="7" fill="#0ea974"/>
<rect x="411.64" y="40" width="1.2" height="7" fill="#16b380"/>
<rect x="412.79" y="40" width="1.2" height="7" fill="#16b482"/>
<rect x="413.94" y="40" width="1.2" height="7" fill="#12ae7a"/>
<rect x="415.09" y="40" width="1.2" height="7" fill="#19b887"/>
<rect x="416.24" y="40" width="1.2" height="7" fill="#0da772"/>
<rect x="417.39" y="40" width="1.2" height="7" fill="#0faa75"/>
<rect x="418.54" y="40" width="1.2" height="7" fill="#11ad79"/>
<rect x="419.69" y="40" width="1.2" height="7" fill="#0da771"/>
<rect x="420.84" y="40" width="1.2" height="7" fill="#12ae7a"/>
<rect x="421.99" y="40" width="1.2" height="7" fill="#13b07d"/>
<rect x="423.14" y="40" width="1.2" height="7" fill="#0ca771"/>
<rect x="424.29" y="40" width="1.2" height="7" fill="#0ea873"/>
<rect x="425.44" y="40" width="1.2" height="7" fill="#12ae7a"/>
<rect x="426.6" y="40" width="1.2" height="7" fill="#16b380"/>
<rect x="427.75" y="40" width="1.2" height="7" fill="#14b07d"/>
<rect x="428.9" y="40" width="1.2" height="7" fill="#0faa75"/>
<rect x="430.05" y="40" width="2.35" height="7" fill="#11ad79"/>
<rect x="432.35" y="40" width="1.2" height="7" fill="#14b17f"/>
<text x="435.2" y="13.6" font-size="7.1" font-weight="bold" textLength="16.2" lengthAdjust="spacingAndGlyphs" fill="#0a0a0a" class="bs">Type</text>
<text x="435.2" y="21.6" font-size="7.1" font-weight="bold" textLength="16.6" lengthAdjust="spacingAndGlyphs" fill="#0a0a0a" class="bs">Race</text>
<text x="435.2" y="29.6" font-size="7.1" font-weight="bold" textLength="12.6" lengthAdjust="spacingAndGlyphs" fill="#0a0a0a" class="bs">Sex</text>
<text x="435.2" y="37.6" font-size="7.1" font-weight="bold" textLength="13.8" lengthAdjust="spacingAndGlyphs" fill="#0a0a0a" class="bs">Age</text>
<text x="435.2" y="45.5" font-size="7.1" font-weight="bold" textLength="12.2" lengthAdjust="spacingAndGlyphs" fill="#0a0a0a" class="bs">RIN</text>
<path fill="#ee3b29" d="M303.46 74.8h1.15v8.93h-1.15zM329.93 74.8h1.15v8.93h-1.15zM329.93 101.59h1.15v8.93h-1.15zM329.93 110.52h1.15v8.93h-1.15zM329.93 128.39h1.15v8.93h-1.15zM329.93 137.32h1.15v8.93h-1.15zM329.93 146.25h1.15v8.93h-1.15zM329.93 155.18h1.15v8.93h-1.15zM329.93 190.91h1.15v8.93h-1.15zM329.93 208.78h1.15v8.93h-1.15zM329.93 217.71h1.15v8.93h-1.15zM329.93 235.57h1.15v8.93h-1.15zM329.93 244.5h1.15v8.93h-1.15zM329.93 253.44h1.15v8.93h-1.15zM329.93 262.37h1.15v8.93h-1.15z"/>
<path fill="#f98d58" d="M384.02 48h1.15v8.93h-1.15zM403.58 48h1.15v8.93h-1.15zM407.03 48h1.15v8.93h-1.15zM410.48 48h1.15v8.93h-1.15zM389.77 56.93h1.15v8.93h-1.15zM393.22 56.93h1.15v8.93h-1.15zM401.28 56.93h1.15v8.93h-1.15zM403.58 56.93h1.15v8.93h-1.15zM405.88 56.93h1.15v8.93h-1.15zM408.18 56.93h1.15v8.93h-1.15zM319.57 65.86h1.15v8.93h-1.15zM369.06 65.86h1.15v8.93h-1.15zM392.07 65.86h1.15v8.93h-1.15zM401.28 65.86h1.15v8.93h-1.15zM403.58 65.86h1.15v8.93h-1.15zM405.88 65.86h2.3v8.93h-2.3zM410.48 65.86h1.15v8.93h-1.15zM420.84 65.86h1.15v8.93h-1.15zM335.68 74.8h1.15v8.93h-1.15zM351.8 74.8h2.3v8.93h-2.3zM358.7 74.8h1.15v8.93h-1.15zM367.91 74.8h1.15v8.93h-1.15zM382.87 74.8h1.15v8.93h-1.15zM387.47 74.8h1.15v8.93h-1.15zM303.46 83.73h1.15v8.93h-1.15zM329.93 83.73h1.15v8.93h-1.15zM352.95 83.73h1.15v8.93h-1.15zM358.7 83.73h1.15v8.93h-1.15zM382.87 83.73h1.15v8.93h-1.15zM329.93 92.66h1.15v8.93h-1.15zM379.41 92.66h1.15v8.93h-1.15zM303.46 101.59h1.15v8.93h-1.15zM305.76 101.59h1.15v8.93h-1.15zM308.07 101.59h1.15v8.93h-1.15zM312.67 101.59h1.15v8.93h-1.15zM316.12 101.59h2.3v8.93h-2.3zM324.18 101.59h1.15v8.93h-1.15zM332.23 101.59h1.15v8.93h-1.15zM334.53 101.59h1.15v8.93h-1.15zM351.8 101.59h1.15v8.93h-1.15zM358.7 101.59h1.15v8.93h-1.15zM365.6 101.59h1.15v8.93h-1.15zM367.91 101.59h1.15v8.93h-1.15zM371.36 101.59h1.15v8.93h-1.15zM375.96 101.59h1.15v8.93h-1.15zM378.26 101.59h1.15v8.93h-1.15zM382.87 101.59h1.15v8.93h-1.15zM387.47 101.59h1.15v8.93h-1.15zM303.46 110.52h1.15v8.93h-1.15zM311.52 110.52h1.15v8.93h-1.15zM332.23 110.52h1.15v8.93h-1.15zM367.91 110.52h1.15v8.93h-1.15zM378.26 110.52h1.15v8.93h-1.15zM317.27 119.46h1.15v8.93h-1.15zM329.93 119.46h1.15v8.93h-1.15zM351.8 119.46h1.15v8.93h-1.15zM358.7 119.46h1.15v8.93h-1.15zM379.41 119.46h1.15v8.93h-1.15zM303.46 128.39h1.15v8.93h-1.15zM311.52 128.39h1.15v8.93h-1.15zM317.27 128.39h1.15v8.93h-1.15zM352.95 128.39h1.15v8.93h-1.15zM357.55 128.39h1.15v8.93h-1.15zM365.6 128.39h1.15v8.93h-1.15zM371.36 128.39h1.15v8.93h-1.15zM375.96 128.39h1.15v8.93h-1.15zM382.87 128.39h1.15v8.93h-1.15zM332.23 137.32h1.15v8.93h-1.15zM358.7 137.32h1.15v8.93h-1.15zM367.91 137.32h1.15v8.93h-1.15zM382.87 137.32h1.15v8.93h-1.15zM290.8 146.25h1.15v8.93h-1.15zM303.46 146.25h1.15v8.93h-1.15zM355.25 146.25h1.15v8.93h-1.15zM358.7 146.25h1.15v8.93h-1.15zM371.36 146.25h1.15v8.93h-1.15zM382.87 146.25h2.3v8.93h-2.3zM311.52 155.18h1.15v8.93h-1.15zM325.33 155.18h1.15v8.93h-1.15zM351.8 155.18h1.15v8.93h-1.15zM357.55 155.18h1.15v8.93h-1.15zM379.41 155.18h2.3v8.93h-2.3zM387.47 155.18h1.15v8.93h-1.15zM325.33 164.12h1.15v8.93h-1.15zM329.93 164.12h1.15v8.93h-1.15zM332.23 164.12h1.15v8.93h-1.15zM290.8 173.05h2.3v8.93h-2.3zM312.67 173.05h1.15v8.93h-1.15zM329.93 173.05h1.15v8.93h-1.15zM332.23 173.05h1.15v8.93h-1.15zM343.74 173.05h1.15v8.93h-1.15zM351.8 173.05h1.15v8.93h-1.15zM358.7 173.05h1.15v8.93h-1.15zM365.6 173.05h1.15v8.93h-1.15zM370.21 173.05h1.15v8.93h-1.15zM382.87 173.05h1.15v8.93h-1.15zM303.46 181.98h1.15v8.93h-1.15zM311.52 181.98h2.3v8.93h-2.3zM314.97 181.98h1.15v8.93h-1.15zM325.33 181.98h1.15v8.93h-1.15zM329.93 181.98h1.15v8.93h-1.15zM349.49 181.98h1.15v8.93h-1.15zM351.8 181.98h1.15v8.93h-1.15zM358.7 181.98h1.15v8.93h-1.15zM364.45 181.98h1.15v8.93h-1.15zM370.21 181.98h1.15v8.93h-1.15zM397.83 181.98h1.15v8.93h-1.15zM367.91 190.91h1.15v8.93h-1.15zM290.8 199.84h1.15v8.93h-1.15zM303.46 199.84h1.15v8.93h-1.15zM311.52 199.84h1.15v8.93h-1.15zM329.93 199.84h1.15v8.93h-1.15zM332.23 199.84h1.15v8.93h-1.15zM335.68 199.84h1.15v8.93h-1.15zM358.7 199.84h1.15v8.93h-1.15zM365.6 199.84h1.15v8.93h-1.15zM367.91 199.84h1.15v8.93h-1.15zM303.46 208.78h1.15v8.93h-1.15zM311.52 208.78h2.3v8.93h-2.3zM318.42 208.78h1.15v8.93h-1.15zM332.23 208.78h1.15v8.93h-1.15zM343.74 208.78h1.15v8.93h-1.15zM350.64 208.78h1.15v8.93h-1.15zM352.95 208.78h1.15v8.93h-1.15zM355.25 208.78h1.15v8.93h-1.15zM365.6 208.78h1.15v8.93h-1.15zM367.91 208.78h1.15v8.93h-1.15zM370.21 208.78h1.15v8.93h-1.15zM312.67 217.71h1.15v8.93h-1.15zM320.72 217.71h1.15v8.93h-1.15zM365.6 217.71h1.15v8.93h-1.15zM378.26 217.71h1.15v8.93h-1.15zM303.46 226.64h1.15v8.93h-1.15zM325.33 226.64h1.15v8.93h-1.15zM329.93 226.64h1.15v8.93h-1.15zM332.23 226.64h1.15v8.93h-1.15zM358.7 226.64h1.15v8.93h-1.15zM365.6 226.64h1.15v8.93h-1.15zM303.46 235.57h1.15v8.93h-1.15zM332.23 235.57h1.15v8.93h-1.15zM352.95 235.57h1.15v8.93h-1.15zM371.36 235.57h1.15v8.93h-1.15zM380.56 235.57h1.15v8.93h-1.15zM426.6 235.57h1.15v8.93h-1.15zM303.46 244.5h1.15v8.93h-1.15zM312.67 244.5h1.15v8.93h-1.15zM325.33 244.5h1.15v8.93h-1.15zM349.49 244.5h1.15v8.93h-1.15zM290.8 253.44h1.15v8.93h-1.15zM303.46 253.44h1.15v8.93h-1.15zM325.33 253.44h1.15v8.93h-1.15zM335.68 253.44h1.15v8.93h-1.15zM362.15 253.44h1.15v8.93h-1.15zM382.87 253.44h1.15v8.93h-1.15zM387.47 253.44h1.15v8.93h-1.15zM303.46 262.37h1.15v8.93h-1.15zM311.52 262.37h2.3v8.93h-2.3zM325.33 262.37h1.15v8.93h-1.15zM334.53 262.37h1.15v8.93h-1.15zM358.7 262.37h1.15v8.93h-1.15zM375.96 262.37h1.15v8.93h-1.15z"/>
<path fill="#fdd98d" d="M283.9 48h1.15v8.93h-1.15zM286.2 48h1.15v8.93h-1.15zM288.5 48h1.15v8.93h-1.15zM302.31 48h1.15v8.93h-1.15zM304.61 48h1.15v8.93h-1.15zM309.22 48h1.15v8.93h-1.15zM313.82 48h1.15v8.93h-1.15zM319.57 48h1.15v8.93h-1.15zM321.88 48h3.45v8.93h-3.45zM326.48 48h3.45v8.93h-3.45zM331.08 48h1.15v8.93h-1.15zM337.99 48h1.15v8.93h-1.15zM346.04 48h1.15v8.93h-1.15zM356.4 48h2.3v8.93h-2.3zM359.85 48h5.75v8.93h-5.75zM369.06 48h4.6v8.93h-4.6zM374.81 48h1.15v8.93h-1.15zM377.11 48h5.75v8.93h-5.75zM385.17 48h2.3v8.93h-2.3zM388.62 48h4.6v8.93h-4.6zM394.37 48h1.15v8.93h-1.15zM396.68 48h2.3v8.93h-2.3zM400.13 48h2.3v8.93h-2.3zM404.73 48h2.3v8.93h-2.3zM408.18 48h1.15v8.93h-1.15zM411.64 48h8.06v8.93h-8.06zM420.84 48h1.15v8.93h-1.15zM423.14 48h1.15v8.93h-1.15zM427.75 48h5.75v8.93h-5.75zM287.35 56.93h2.3v8.93h-2.3zM291.96 56.93h1.15v8.93h-1.15zM294.26 56.93h1.15v8.93h-1.15zM296.56 56.93h2.3v8.93h-2.3zM300.01 56.93h1.15v8.93h-1.15zM304.61 56.93h1.15v8.93h-1.15zM309.22 56.93h1.15v8.93h-1.15zM313.82 56.93h1.15v8.93h-1.15zM318.42 56.93h3.45v8.93h-3.45zM326.48 56.93h3.45v8.93h-3.45zM337.99 56.93h2.3v8.93h-2.3zM342.59 56.93h1.15v8.93h-1.15zM344.89 56.93h2.3v8.93h-2.3zM350.64 56.93h1.15v8.93h-1.15zM354.1 56.93h1.15v8.93h-1.15zM356.4 56.93h2.3v8.93h-2.3zM359.85 56.93h5.75v8.93h-5.75zM370.21 56.93h5.75v8.93h-5.75zM377.11 56.93h1.15v8.93h-1.15zM380.56 56.93h2.3v8.93h-2.3zM384.02 56.93h3.45v8.93h-3.45zM390.92 56.93h2.3v8.93h-2.3zM394.37 56.93h4.6v8.93h-4.6zM400.13 56.93h1.15v8.93h-1.15zM402.43 56.93h1.15v8.93h-1.15zM404.73 56.93h1.15v8.93h-1.15zM407.03 56.93h1.15v8.93h-1.15zM409.33 56.93h3.45v8.93h-3.45zM415.09 56.93h9.21v8.93h-9.21zM425.44 56.93h8.06v8.93h-8.06zM285.05 65.86h1.15v8.93h-1.15zM288.5 65.86h2.3v8.93h-2.3zM298.86 65.86h2.3v8.93h-2.3zM302.31 65.86h1.15v8.93h-1.15zM304.61 65.86h1.15v8.93h-1.15zM309.22 65.86h1.15v8.93h-1.15zM313.82 65.86h2.3v8.93h-2.3zM318.42 65.86h1.15v8.93h-1.15zM323.03 65.86h1.15v8.93h-1.15zM327.63 65.86h1.15v8.93h-1.15zM333.38 65.86h1.15v8.93h-1.15zM336.84 65.86h1.15v8.93h-1.15zM341.44 65.86h1.15v8.93h-1.15zM343.74 65.86h1.15v8.93h-1.15zM346.04 65.86h2.3v8.93h-2.3zM355.25 65.86h3.45v8.93h-3.45zM359.85 65.86h5.75v8.93h-5.75zM366.76 65.86h1.15v8.93h-1.15zM370.21 65.86h3.45v8.93h-3.45zM375.96 65.86h2.3v8.93h-2.3zM379.41 65.86h1.15v8.93h-1.15zM381.72 65.86h1.15v8.93h-1.15zM384.02 65.86h1.15v8.93h-1.15zM386.32 65.86h2.3v8.93h-2.3zM389.77 65.86h2.3v8.93h-2.3zM393.22 65.86h4.6v8.93h-4.6zM400.13 65.86h1.15v8.93h-1.15zM402.43 65.86h1.15v8.93h-1.15zM404.73 65.86h1.15v8.93h-1.15zM408.18 65.86h2.3v8.93h-2.3zM411.64 65.86h1.15v8.93h-1.15zM413.94 65.86h6.9v8.93h-6.9zM421.99 65.86h2.3v8.93h-2.3zM425.44 65.86h1.15v8.93h-1.15zM427.75 65.86h5.75v8.93h-5.75zM285.05 74.8h9.21v8.93h-9.21zM295.41 74.8h2.3v8.93h-2.3zM300.01 74.8h2.3v8.93h-2.3zM304.61 74.8h2.3v8.93h-2.3zM308.07 74.8h3.45v8.93h-3.45zM312.67 74.8h1.15v8.93h-1.15zM314.97 74.8h4.6v8.93h-4.6zM320.72 74.8h2.3v8.93h-2.3zM324.18 74.8h3.45v8.93h-3.45zM331.08 74.8h4.6v8.93h-4.6zM340.29 74.8h4.6v8.93h-4.6zM347.19 74.8h4.6v8.93h-4.6zM355.25 74.8h3.45v8.93h-3.45zM359.85 74.8h2.3v8.93h-2.3zM364.45 74.8h3.45v8.93h-3.45zM370.21 74.8h2.3v8.93h-2.3zM373.66 74.8h1.15v8.93h-1.15zM375.96 74.8h1.15v8.93h-1.15zM378.26 74.8h4.6v8.93h-4.6zM384.02 74.8h3.45v8.93h-3.45zM390.92 74.8h1.15v8.93h-1.15zM397.83 74.8h1.15v8.93h-1.15zM402.43 74.8h1.15v8.93h-1.15zM408.18 74.8h1.15v8.93h-1.15zM416.24 74.8h1.15v8.93h-1.15zM419.69 74.8h1.15v8.93h-1.15zM421.99 74.8h1.15v8.93h-1.15zM424.29 74.8h4.6v8.93h-4.6zM430.05 74.8h1.15v8.93h-1.15zM283.9 83.73h1.15v8.93h-1.15zM287.35 83.73h2.3v8.93h-2.3zM290.8 83.73h2.3v8.93h-2.3zM294.26 83.73h4.6v8.93h-4.6zM300.01 83.73h3.45v8.93h-3.45zM304.61 83.73h2.3v8.93h-2.3zM308.07 83.73h11.51v8.93h-11.51zM320.72 83.73h3.45v8.93h-3.45zM325.33 83.73h4.6v8.93h-4.6zM332.23 83.73h5.75v8.93h-5.75zM342.59 83.73h1.15v8.93h-1.15zM344.89 83.73h1.15v8.93h-1.15zM347.19 83.73h5.75v8.93h-5.75zM354.1 83.73h4.6v8.93h-4.6zM362.15 83.73h10.36v8.93h-10.36zM373.66 83.73h1.15v8.93h-1.15zM375.96 83.73h1.15v8.93h-1.15zM378.26 83.73h2.3v8.93h-2.3zM381.72 83.73h1.15v8.93h-1.15zM384.02 83.73h2.3v8.93h-2.3zM387.47 83.73h1.15v8.93h-1.15zM393.22 83.73h1.15v8.93h-1.15zM404.73 83.73h1.15v8.93h-1.15zM423.14 83.73h2.3v8.93h-2.3zM283.9 92.66h2.3v8.93h-2.3zM287.35 92.66h1.15v8.93h-1.15zM289.65 92.66h2.3v8.93h-2.3zM293.11 92.66h1.15v8.93h-1.15zM295.41 92.66h5.75v8.93h-5.75zM303.46 92.66h1.15v8.93h-1.15zM305.76 92.66h8.06v8.93h-8.06zM316.12 92.66h3.45v8.93h-3.45zM324.18 92.66h2.3v8.93h-2.3zM332.23 92.66h4.6v8.93h-4.6zM339.14 92.66h2.3v8.93h-2.3zM348.34 92.66h5.75v8.93h-5.75zM355.25 92.66h1.15v8.93h-1.15zM358.7 92.66h1.15v8.93h-1.15zM364.45 92.66h4.6v8.93h-4.6zM370.21 92.66h2.3v8.93h-2.3zM374.81 92.66h2.3v8.93h-2.3zM378.26 92.66h1.15v8.93h-1.15zM382.87 92.66h1.15v8.93h-1.15zM385.17 92.66h1.15v8.93h-1.15zM387.47 92.66h1.15v8.93h-1.15zM393.22 92.66h1.15v8.93h-1.15zM395.52 92.66h1.15v8.93h-1.15zM398.98 92.66h1.15v8.93h-1.15zM416.24 92.66h2.3v8.93h-2.3zM426.6 92.66h2.3v8.93h-2.3zM283.9 101.59h5.75v8.93h-5.75zM290.8 101.59h5.75v8.93h-5.75zM297.71 101.59h4.6v8.93h-4.6zM306.92 101.59h1.15v8.93h-1.15zM309.22 101.59h3.45v8.93h-3.45zM313.82 101.59h2.3v8.93h-2.3zM318.42 101.59h1.15v8.93h-1.15zM321.88 101.59h2.3v8.93h-2.3zM325.33 101.59h3.45v8.93h-3.45zM331.08 101.59h1.15v8.93h-1.15zM333.38 101.59h1.15v8.93h-1.15zM335.68 101.59h12.66v8.93h-12.66zM349.49 101.59h2.3v8.93h-2.3zM352.95 101.59h5.75v8.93h-5.75zM359.85 101.59h5.75v8.93h-5.75zM366.76 101.59h1.15v8.93h-1.15zM369.06 101.59h2.3v8.93h-2.3zM372.51 101.59h3.45v8.93h-3.45zM379.41 101.59h3.45v8.93h-3.45zM384.02 101.59h3.45v8.93h-3.45zM393.22 101.59h3.45v8.93h-3.45zM398.98 101.59h1.15v8.93h-1.15zM404.73 101.59h1.15v8.93h-1.15zM408.18 101.59h1.15v8.93h-1.15zM412.79 101.59h1.15v8.93h-1.15zM416.24 101.59h1.15v8.93h-1.15zM418.54 101.59h2.3v8.93h-2.3zM421.99 101.59h3.45v8.93h-3.45zM426.6 101.59h2.3v8.93h-2.3zM285.05 110.52h3.45v8.93h-3.45zM289.65 110.52h2.3v8.93h-2.3zM293.11 110.52h6.9v8.93h-6.9zM301.16 110.52h1.15v8.93h-1.15zM305.76 110.52h5.75v8.93h-5.75zM312.67 110.52h1.15v8.93h-1.15zM316.12 110.52h2.3v8.93h-2.3zM323.03 110.52h4.6v8.93h-4.6zM331.08 110.52h1.15v8.93h-1.15zM334.53 110.52h2.3v8.93h-2.3zM337.99 110.52h1.15v8.93h-1.15zM340.29 110.52h1.15v8.93h-1.15zM342.59 110.52h1.15v8.93h-1.15zM344.89 110.52h9.21v8.93h-9.21zM355.25 110.52h2.3v8.93h-2.3zM358.7 110.52h1.15v8.93h-1.15zM362.15 110.52h1.15v8.93h-1.15zM364.45 110.52h3.45v8.93h-3.45zM369.06 110.52h5.75v8.93h-5.75zM375.96 110.52h1.15v8.93h-1.15zM379.41 110.52h9.21v8.93h-9.21zM390.92 110.52h1.15v8.93h-1.15zM395.52 110.52h1.15v8.93h-1.15zM412.79 110.52h1.15v8.93h-1.15zM416.24 110.52h1.15v8.93h-1.15zM424.29 110.52h1.15v8.93h-1.15zM426.6 110.52h1.15v8.93h-1.15zM287.35 119.46h1.15v8.93h-1.15zM290.8 119.46h4.6v8.93h-4.6zM296.56 119.46h3.45v8.93h-3.45zM301.16 119.46h5.75v8.93h-5.75zM308.07 119.46h1.15v8.93h-1.15zM310.37 119.46h3.45v8.93h-3.45zM314.97 119.46h1.15v8.93h-1.15zM318.42 119.46h2.3v8.93h-2.3zM321.88 119.46h5.75v8.93h-5.75zM332.23 119.46h13.81v8.93h-13.81zM347.19 119.46h4.6v8.93h-4.6zM352.95 119.46h3.45v8.93h-3.45zM357.55 119.46h1.15v8.93h-1.15zM359.85 119.46h1.15v8.93h-1.15zM364.45 119.46h5.75v8.93h-5.75zM371.36 119.46h5.75v8.93h-5.75zM378.26 119.46h1.15v8.93h-1.15zM380.56 119.46h3.45v8.93h-3.45zM385.17 119.46h3.45v8.93h-3.45zM390.92 119.46h1.15v8.93h-1.15zM393.22 119.46h1.15v8.93h-1.15zM396.68 119.46h1.15v8.93h-1.15zM416.24 119.46h1.15v8.93h-1.15zM425.44 119.46h3.45v8.93h-3.45zM283.9 128.39h3.45v8.93h-3.45zM290.8 128.39h4.6v8.93h-4.6zM296.56 128.39h5.75v8.93h-5.75zM305.76 128.39h4.6v8.93h-4.6zM312.67 128.39h1.15v8.93h-1.15zM314.97 128.39h2.3v8.93h-2.3zM318.42 128.39h1.15v8.93h-1.15zM320.72 128.39h6.9v8.93h-6.9zM332.23 128.39h5.75v8.93h-5.75zM339.14 128.39h8.06v8.93h-8.06zM348.34 128.39h4.6v8.93h-4.6zM354.1 128.39h3.45v8.93h-3.45zM358.7 128.39h3.45v8.93h-3.45zM364.45 128.39h1.15v8.93h-1.15zM366.76 128.39h4.6v8.93h-4.6zM372.51 128.39h2.3v8.93h-2.3zM378.26 128.39h3.45v8.93h-3.45zM384.02 128.39h1.15v8.93h-1.15zM387.47 128.39h1.15v8.93h-1.15zM390.92 128.39h1.15v8.93h-1.15zM395.52 128.39h1.15v8.93h-1.15zM397.83 128.39h2.3v8.93h-2.3zM412.79 128.39h1.15v8.93h-1.15zM424.29 128.39h2.3v8.93h-2.3zM430.05 128.39h1.15v8.93h-1.15zM285.05 137.32h3.45v8.93h-3.45zM290.8 137.32h1.15v8.93h-1.15zM293.11 137.32h1.15v8.93h-1.15zM296.56 137.32h1.15v8.93h-1.15zM298.86 137.32h1.15v8.93h-1.15zM301.16 137.32h3.45v8.93h-3.45zM305.76 137.32h3.45v8.93h-3.45zM311.52 137.32h2.3v8.93h-2.3zM314.97 137.32h1.15v8.93h-1.15zM317.27 137.32h1.15v8.93h-1.15zM323.03 137.32h4.6v8.93h-4.6zM328.78 137.32h1.15v8.93h-1.15zM333.38 137.32h9.21v8.93h-9.21zM343.74 137.32h2.3v8.93h-2.3zM347.19 137.32h1.15v8.93h-1.15zM351.8 137.32h2.3v8.93h-2.3zM356.4 137.32h2.3v8.93h-2.3zM359.85 137.32h1.15v8.93h-1.15zM363.3 137.32h3.45v8.93h-3.45zM370.21 137.32h1.15v8.93h-1.15zM373.66 137.32h1.15v8.93h-1.15zM375.96 137.32h4.6v8.93h-4.6zM385.17 137.32h3.45v8.93h-3.45zM393.22 137.32h1.15v8.93h-1.15zM397.83 137.32h1.15v8.93h-1.15zM408.18 137.32h1.15v8.93h-1.15zM412.79 137.32h1.15v8.93h-1.15zM416.24 137.32h1.15v8.93h-1.15zM424.29 137.32h1.15v8.93h-1.15zM426.6 137.32h1.15v8.93h-1.15zM283.9 146.25h2.3v8.93h-2.3zM287.35 146.25h3.45v8.93h-3.45zM291.96 146.25h2.3v8.93h-2.3zM295.41 146.25h6.9v8.93h-6.9zM304.61 146.25h1.15v8.93h-1.15zM306.92 146.25h6.9v8.93h-6.9zM314.97 146.25h3.45v8.93h-3.45zM320.72 146.25h6.9v8.93h-6.9zM332.23 146.25h1.15v8.93h-1.15zM334.53 146.25h3.45v8.93h-3.45zM340.29 146.25h5.75v8.93h-5.75zM348.34 146.25h3.45v8.93h-3.45zM352.95 146.25h2.3v8.93h-2.3zM356.4 146.25h2.3v8.93h-2.3zM359.85 146.25h1.15v8.93h-1.15zM362.15 146.25h5.75v8.93h-5.75zM370.21 146.25h1.15v8.93h-1.15zM373.66 146.25h9.21v8.93h-9.21zM385.17 146.25h3.45v8.93h-3.45zM393.22 146.25h1.15v8.93h-1.15zM395.52 146.25h1.15v8.93h-1.15zM397.83 146.25h1.15v8.93h-1.15zM404.73 146.25h1.15v8.93h-1.15zM408.18 146.25h1.15v8.93h-1.15zM412.79 146.25h1.15v8.93h-1.15zM416.24 146.25h1.15v8.93h-1.15zM418.54 146.25h1.15v8.93h-1.15zM423.14 146.25h1.15v8.93h-1.15zM425.44 146.25h3.45v8.93h-3.45zM285.05 155.18h1.15v8.93h-1.15zM290.8 155.18h8.06v8.93h-8.06zM300.01 155.18h2.3v8.93h-2.3zM305.76 155.18h1.15v8.93h-1.15zM308.07 155.18h3.45v8.93h-3.45zM312.67 155.18h1.15v8.93h-1.15zM316.12 155.18h3.45v8.93h-3.45zM320.72 155.18h3.45v8.93h-3.45zM332.23 155.18h1.15v8.93h-1.15zM334.53 155.18h2.3v8.93h-2.3zM337.99 155.18h12.66v8.93h-12.66zM352.95 155.18h4.6v8.93h-4.6zM358.7 155.18h1.15v8.93h-1.15zM361 155.18h1.15v8.93h-1.15zM363.3 155.18h5.75v8.93h-5.75zM370.21 155.18h2.3v8.93h-2.3zM373.66 155.18h1.15v8.93h-1.15zM375.96 155.18h2.3v8.93h-2.3zM381.72 155.18h4.6v8.93h-4.6zM393.22 155.18h1.15v8.93h-1.15zM395.52 155.18h1.15v8.93h-1.15zM398.98 155.18h1.15v8.93h-1.15zM408.18 155.18h1.15v8.93h-1.15zM416.24 155.18h1.15v8.93h-1.15zM418.54 155.18h1.15v8.93h-1.15zM426.6 155.18h2.3v8.93h-2.3zM285.05 164.12h1.15v8.93h-1.15zM290.8 164.12h2.3v8.93h-2.3zM295.41 164.12h2.3v8.93h-2.3zM301.16 164.12h1.15v8.93h-1.15zM303.46 164.12h1.15v8.93h-1.15zM305.76 164.12h1.15v8.93h-1.15zM308.07 164.12h1.15v8.93h-1.15zM310.37 164.12h3.45v8.93h-3.45zM316.12 164.12h2.3v8.93h-2.3zM320.72 164.12h1.15v8.93h-1.15zM334.53 164.12h2.3v8.93h-2.3zM339.14 164.12h4.6v8.93h-4.6zM349.49 164.12h1.15v8.93h-1.15zM351.8 164.12h5.75v8.93h-5.75zM358.7 164.12h1.15v8.93h-1.15zM366.76 164.12h2.3v8.93h-2.3zM373.66 164.12h2.3v8.93h-2.3zM377.11 164.12h6.9v8.93h-6.9zM386.32 164.12h1.15v8.93h-1.15zM395.52 164.12h1.15v8.93h-1.15zM398.98 164.12h1.15v8.93h-1.15zM283.9 173.05h3.45v8.93h-3.45zM288.5 173.05h2.3v8.93h-2.3zM293.11 173.05h3.45v8.93h-3.45zM297.71 173.05h2.3v8.93h-2.3zM301.16 173.05h8.06v8.93h-8.06zM310.37 173.05h2.3v8.93h-2.3zM314.97 173.05h8.06v8.93h-8.06zM324.18 173.05h3.45v8.93h-3.45zM328.78 173.05h1.15v8.93h-1.15zM331.08 173.05h1.15v8.93h-1.15zM333.38 173.05h4.6v8.93h-4.6zM340.29 173.05h3.45v8.93h-3.45zM344.89 173.05h1.15v8.93h-1.15zM347.19 173.05h4.6v8.93h-4.6zM352.95 173.05h5.75v8.93h-5.75zM359.85 173.05h1.15v8.93h-1.15zM362.15 173.05h1.15v8.93h-1.15zM364.45 173.05h1.15v8.93h-1.15zM366.76 173.05h3.45v8.93h-3.45zM371.36 173.05h1.15v8.93h-1.15zM373.66 173.05h9.21v8.93h-9.21zM384.02 173.05h2.3v8.93h-2.3zM387.47 173.05h1.15v8.93h-1.15zM393.22 173.05h1.15v8.93h-1.15zM395.52 173.05h1.15v8.93h-1.15zM398.98 173.05h1.15v8.93h-1.15zM412.79 173.05h1.15v8.93h-1.15zM416.24 173.05h1.15v8.93h-1.15zM424.29 173.05h1.15v8.93h-1.15zM426.6 173.05h1.15v8.93h-1.15zM283.9 181.98h5.75v8.93h-5.75zM290.8 181.98h9.21v8.93h-9.21zM301.16 181.98h2.3v8.93h-2.3zM304.61 181.98h3.45v8.93h-3.45zM310.37 181.98h1.15v8.93h-1.15zM313.82 181.98h1.15v8.93h-1.15zM316.12 181.98h3.45v8.93h-3.45zM320.72 181.98h2.3v8.93h-2.3zM324.18 181.98h1.15v8.93h-1.15zM326.48 181.98h2.3v8.93h-2.3zM332.23 181.98h4.6v8.93h-4.6zM340.29 181.98h2.3v8.93h-2.3zM343.74 181.98h2.3v8.93h-2.3zM347.19 181.98h2.3v8.93h-2.3zM350.64 181.98h1.15v8.93h-1.15zM352.95 181.98h1.15v8.93h-1.15zM355.25 181.98h3.45v8.93h-3.45zM359.85 181.98h2.3v8.93h-2.3zM365.6 181.98h1.15v8.93h-1.15zM367.91 181.98h2.3v8.93h-2.3zM371.36 181.98h12.66v8.93h-12.66zM385.17 181.98h3.45v8.93h-3.45zM390.92 181.98h1.15v8.93h-1.15zM393.22 181.98h1.15v8.93h-1.15zM395.52 181.98h1.15v8.93h-1.15zM398.98 181.98h1.15v8.93h-1.15zM402.43 181.98h1.15v8.93h-1.15zM408.18 181.98h1.15v8.93h-1.15zM411.64 181.98h1.15v8.93h-1.15zM413.94 181.98h1.15v8.93h-1.15zM421.99 181.98h1.15v8.93h-1.15zM424.29 181.98h1.15v8.93h-1.15zM426.6 181.98h2.3v8.93h-2.3zM285.05 190.91h3.45v8.93h-3.45zM289.65 190.91h3.45v8.93h-3.45zM294.26 190.91h4.6v8.93h-4.6zM301.16 190.91h1.15v8.93h-1.15zM303.46 190.91h2.3v8.93h-2.3zM306.92 190.91h1.15v8.93h-1.15zM309.22 190.91h2.3v8.93h-2.3zM312.67 190.91h1.15v8.93h-1.15zM314.97 190.91h4.6v8.93h-4.6zM321.88 190.91h5.75v8.93h-5.75zM331.08 190.91h2.3v8.93h-2.3zM334.53 190.91h2.3v8.93h-2.3zM339.14 190.91h2.3v8.93h-2.3zM342.59 190.91h1.15v8.93h-1.15zM347.19 190.91h12.66v8.93h-12.66zM362.15 190.91h5.75v8.93h-5.75zM369.06 190.91h5.75v8.93h-5.75zM375.96 190.91h9.21v8.93h-9.21zM387.47 190.91h2.3v8.93h-2.3zM390.92 190.91h1.15v8.93h-1.15zM393.22 190.91h1.15v8.93h-1.15zM395.52 190.91h1.15v8.93h-1.15zM397.83 190.91h2.3v8.93h-2.3zM418.54 190.91h2.3v8.93h-2.3zM426.6 190.91h2.3v8.93h-2.3zM283.9 199.84h4.6v8.93h-4.6zM289.65 199.84h1.15v8.93h-1.15zM291.96 199.84h3.45v8.93h-3.45zM297.71 199.84h2.3v8.93h-2.3zM305.76 199.84h3.45v8.93h-3.45zM310.37 199.84h1.15v8.93h-1.15zM312.67 199.84h1.15v8.93h-1.15zM314.97 199.84h4.6v8.93h-4.6zM320.72 199.84h6.9v8.93h-6.9zM331.08 199.84h1.15v8.93h-1.15zM333.38 199.84h2.3v8.93h-2.3zM336.84 199.84h9.21v8.93h-9.21zM347.19 199.84h9.21v8.93h-9.21zM357.55 199.84h1.15v8.93h-1.15zM359.85 199.84h1.15v8.93h-1.15zM362.15 199.84h1.15v8.93h-1.15zM364.45 199.84h1.15v8.93h-1.15zM369.06 199.84h5.75v8.93h-5.75zM375.96 199.84h10.36v8.93h-10.36zM387.47 199.84h1.15v8.93h-1.15zM393.22 199.84h1.15v8.93h-1.15zM395.52 199.84h2.3v8.93h-2.3zM398.98 199.84h1.15v8.93h-1.15zM402.43 199.84h1.15v8.93h-1.15zM404.73 199.84h1.15v8.93h-1.15zM408.18 199.84h1.15v8.93h-1.15zM412.79 199.84h1.15v8.93h-1.15zM415.09 199.84h2.3v8.93h-2.3zM418.54 199.84h1.15v8.93h-1.15zM424.29 199.84h1.15v8.93h-1.15zM426.6 199.84h2.3v8.93h-2.3zM286.2 208.78h17.26v8.93h-17.26zM305.76 208.78h3.45v8.93h-3.45zM314.97 208.78h3.45v8.93h-3.45zM320.72 208.78h2.3v8.93h-2.3zM324.18 208.78h4.6v8.93h-4.6zM333.38 208.78h3.45v8.93h-3.45zM337.99 208.78h5.75v8.93h-5.75zM344.89 208.78h1.15v8.93h-1.15zM347.19 208.78h3.45v8.93h-3.45zM351.8 208.78h1.15v8.93h-1.15zM356.4 208.78h4.6v8.93h-4.6zM362.15 208.78h1.15v8.93h-1.15zM364.45 208.78h1.15v8.93h-1.15zM366.76 208.78h1.15v8.93h-1.15zM369.06 208.78h1.15v8.93h-1.15zM371.36 208.78h9.21v8.93h-9.21zM381.72 208.78h6.9v8.93h-6.9zM393.22 208.78h1.15v8.93h-1.15zM395.52 208.78h1.15v8.93h-1.15zM397.83 208.78h1.15v8.93h-1.15zM400.13 208.78h1.15v8.93h-1.15zM404.73 208.78h1.15v8.93h-1.15zM408.18 208.78h1.15v8.93h-1.15zM411.64 208.78h2.3v8.93h-2.3zM416.24 208.78h1.15v8.93h-1.15zM423.14 208.78h1.15v8.93h-1.15zM425.44 208.78h2.3v8.93h-2.3zM285.05 217.71h4.6v8.93h-4.6zM290.8 217.71h2.3v8.93h-2.3zM298.86 217.71h1.15v8.93h-1.15zM303.46 217.71h1.15v8.93h-1.15zM305.76 217.71h2.3v8.93h-2.3zM309.22 217.71h3.45v8.93h-3.45zM316.12 217.71h2.3v8.93h-2.3zM321.88 217.71h1.15v8.93h-1.15zM324.18 217.71h2.3v8.93h-2.3zM332.23 217.71h3.45v8.93h-3.45zM336.84 217.71h4.6v8.93h-4.6zM342.59 217.71h1.15v8.93h-1.15zM344.89 217.71h1.15v8.93h-1.15zM347.19 217.71h1.15v8.93h-1.15zM349.49 217.71h8.06v8.93h-8.06zM358.7 217.71h2.3v8.93h-2.3zM363.3 217.71h1.15v8.93h-1.15zM366.76 217.71h2.3v8.93h-2.3zM370.21 217.71h2.3v8.93h-2.3zM375.96 217.71h1.15v8.93h-1.15zM379.41 217.71h4.6v8.93h-4.6zM385.17 217.71h1.15v8.93h-1.15zM388.62 217.71h1.15v8.93h-1.15zM395.52 217.71h1.15v8.93h-1.15zM398.98 217.71h1.15v8.93h-1.15zM412.79 217.71h1.15v8.93h-1.15zM415.09 217.71h1.15v8.93h-1.15zM426.6 217.71h1.15v8.93h-1.15zM283.9 226.64h2.3v8.93h-2.3zM287.35 226.64h6.9v8.93h-6.9zM295.41 226.64h1.15v8.93h-1.15zM298.86 226.64h1.15v8.93h-1.15zM301.16 226.64h1.15v8.93h-1.15zM304.61 226.64h4.6v8.93h-4.6zM310.37 226.64h3.45v8.93h-3.45zM314.97 226.64h3.45v8.93h-3.45zM320.72 226.64h1.15v8.93h-1.15zM326.48 226.64h1.15v8.93h-1.15zM333.38 226.64h4.6v8.93h-4.6zM339.14 226.64h2.3v8.93h-2.3zM342.59 226.64h2.3v8.93h-2.3zM348.34 226.64h2.3v8.93h-2.3zM351.8 226.64h2.3v8.93h-2.3zM355.25 226.64h3.45v8.93h-3.45zM362.15 226.64h3.45v8.93h-3.45zM366.76 226.64h10.36v8.93h-10.36zM378.26 226.64h5.75v8.93h-5.75zM385.17 226.64h1.15v8.93h-1.15zM387.47 226.64h1.15v8.93h-1.15zM395.52 226.64h1.15v8.93h-1.15zM398.98 226.64h1.15v8.93h-1.15zM402.43 226.64h1.15v8.93h-1.15zM412.79 226.64h1.15v8.93h-1.15zM424.29 226.64h1.15v8.93h-1.15zM430.05 226.64h1.15v8.93h-1.15zM285.05 235.57h3.45v8.93h-3.45zM290.8 235.57h5.75v8.93h-5.75zM298.86 235.57h1.15v8.93h-1.15zM301.16 235.57h1.15v8.93h-1.15zM304.61 235.57h1.15v8.93h-1.15zM306.92 235.57h6.9v8.93h-6.9zM314.97 235.57h4.6v8.93h-4.6zM320.72 235.57h5.75v8.93h-5.75zM333.38 235.57h4.6v8.93h-4.6zM339.14 235.57h3.45v8.93h-3.45zM343.74 235.57h9.21v8.93h-9.21zM354.1 235.57h3.45v8.93h-3.45zM358.7 235.57h1.15v8.93h-1.15zM363.3 235.57h8.06v8.93h-8.06zM372.51 235.57h1.15v8.93h-1.15zM374.81 235.57h2.3v8.93h-2.3zM378.26 235.57h2.3v8.93h-2.3zM382.87 235.57h2.3v8.93h-2.3zM387.47 235.57h1.15v8.93h-1.15zM393.22 235.57h1.15v8.93h-1.15zM396.68 235.57h1.15v8.93h-1.15zM412.79 235.57h1.15v8.93h-1.15zM418.54 235.57h1.15v8.93h-1.15zM427.75 235.57h1.15v8.93h-1.15zM283.9 244.5h2.3v8.93h-2.3zM289.65 244.5h4.6v8.93h-4.6zM295.41 244.5h1.15v8.93h-1.15zM297.71 244.5h1.15v8.93h-1.15zM301.16 244.5h1.15v8.93h-1.15zM305.76 244.5h3.45v8.93h-3.45zM310.37 244.5h2.3v8.93h-2.3zM314.97 244.5h2.3v8.93h-2.3zM321.88 244.5h1.15v8.93h-1.15zM324.18 244.5h1.15v8.93h-1.15zM331.08 244.5h5.75v8.93h-5.75zM340.29 244.5h5.75v8.93h-5.75zM350.64 244.5h2.3v8.93h-2.3zM354.1 244.5h1.15v8.93h-1.15zM357.55 244.5h3.45v8.93h-3.45zM364.45 244.5h4.6v8.93h-4.6zM370.21 244.5h2.3v8.93h-2.3zM373.66 244.5h3.45v8.93h-3.45zM378.26 244.5h3.45v8.93h-3.45zM382.87 244.5h2.3v8.93h-2.3zM425.44 244.5h2.3v8.93h-2.3zM283.9 253.44h1.15v8.93h-1.15zM286.2 253.44h3.45v8.93h-3.45zM291.96 253.44h6.9v8.93h-6.9zM301.16 253.44h1.15v8.93h-1.15zM305.76 253.44h3.45v8.93h-3.45zM311.52 253.44h5.75v8.93h-5.75zM318.42 253.44h1.15v8.93h-1.15zM323.03 253.44h1.15v8.93h-1.15zM326.48 253.44h1.15v8.93h-1.15zM328.78 253.44h1.15v8.93h-1.15zM331.08 253.44h4.6v8.93h-4.6zM336.84 253.44h1.15v8.93h-1.15zM339.14 253.44h6.9v8.93h-6.9zM347.19 253.44h13.81v8.93h-13.81zM364.45 253.44h16.11v8.93h-16.11zM384.02 253.44h2.3v8.93h-2.3zM395.52 253.44h1.15v8.93h-1.15zM398.98 253.44h1.15v8.93h-1.15zM411.64 253.44h2.3v8.93h-2.3zM416.24 253.44h1.15v8.93h-1.15zM425.44 253.44h1.15v8.93h-1.15zM283.9 262.37h5.75v8.93h-5.75zM290.8 262.37h6.9v8.93h-6.9zM298.86 262.37h1.15v8.93h-1.15zM301.16 262.37h2.3v8.93h-2.3zM306.92 262.37h4.6v8.93h-4.6zM316.12 262.37h2.3v8.93h-2.3zM320.72 262.37h2.3v8.93h-2.3zM326.48 262.37h1.15v8.93h-1.15zM331.08 262.37h2.3v8.93h-2.3zM337.99 262.37h8.06v8.93h-8.06zM347.19 262.37h2.3v8.93h-2.3zM350.64 262.37h6.9v8.93h-6.9zM362.15 262.37h6.9v8.93h-6.9zM370.21 262.37h2.3v8.93h-2.3zM373.66 262.37h2.3v8.93h-2.3zM378.26 262.37h8.06v8.93h-8.06zM387.47 262.37h2.3v8.93h-2.3zM393.22 262.37h1.15v8.93h-1.15zM395.52 262.37h2.3v8.93h-2.3zM404.73 262.37h1.15v8.93h-1.15zM412.79 262.37h1.15v8.93h-1.15zM419.69 262.37h1.15v8.93h-1.15zM421.99 262.37h1.15v8.93h-1.15zM424.29 262.37h1.15v8.93h-1.15zM426.6 262.37h3.45v8.93h-3.45z"/>
<path fill="#d8eff6" d="M287.35 48h1.15v8.93h-1.15zM289.65 48h12.66v8.93h-12.66zM305.76 48h3.45v8.93h-3.45zM310.37 48h2.3v8.93h-2.3zM314.97 48h4.6v8.93h-4.6zM320.72 48h1.15v8.93h-1.15zM332.23 48h5.75v8.93h-5.75zM339.14 48h6.9v8.93h-6.9zM347.19 48h9.21v8.93h-9.21zM358.7 48h1.15v8.93h-1.15zM365.6 48h3.45v8.93h-3.45zM373.66 48h1.15v8.93h-1.15zM375.96 48h1.15v8.93h-1.15zM382.87 48h1.15v8.93h-1.15zM387.47 48h1.15v8.93h-1.15zM393.22 48h1.15v8.93h-1.15zM395.52 48h1.15v8.93h-1.15zM398.98 48h1.15v8.93h-1.15zM402.43 48h1.15v8.93h-1.15zM409.33 48h1.15v8.93h-1.15zM419.69 48h1.15v8.93h-1.15zM421.99 48h1.15v8.93h-1.15zM424.29 48h3.45v8.93h-3.45zM283.9 56.93h3.45v8.93h-3.45zM289.65 56.93h2.3v8.93h-2.3zM293.11 56.93h1.15v8.93h-1.15zM295.41 56.93h1.15v8.93h-1.15zM298.86 56.93h1.15v8.93h-1.15zM301.16 56.93h2.3v8.93h-2.3zM305.76 56.93h3.45v8.93h-3.45zM310.37 56.93h3.45v8.93h-3.45zM314.97 56.93h3.45v8.93h-3.45zM321.88 56.93h4.6v8.93h-4.6zM331.08 56.93h1.15v8.93h-1.15zM333.38 56.93h2.3v8.93h-2.3zM336.84 56.93h1.15v8.93h-1.15zM341.44 56.93h1.15v8.93h-1.15zM343.74 56.93h1.15v8.93h-1.15zM347.19 56.93h3.45v8.93h-3.45zM351.8 56.93h2.3v8.93h-2.3zM355.25 56.93h1.15v8.93h-1.15zM358.7 56.93h1.15v8.93h-1.15zM365.6 56.93h4.6v8.93h-4.6zM375.96 56.93h1.15v8.93h-1.15zM378.26 56.93h2.3v8.93h-2.3zM382.87 56.93h1.15v8.93h-1.15zM387.47 56.93h2.3v8.93h-2.3zM398.98 56.93h1.15v8.93h-1.15zM412.79 56.93h2.3v8.93h-2.3zM424.29 56.93h1.15v8.93h-1.15zM283.9 65.86h1.15v8.93h-1.15zM286.2 65.86h2.3v8.93h-2.3zM290.8 65.86h8.06v8.93h-8.06zM303.46 65.86h1.15v8.93h-1.15zM305.76 65.86h3.45v8.93h-3.45zM310.37 65.86h3.45v8.93h-3.45zM316.12 65.86h2.3v8.93h-2.3zM320.72 65.86h2.3v8.93h-2.3zM324.18 65.86h3.45v8.93h-3.45zM328.78 65.86h1.15v8.93h-1.15zM331.08 65.86h2.3v8.93h-2.3zM334.53 65.86h2.3v8.93h-2.3zM337.99 65.86h3.45v8.93h-3.45zM342.59 65.86h1.15v8.93h-1.15zM344.89 65.86h1.15v8.93h-1.15zM348.34 65.86h6.9v8.93h-6.9zM358.7 65.86h1.15v8.93h-1.15zM365.6 65.86h1.15v8.93h-1.15zM367.91 65.86h1.15v8.93h-1.15zM373.66 65.86h2.3v8.93h-2.3zM378.26 65.86h1.15v8.93h-1.15zM380.56 65.86h1.15v8.93h-1.15zM382.87 65.86h1.15v8.93h-1.15zM385.17 65.86h1.15v8.93h-1.15zM388.62 65.86h1.15v8.93h-1.15zM397.83 65.86h2.3v8.93h-2.3zM412.79 65.86h1.15v8.93h-1.15zM424.29 65.86h1.15v8.93h-1.15zM426.6 65.86h1.15v8.93h-1.15zM283.9 74.8h1.15v8.93h-1.15zM294.26 74.8h1.15v8.93h-1.15zM297.71 74.8h2.3v8.93h-2.3zM302.31 74.8h1.15v8.93h-1.15zM306.92 74.8h1.15v8.93h-1.15zM311.52 74.8h1.15v8.93h-1.15zM313.82 74.8h1.15v8.93h-1.15zM319.57 74.8h1.15v8.93h-1.15zM323.03 74.8h1.15v8.93h-1.15zM327.63 74.8h2.3v8.93h-2.3zM336.84 74.8h3.45v8.93h-3.45zM344.89 74.8h2.3v8.93h-2.3zM354.1 74.8h1.15v8.93h-1.15zM362.15 74.8h2.3v8.93h-2.3zM369.06 74.8h1.15v8.93h-1.15zM372.51 74.8h1.15v8.93h-1.15zM374.81 74.8h1.15v8.93h-1.15zM377.11 74.8h1.15v8.93h-1.15zM388.62 74.8h2.3v8.93h-2.3zM392.07 74.8h5.75v8.93h-5.75zM398.98 74.8h2.3v8.93h-2.3zM404.73 74.8h1.15v8.93h-1.15zM407.03 74.8h1.15v8.93h-1.15zM409.33 74.8h1.15v8.93h-1.15zM411.64 74.8h4.6v8.93h-4.6zM417.39 74.8h2.3v8.93h-2.3zM420.84 74.8h1.15v8.93h-1.15zM423.14 74.8h1.15v8.93h-1.15zM431.2 74.8h2.3v8.93h-2.3zM285.05 83.73h2.3v8.93h-2.3zM289.65 83.73h1.15v8.93h-1.15zM293.11 83.73h1.15v8.93h-1.15zM298.86 83.73h1.15v8.93h-1.15zM306.92 83.73h1.15v8.93h-1.15zM319.57 83.73h1.15v8.93h-1.15zM324.18 83.73h1.15v8.93h-1.15zM331.08 83.73h1.15v8.93h-1.15zM339.14 83.73h3.45v8.93h-3.45zM343.74 83.73h1.15v8.93h-1.15zM346.04 83.73h1.15v8.93h-1.15zM361 83.73h1.15v8.93h-1.15zM372.51 83.73h1.15v8.93h-1.15zM374.81 83.73h1.15v8.93h-1.15zM377.11 83.73h1.15v8.93h-1.15zM380.56 83.73h1.15v8.93h-1.15zM386.32 83.73h1.15v8.93h-1.15zM388.62 83.73h4.6v8.93h-4.6zM394.37 83.73h6.9v8.93h-6.9zM402.43 83.73h1.15v8.93h-1.15zM405.88 83.73h1.15v8.93h-1.15zM408.18 83.73h14.96v8.93h-14.96zM425.44 83.73h8.06v8.93h-8.06zM286.2 92.66h1.15v8.93h-1.15zM288.5 92.66h1.15v8.93h-1.15zM291.96 92.66h1.15v8.93h-1.15zM294.26 92.66h1.15v8.93h-1.15zM301.16 92.66h2.3v8.93h-2.3zM304.61 92.66h1.15v8.93h-1.15zM313.82 92.66h2.3v8.93h-2.3zM319.57 92.66h4.6v8.93h-4.6zM326.48 92.66h3.45v8.93h-3.45zM331.08 92.66h1.15v8.93h-1.15zM336.84 92.66h2.3v8.93h-2.3zM341.44 92.66h6.9v8.93h-6.9zM354.1 92.66h1.15v8.93h-1.15zM356.4 92.66h2.3v8.93h-2.3zM359.85 92.66h4.6v8.93h-4.6zM369.06 92.66h1.15v8.93h-1.15zM372.51 92.66h2.3v8.93h-2.3zM377.11 92.66h1.15v8.93h-1.15zM380.56 92.66h2.3v8.93h-2.3zM384.02 92.66h1.15v8.93h-1.15zM386.32 92.66h1.15v8.93h-1.15zM388.62 92.66h4.6v8.93h-4.6zM394.37 92.66h1.15v8.93h-1.15zM396.68 92.66h2.3v8.93h-2.3zM400.13 92.66h1.15v8.93h-1.15zM402.43 92.66h1.15v8.93h-1.15zM404.73 92.66h2.3v8.93h-2.3zM408.18 92.66h8.06v8.93h-8.06zM418.54 92.66h2.3v8.93h-2.3zM421.99 92.66h4.6v8.93h-4.6zM428.9 92.66h3.45v8.93h-3.45zM289.65 101.59h1.15v8.93h-1.15zM296.56 101.59h1.15v8.93h-1.15zM302.31 101.59h1.15v8.93h-1.15zM304.61 101.59h1.15v8.93h-1.15zM319.57 101.59h2.3v8.93h-2.3zM328.78 101.59h1.15v8.93h-1.15zM348.34 101.59h1.15v8.93h-1.15zM377.11 101.59h1.15v8.93h-1.15zM388.62 101.59h4.6v8.93h-4.6zM396.68 101.59h2.3v8.93h-2.3zM400.13 101.59h3.45v8.93h-3.45zM405.88 101.59h1.15v8.93h-1.15zM409.33 101.59h3.45v8.93h-3.45zM413.94 101.59h2.3v8.93h-2.3zM417.39 101.59h1.15v8.93h-1.15zM420.84 101.59h1.15v8.93h-1.15zM425.44 101.59h1.15v8.93h-1.15zM428.9 101.59h4.6v8.93h-4.6zM283.9 110.52h1.15v8.93h-1.15zM288.5 110.52h1.15v8.93h-1.15zM291.96 110.52h1.15v8.93h-1.15zM300.01 110.52h1.15v8.93h-1.15zM302.31 110.52h1.15v8.93h-1.15zM304.61 110.52h1.15v8.93h-1.15zM313.82 110.52h2.3v8.93h-2.3zM318.42 110.52h4.6v8.93h-4.6zM327.63 110.52h2.3v8.93h-2.3zM333.38 110.52h1.15v8.93h-1.15zM336.84 110.52h1.15v8.93h-1.15zM339.14 110.52h1.15v8.93h-1.15zM341.44 110.52h1.15v8.93h-1.15zM343.74 110.52h1.15v8.93h-1.15zM354.1 110.52h1.15v8.93h-1.15zM357.55 110.52h1.15v8.93h-1.15zM359.85 110.52h2.3v8.93h-2.3zM363.3 110.52h1.15v8.93h-1.15zM374.81 110.52h1.15v8.93h-1.15zM377.11 110.52h1.15v8.93h-1.15zM388.62 110.52h2.3v8.93h-2.3zM392.07 110.52h3.45v8.93h-3.45zM396.68 110.52h4.6v8.93h-4.6zM402.43 110.52h1.15v8.93h-1.15zM404.73 110.52h1.15v8.93h-1.15zM408.18 110.52h2.3v8.93h-2.3zM411.64 110.52h1.15v8.93h-1.15zM413.94 110.52h2.3v8.93h-2.3zM417.39 110.52h6.9v8.93h-6.9zM425.44 110.52h1.15v8.93h-1.15zM427.75 110.52h5.75v8.93h-5.75zM283.9 119.46h3.45v8.93h-3.45zM288.5 119.46h2.3v8.93h-2.3zM295.41 119.46h1.15v8.93h-1.15zM300.01 119.46h1.15v8.93h-1.15zM306.92 119.46h1.15v8.93h-1.15zM309.22 119.46h1.15v8.93h-1.15zM313.82 119.46h1.15v8.93h-1.15zM316.12 119.46h1.15v8.93h-1.15zM320.72 119.46h1.15v8.93h-1.15zM327.63 119.46h2.3v8.93h-2.3zM331.08 119.46h1.15v8.93h-1.15zM346.04 119.46h1.15v8.93h-1.15zM356.4 119.46h1.15v8.93h-1.15zM361 119.46h3.45v8.93h-3.45zM370.21 119.46h1.15v8.93h-1.15zM377.11 119.46h1.15v8.93h-1.15zM384.02 119.46h1.15v8.93h-1.15zM388.62 119.46h1.15v8.93h-1.15zM392.07 119.46h1.15v8.93h-1.15zM394.37 119.46h2.3v8.93h-2.3zM397.83 119.46h3.45v8.93h-3.45zM402.43 119.46h1.15v8.93h-1.15zM404.73 119.46h2.3v8.93h-2.3zM408.18 119.46h8.06v8.93h-8.06zM417.39 119.46h3.45v8.93h-3.45zM421.99 119.46h3.45v8.93h-3.45zM428.9 119.46h3.45v8.93h-3.45zM287.35 128.39h3.45v8.93h-3.45zM295.41 128.39h1.15v8.93h-1.15zM302.31 128.39h1.15v8.93h-1.15zM304.61 128.39h1.15v8.93h-1.15zM310.37 128.39h1.15v8.93h-1.15zM313.82 128.39h1.15v8.93h-1.15zM319.57 128.39h1.15v8.93h-1.15zM327.63 128.39h2.3v8.93h-2.3zM331.08 128.39h1.15v8.93h-1.15zM337.99 128.39h1.15v8.93h-1.15zM347.19 128.39h1.15v8.93h-1.15zM362.15 128.39h2.3v8.93h-2.3zM374.81 128.39h1.15v8.93h-1.15zM377.11 128.39h1.15v8.93h-1.15zM381.72 128.39h1.15v8.93h-1.15zM385.17 128.39h2.3v8.93h-2.3zM388.62 128.39h2.3v8.93h-2.3zM392.07 128.39h2.3v8.93h-2.3zM396.68 128.39h1.15v8.93h-1.15zM400.13 128.39h1.15v8.93h-1.15zM402.43 128.39h1.15v8.93h-1.15zM404.73 128.39h2.3v8.93h-2.3zM408.18 128.39h4.6v8.93h-4.6zM413.94 128.39h3.45v8.93h-3.45zM418.54 128.39h5.75v8.93h-5.75zM426.6 128.39h3.45v8.93h-3.45zM431.2 128.39h2.3v8.93h-2.3zM283.9 137.32h1.15v8.93h-1.15zM288.5 137.32h2.3v8.93h-2.3zM291.96 137.32h1.15v8.93h-1.15zM294.26 137.32h2.3v8.93h-2.3zM297.71 137.32h1.15v8.93h-1.15zM300.01 137.32h1.15v8.93h-1.15zM304.61 137.32h1.15v8.93h-1.15zM309.22 137.32h2.3v8.93h-2.3zM313.82 137.32h1.15v8.93h-1.15zM316.12 137.32h1.15v8.93h-1.15zM318.42 137.32h4.6v8.93h-4.6zM327.63 137.32h1.15v8.93h-1.15zM331.08 137.32h1.15v8.93h-1.15zM342.59 137.32h1.15v8.93h-1.15zM346.04 137.32h1.15v8.93h-1.15zM348.34 137.32h3.45v8.93h-3.45zM354.1 137.32h2.3v8.93h-2.3zM361 137.32h2.3v8.93h-2.3zM366.76 137.32h1.15v8.93h-1.15zM369.06 137.32h1.15v8.93h-1.15zM371.36 137.32h2.3v8.93h-2.3zM374.81 137.32h1.15v8.93h-1.15zM380.56 137.32h2.3v8.93h-2.3zM384.02 137.32h1.15v8.93h-1.15zM388.62 137.32h4.6v8.93h-4.6zM394.37 137.32h3.45v8.93h-3.45zM398.98 137.32h2.3v8.93h-2.3zM402.43 137.32h1.15v8.93h-1.15zM404.73 137.32h1.15v8.93h-1.15zM409.33 137.32h3.45v8.93h-3.45zM413.94 137.32h2.3v8.93h-2.3zM417.39 137.32h6.9v8.93h-6.9zM425.44 137.32h1.15v8.93h-1.15zM427.75 137.32h5.75v8.93h-5.75zM286.2 146.25h1.15v8.93h-1.15zM294.26 146.25h1.15v8.93h-1.15zM302.31 146.25h1.15v8.93h-1.15zM305.76 146.25h1.15v8.93h-1.15zM313.82 146.25h1.15v8.93h-1.15zM318.42 146.25h2.3v8.93h-2.3zM327.63 146.25h2.3v8.93h-2.3zM331.08 146.25h1.15v8.93h-1.15zM333.38 146.25h1.15v8.93h-1.15zM337.99 146.25h2.3v8.93h-2.3zM346.04 146.25h2.3v8.93h-2.3zM351.8 146.25h1.15v8.93h-1.15zM361 146.25h1.15v8.93h-1.15zM367.91 146.25h2.3v8.93h-2.3zM372.51 146.25h1.15v8.93h-1.15zM388.62 146.25h4.6v8.93h-4.6zM394.37 146.25h1.15v8.93h-1.15zM396.68 146.25h1.15v8.93h-1.15zM398.98 146.25h2.3v8.93h-2.3zM402.43 146.25h1.15v8.93h-1.15zM405.88 146.25h1.15v8.93h-1.15zM410.48 146.25h2.3v8.93h-2.3zM413.94 146.25h2.3v8.93h-2.3zM417.39 146.25h1.15v8.93h-1.15zM419.69 146.25h3.45v8.93h-3.45zM424.29 146.25h1.15v8.93h-1.15zM428.9 146.25h4.6v8.93h-4.6zM283.9 155.18h1.15v8.93h-1.15zM286.2 155.18h4.6v8.93h-4.6zM298.86 155.18h1.15v8.93h-1.15zM302.31 155.18h3.45v8.93h-3.45zM306.92 155.18h1.15v8.93h-1.15zM313.82 155.18h2.3v8.93h-2.3zM319.57 155.18h1.15v8.93h-1.15zM324.18 155.18h1.15v8.93h-1.15zM326.48 155.18h3.45v8.93h-3.45zM331.08 155.18h1.15v8.93h-1.15zM333.38 155.18h1.15v8.93h-1.15zM336.84 155.18h1.15v8.93h-1.15zM350.64 155.18h1.15v8.93h-1.15zM359.85 155.18h1.15v8.93h-1.15zM362.15 155.18h1.15v8.93h-1.15zM369.06 155.18h1.15v8.93h-1.15zM372.51 155.18h1.15v8.93h-1.15zM374.81 155.18h1.15v8.93h-1.15zM378.26 155.18h1.15v8.93h-1.15zM386.32 155.18h1.15v8.93h-1.15zM388.62 155.18h1.15v8.93h-1.15zM390.92 155.18h2.3v8.93h-2.3zM394.37 155.18h1.15v8.93h-1.15zM396.68 155.18h2.3v8.93h-2.3zM402.43 155.18h1.15v8.93h-1.15zM404.73 155.18h2.3v8.93h-2.3zM409.33 155.18h2.3v8.93h-2.3zM412.79 155.18h3.45v8.93h-3.45zM417.39 155.18h1.15v8.93h-1.15zM419.69 155.18h5.75v8.93h-5.75zM428.9 155.18h4.6v8.93h-4.6zM283.9 164.12h1.15v8.93h-1.15zM287.35 164.12h3.45v8.93h-3.45zM293.11 164.12h2.3v8.93h-2.3zM297.71 164.12h3.45v8.93h-3.45zM302.31 164.12h1.15v8.93h-1.15zM304.61 164.12h1.15v8.93h-1.15zM306.92 164.12h1.15v8.93h-1.15zM309.22 164.12h1.15v8.93h-1.15zM313.82 164.12h2.3v8.93h-2.3zM318.42 164.12h2.3v8.93h-2.3zM321.88 164.12h3.45v8.93h-3.45zM326.48 164.12h3.45v8.93h-3.45zM331.08 164.12h1.15v8.93h-1.15zM333.38 164.12h1.15v8.93h-1.15zM336.84 164.12h2.3v8.93h-2.3zM343.74 164.12h5.75v8.93h-5.75zM350.64 164.12h1.15v8.93h-1.15zM357.55 164.12h1.15v8.93h-1.15zM359.85 164.12h6.9v8.93h-6.9zM369.06 164.12h4.6v8.93h-4.6zM375.96 164.12h1.15v8.93h-1.15zM384.02 164.12h2.3v8.93h-2.3zM387.47 164.12h1.15v8.93h-1.15zM389.77 164.12h4.6v8.93h-4.6zM396.68 164.12h2.3v8.93h-2.3zM402.43 164.12h1.15v8.93h-1.15zM404.73 164.12h2.3v8.93h-2.3zM408.18 164.12h2.3v8.93h-2.3zM411.64 164.12h17.26v8.93h-17.26zM430.05 164.12h1.15v8.93h-1.15zM287.35 173.05h1.15v8.93h-1.15zM296.56 173.05h1.15v8.93h-1.15zM300.01 173.05h1.15v8.93h-1.15zM309.22 173.05h1.15v8.93h-1.15zM313.82 173.05h1.15v8.93h-1.15zM323.03 173.05h1.15v8.93h-1.15zM327.63 173.05h1.15v8.93h-1.15zM337.99 173.05h2.3v8.93h-2.3zM346.04 173.05h1.15v8.93h-1.15zM361 173.05h1.15v8.93h-1.15zM363.3 173.05h1.15v8.93h-1.15zM372.51 173.05h1.15v8.93h-1.15zM386.32 173.05h1.15v8.93h-1.15zM388.62 173.05h4.6v8.93h-4.6zM394.37 173.05h1.15v8.93h-1.15zM396.68 173.05h2.3v8.93h-2.3zM400.13 173.05h3.45v8.93h-3.45zM404.73 173.05h6.9v8.93h-6.9zM413.94 173.05h2.3v8.93h-2.3zM417.39 173.05h6.9v8.93h-6.9zM425.44 173.05h1.15v8.93h-1.15zM427.75 173.05h5.75v8.93h-5.75zM289.65 181.98h1.15v8.93h-1.15zM300.01 181.98h1.15v8.93h-1.15zM308.07 181.98h2.3v8.93h-2.3zM319.57 181.98h1.15v8.93h-1.15zM323.03 181.98h1.15v8.93h-1.15zM328.78 181.98h1.15v8.93h-1.15zM331.08 181.98h1.15v8.93h-1.15zM336.84 181.98h3.45v8.93h-3.45zM342.59 181.98h1.15v8.93h-1.15zM346.04 181.98h1.15v8.93h-1.15zM354.1 181.98h1.15v8.93h-1.15zM362.15 181.98h2.3v8.93h-2.3zM366.76 181.98h1.15v8.93h-1.15zM384.02 181.98h1.15v8.93h-1.15zM388.62 181.98h2.3v8.93h-2.3zM392.07 181.98h1.15v8.93h-1.15zM394.37 181.98h1.15v8.93h-1.15zM396.68 181.98h1.15v8.93h-1.15zM400.13 181.98h1.15v8.93h-1.15zM404.73 181.98h1.15v8.93h-1.15zM409.33 181.98h2.3v8.93h-2.3zM412.79 181.98h1.15v8.93h-1.15zM415.09 181.98h6.9v8.93h-6.9zM423.14 181.98h1.15v8.93h-1.15zM425.44 181.98h1.15v8.93h-1.15zM428.9 181.98h4.6v8.93h-4.6zM283.9 190.91h1.15v8.93h-1.15zM288.5 190.91h1.15v8.93h-1.15zM293.11 190.91h1.15v8.93h-1.15zM298.86 190.91h2.3v8.93h-2.3zM302.31 190.91h1.15v8.93h-1.15zM305.76 190.91h1.15v8.93h-1.15zM308.07 190.91h1.15v8.93h-1.15zM311.52 190.91h1.15v8.93h-1.15zM313.82 190.91h1.15v8.93h-1.15zM319.57 190.91h2.3v8.93h-2.3zM328.78 190.91h1.15v8.93h-1.15zM333.38 190.91h1.15v8.93h-1.15zM336.84 190.91h2.3v8.93h-2.3zM341.44 190.91h1.15v8.93h-1.15zM343.74 190.91h3.45v8.93h-3.45zM359.85 190.91h2.3v8.93h-2.3zM374.81 190.91h1.15v8.93h-1.15zM385.17 190.91h2.3v8.93h-2.3zM389.77 190.91h1.15v8.93h-1.15zM392.07 190.91h1.15v8.93h-1.15zM394.37 190.91h1.15v8.93h-1.15zM396.68 190.91h1.15v8.93h-1.15zM400.13 190.91h1.15v8.93h-1.15zM402.43 190.91h1.15v8.93h-1.15zM404.73 190.91h2.3v8.93h-2.3zM408.18 190.91h10.36v8.93h-10.36zM420.84 190.91h5.75v8.93h-5.75zM428.9 190.91h1.15v8.93h-1.15zM431.2 190.91h1.15v8.93h-1.15zM288.5 199.84h1.15v8.93h-1.15zM295.41 199.84h2.3v8.93h-2.3zM300.01 199.84h3.45v8.93h-3.45zM304.61 199.84h1.15v8.93h-1.15zM309.22 199.84h1.15v8.93h-1.15zM313.82 199.84h1.15v8.93h-1.15zM319.57 199.84h1.15v8.93h-1.15zM327.63 199.84h2.3v8.93h-2.3zM346.04 199.84h1.15v8.93h-1.15zM356.4 199.84h1.15v8.93h-1.15zM361 199.84h1.15v8.93h-1.15zM363.3 199.84h1.15v8.93h-1.15zM366.76 199.84h1.15v8.93h-1.15zM374.81 199.84h1.15v8.93h-1.15zM386.32 199.84h1.15v8.93h-1.15zM388.62 199.84h4.6v8.93h-4.6zM394.37 199.84h1.15v8.93h-1.15zM397.83 199.84h1.15v8.93h-1.15zM400.13 199.84h1.15v8.93h-1.15zM405.88 199.84h1.15v8.93h-1.15zM409.33 199.84h1.15v8.93h-1.15zM411.64 199.84h1.15v8.93h-1.15zM413.94 199.84h1.15v8.93h-1.15zM417.39 199.84h1.15v8.93h-1.15zM419.69 199.84h1.15v8.93h-1.15zM421.99 199.84h2.3v8.93h-2.3zM425.44 199.84h1.15v8.93h-1.15zM428.9 199.84h4.6v8.93h-4.6zM283.9 208.78h2.3v8.93h-2.3zM304.61 208.78h1.15v8.93h-1.15zM309.22 208.78h2.3v8.93h-2.3zM313.82 208.78h1.15v8.93h-1.15zM319.57 208.78h1.15v8.93h-1.15zM323.03 208.78h1.15v8.93h-1.15zM328.78 208.78h1.15v8.93h-1.15zM331.08 208.78h1.15v8.93h-1.15zM336.84 208.78h1.15v8.93h-1.15zM346.04 208.78h1.15v8.93h-1.15zM354.1 208.78h1.15v8.93h-1.15zM361 208.78h1.15v8.93h-1.15zM363.3 208.78h1.15v8.93h-1.15zM380.56 208.78h1.15v8.93h-1.15zM388.62 208.78h4.6v8.93h-4.6zM394.37 208.78h1.15v8.93h-1.15zM396.68 208.78h1.15v8.93h-1.15zM398.98 208.78h1.15v8.93h-1.15zM401.28 208.78h2.3v8.93h-2.3zM405.88 208.78h1.15v8.93h-1.15zM409.33 208.78h2.3v8.93h-2.3zM413.94 208.78h2.3v8.93h-2.3zM417.39 208.78h5.75v8.93h-5.75zM424.29 208.78h1.15v8.93h-1.15zM427.75 208.78h5.75v8.93h-5.75zM283.9 217.71h1.15v8.93h-1.15zM289.65 217.71h1.15v8.93h-1.15zM293.11 217.71h5.75v8.93h-5.75zM300.01 217.71h3.45v8.93h-3.45zM304.61 217.71h1.15v8.93h-1.15zM308.07 217.71h1.15v8.93h-1.15zM313.82 217.71h2.3v8.93h-2.3zM318.42 217.71h2.3v8.93h-2.3zM323.03 217.71h1.15v8.93h-1.15zM326.48 217.71h3.45v8.93h-3.45zM331.08 217.71h1.15v8.93h-1.15zM335.68 217.71h1.15v8.93h-1.15zM341.44 217.71h1.15v8.93h-1.15zM343.74 217.71h1.15v8.93h-1.15zM346.04 217.71h1.15v8.93h-1.15zM348.34 217.71h1.15v8.93h-1.15zM357.55 217.71h1.15v8.93h-1.15zM361 217.71h2.3v8.93h-2.3zM364.45 217.71h1.15v8.93h-1.15zM369.06 217.71h1.15v8.93h-1.15zM372.51 217.71h3.45v8.93h-3.45zM377.11 217.71h1.15v8.93h-1.15zM384.02 217.71h1.15v8.93h-1.15zM386.32 217.71h2.3v8.93h-2.3zM389.77 217.71h5.75v8.93h-5.75zM396.68 217.71h2.3v8.93h-2.3zM400.13 217.71h1.15v8.93h-1.15zM402.43 217.71h1.15v8.93h-1.15zM404.73 217.71h2.3v8.93h-2.3zM408.18 217.71h2.3v8.93h-2.3zM411.64 217.71h1.15v8.93h-1.15zM413.94 217.71h1.15v8.93h-1.15zM416.24 217.71h10.36v8.93h-10.36zM430.05 217.71h3.45v8.93h-3.45zM286.2 226.64h1.15v8.93h-1.15zM294.26 226.64h1.15v8.93h-1.15zM296.56 226.64h2.3v8.93h-2.3zM300.01 226.64h1.15v8.93h-1.15zM302.31 226.64h1.15v8.93h-1.15zM309.22 226.64h1.15v8.93h-1.15zM313.82 226.64h1.15v8.93h-1.15zM318.42 226.64h2.3v8.93h-2.3zM321.88 226.64h3.45v8.93h-3.45zM327.63 226.64h2.3v8.93h-2.3zM331.08 226.64h1.15v8.93h-1.15zM337.99 226.64h1.15v8.93h-1.15zM341.44 226.64h1.15v8.93h-1.15zM344.89 226.64h3.45v8.93h-3.45zM350.64 226.64h1.15v8.93h-1.15zM354.1 226.64h1.15v8.93h-1.15zM359.85 226.64h2.3v8.93h-2.3zM377.11 226.64h1.15v8.93h-1.15zM384.02 226.64h1.15v8.93h-1.15zM386.32 226.64h1.15v8.93h-1.15zM388.62 226.64h1.15v8.93h-1.15zM390.92 226.64h4.6v8.93h-4.6zM396.68 226.64h2.3v8.93h-2.3zM400.13 226.64h1.15v8.93h-1.15zM404.73 226.64h2.3v8.93h-2.3zM408.18 226.64h2.3v8.93h-2.3zM411.64 226.64h1.15v8.93h-1.15zM413.94 226.64h3.45v8.93h-3.45zM419.69 226.64h1.15v8.93h-1.15zM421.99 226.64h2.3v8.93h-2.3zM425.44 226.64h4.6v8.93h-4.6zM431.2 226.64h2.3v8.93h-2.3zM283.9 235.57h1.15v8.93h-1.15zM288.5 235.57h2.3v8.93h-2.3zM296.56 235.57h2.3v8.93h-2.3zM300.01 235.57h1.15v8.93h-1.15zM302.31 235.57h1.15v8.93h-1.15zM305.76 235.57h1.15v8.93h-1.15zM313.82 235.57h1.15v8.93h-1.15zM319.57 235.57h1.15v8.93h-1.15zM326.48 235.57h3.45v8.93h-3.45zM331.08 235.57h1.15v8.93h-1.15zM337.99 235.57h1.15v8.93h-1.15zM342.59 235.57h1.15v8.93h-1.15zM357.55 235.57h1.15v8.93h-1.15zM359.85 235.57h3.45v8.93h-3.45zM373.66 235.57h1.15v8.93h-1.15zM377.11 235.57h1.15v8.93h-1.15zM381.72 235.57h1.15v8.93h-1.15zM385.17 235.57h2.3v8.93h-2.3zM388.62 235.57h3.45v8.93h-3.45zM394.37 235.57h2.3v8.93h-2.3zM397.83 235.57h3.45v8.93h-3.45zM402.43 235.57h1.15v8.93h-1.15zM404.73 235.57h1.15v8.93h-1.15zM408.18 235.57h2.3v8.93h-2.3zM411.64 235.57h1.15v8.93h-1.15zM413.94 235.57h1.15v8.93h-1.15zM416.24 235.57h2.3v8.93h-2.3zM419.69 235.57h6.9v8.93h-6.9zM428.9 235.57h4.6v8.93h-4.6zM286.2 244.5h3.45v8.93h-3.45zM294.26 244.5h1.15v8.93h-1.15zM296.56 244.5h1.15v8.93h-1.15zM298.86 244.5h2.3v8.93h-2.3zM302.31 244.5h1.15v8.93h-1.15zM304.61 244.5h1.15v8.93h-1.15zM309.22 244.5h1.15v8.93h-1.15zM313.82 244.5h1.15v8.93h-1.15zM317.27 244.5h4.6v8.93h-4.6zM323.03 244.5h1.15v8.93h-1.15zM326.48 244.5h3.45v8.93h-3.45zM336.84 244.5h3.45v8.93h-3.45zM346.04 244.5h3.45v8.93h-3.45zM352.95 244.5h1.15v8.93h-1.15zM355.25 244.5h2.3v8.93h-2.3zM361 244.5h3.45v8.93h-3.45zM369.06 244.5h1.15v8.93h-1.15zM372.51 244.5h1.15v8.93h-1.15zM377.11 244.5h1.15v8.93h-1.15zM381.72 244.5h1.15v8.93h-1.15zM385.17 244.5h9.21v8.93h-9.21zM395.52 244.5h5.75v8.93h-5.75zM402.43 244.5h1.15v8.93h-1.15zM404.73 244.5h2.3v8.93h-2.3zM408.18 244.5h1.15v8.93h-1.15zM410.48 244.5h6.9v8.93h-6.9zM418.54 244.5h4.6v8.93h-4.6zM424.29 244.5h1.15v8.93h-1.15zM427.75 244.5h2.3v8.93h-2.3zM431.2 244.5h2.3v8.93h-2.3zM285.05 253.44h1.15v8.93h-1.15zM289.65 253.44h1.15v8.93h-1.15zM298.86 253.44h2.3v8.93h-2.3zM302.31 253.44h1.15v8.93h-1.15zM304.61 253.44h1.15v8.93h-1.15zM309.22 253.44h2.3v8.93h-2.3zM317.27 253.44h1.15v8.93h-1.15zM319.57 253.44h3.45v8.93h-3.45zM324.18 253.44h1.15v8.93h-1.15zM327.63 253.44h1.15v8.93h-1.15zM337.99 253.44h1.15v8.93h-1.15zM346.04 253.44h1.15v8.93h-1.15zM361 253.44h1.15v8.93h-1.15zM363.3 253.44h1.15v8.93h-1.15zM380.56 253.44h2.3v8.93h-2.3zM386.32 253.44h1.15v8.93h-1.15zM388.62 253.44h6.9v8.93h-6.9zM396.68 253.44h2.3v8.93h-2.3zM400.13 253.44h1.15v8.93h-1.15zM402.43 253.44h1.15v8.93h-1.15zM404.73 253.44h2.3v8.93h-2.3zM408.18 253.44h2.3v8.93h-2.3zM413.94 253.44h2.3v8.93h-2.3zM417.39 253.44h8.06v8.93h-8.06zM426.6 253.44h6.9v8.93h-6.9zM289.65 262.37h1.15v8.93h-1.15zM297.71 262.37h1.15v8.93h-1.15zM300.01 262.37h1.15v8.93h-1.15zM304.61 262.37h2.3v8.93h-2.3zM313.82 262.37h2.3v8.93h-2.3zM318.42 262.37h2.3v8.93h-2.3zM323.03 262.37h2.3v8.93h-2.3zM328.78 262.37h1.15v8.93h-1.15zM333.38 262.37h1.15v8.93h-1.15zM335.68 262.37h2.3v8.93h-2.3zM346.04 262.37h1.15v8.93h-1.15zM349.49 262.37h1.15v8.93h-1.15zM357.55 262.37h1.15v8.93h-1.15zM359.85 262.37h2.3v8.93h-2.3zM369.06 262.37h1.15v8.93h-1.15zM372.51 262.37h1.15v8.93h-1.15zM377.11 262.37h1.15v8.93h-1.15zM386.32 262.37h1.15v8.93h-1.15zM389.77 262.37h3.45v8.93h-3.45zM394.37 262.37h1.15v8.93h-1.15zM397.83 262.37h2.3v8.93h-2.3zM401.28 262.37h2.3v8.93h-2.3zM405.88 262.37h1.15v8.93h-1.15zM408.18 262.37h4.6v8.93h-4.6zM413.94 262.37h5.75v8.93h-5.75zM420.84 262.37h1.15v8.93h-1.15zM423.14 262.37h1.15v8.93h-1.15zM425.44 262.37h1.15v8.93h-1.15zM430.05 262.37h3.45v8.93h-3.45z"/>
<path fill="#78b8de" d="M285.05 48h1.15v8.93h-1.15zM303.46 48h1.15v8.93h-1.15zM312.67 48h1.15v8.93h-1.15zM325.33 48h1.15v8.93h-1.15zM329.93 48h1.15v8.93h-1.15zM303.46 56.93h1.15v8.93h-1.15zM329.93 56.93h1.15v8.93h-1.15zM332.23 56.93h1.15v8.93h-1.15zM335.68 56.93h1.15v8.93h-1.15zM340.29 56.93h1.15v8.93h-1.15zM301.16 65.86h1.15v8.93h-1.15zM329.93 65.86h1.15v8.93h-1.15zM401.28 74.8h1.15v8.93h-1.15zM403.58 74.8h1.15v8.93h-1.15zM405.88 74.8h1.15v8.93h-1.15zM410.48 74.8h1.15v8.93h-1.15zM428.9 74.8h1.15v8.93h-1.15zM337.99 83.73h1.15v8.93h-1.15zM359.85 83.73h1.15v8.93h-1.15zM401.28 83.73h1.15v8.93h-1.15zM403.58 83.73h1.15v8.93h-1.15zM407.03 83.73h1.15v8.93h-1.15zM401.28 92.66h1.15v8.93h-1.15zM403.58 92.66h1.15v8.93h-1.15zM407.03 92.66h1.15v8.93h-1.15zM420.84 92.66h1.15v8.93h-1.15zM432.35 92.66h1.15v8.93h-1.15zM403.58 101.59h1.15v8.93h-1.15zM407.03 101.59h1.15v8.93h-1.15zM401.28 110.52h1.15v8.93h-1.15zM403.58 110.52h1.15v8.93h-1.15zM405.88 110.52h2.3v8.93h-2.3zM410.48 110.52h1.15v8.93h-1.15zM389.77 119.46h1.15v8.93h-1.15zM401.28 119.46h1.15v8.93h-1.15zM407.03 119.46h1.15v8.93h-1.15zM420.84 119.46h1.15v8.93h-1.15zM432.35 119.46h1.15v8.93h-1.15zM394.37 128.39h1.15v8.93h-1.15zM401.28 128.39h1.15v8.93h-1.15zM403.58 128.39h1.15v8.93h-1.15zM407.03 128.39h1.15v8.93h-1.15zM417.39 128.39h1.15v8.93h-1.15zM401.28 137.32h1.15v8.93h-1.15zM403.58 137.32h1.15v8.93h-1.15zM405.88 137.32h2.3v8.93h-2.3zM401.28 146.25h1.15v8.93h-1.15zM403.58 146.25h1.15v8.93h-1.15zM407.03 146.25h1.15v8.93h-1.15zM409.33 146.25h1.15v8.93h-1.15zM389.77 155.18h1.15v8.93h-1.15zM400.13 155.18h2.3v8.93h-2.3zM403.58 155.18h1.15v8.93h-1.15zM407.03 155.18h1.15v8.93h-1.15zM411.64 155.18h1.15v8.93h-1.15zM425.44 155.18h1.15v8.93h-1.15zM286.2 164.12h1.15v8.93h-1.15zM388.62 164.12h1.15v8.93h-1.15zM394.37 164.12h1.15v8.93h-1.15zM400.13 164.12h2.3v8.93h-2.3zM403.58 164.12h1.15v8.93h-1.15zM410.48 164.12h1.15v8.93h-1.15zM428.9 164.12h1.15v8.93h-1.15zM431.2 164.12h2.3v8.93h-2.3zM403.58 173.05h1.15v8.93h-1.15zM411.64 173.05h1.15v8.93h-1.15zM401.28 181.98h1.15v8.93h-1.15zM403.58 181.98h1.15v8.93h-1.15zM405.88 181.98h2.3v8.93h-2.3zM327.63 190.91h1.15v8.93h-1.15zM401.28 190.91h1.15v8.93h-1.15zM403.58 190.91h1.15v8.93h-1.15zM407.03 190.91h1.15v8.93h-1.15zM430.05 190.91h1.15v8.93h-1.15zM432.35 190.91h1.15v8.93h-1.15zM401.28 199.84h1.15v8.93h-1.15zM403.58 199.84h1.15v8.93h-1.15zM407.03 199.84h1.15v8.93h-1.15zM410.48 199.84h1.15v8.93h-1.15zM420.84 199.84h1.15v8.93h-1.15zM403.58 208.78h1.15v8.93h-1.15zM407.03 208.78h1.15v8.93h-1.15zM401.28 217.71h1.15v8.93h-1.15zM403.58 217.71h1.15v8.93h-1.15zM407.03 217.71h1.15v8.93h-1.15zM410.48 217.71h1.15v8.93h-1.15zM427.75 217.71h2.3v8.93h-2.3zM389.77 226.64h1.15v8.93h-1.15zM401.28 226.64h1.15v8.93h-1.15zM403.58 226.64h1.15v8.93h-1.15zM407.03 226.64h1.15v8.93h-1.15zM410.48 226.64h1.15v8.93h-1.15zM417.39 226.64h2.3v8.93h-2.3zM420.84 226.64h1.15v8.93h-1.15zM392.07 235.57h1.15v8.93h-1.15zM401.28 235.57h1.15v8.93h-1.15zM403.58 235.57h1.15v8.93h-1.15zM405.88 235.57h2.3v8.93h-2.3zM410.48 235.57h1.15v8.93h-1.15zM415.09 235.57h1.15v8.93h-1.15zM394.37 244.5h1.15v8.93h-1.15zM401.28 244.5h1.15v8.93h-1.15zM403.58 244.5h1.15v8.93h-1.15zM407.03 244.5h1.15v8.93h-1.15zM409.33 244.5h1.15v8.93h-1.15zM417.39 244.5h1.15v8.93h-1.15zM423.14 244.5h1.15v8.93h-1.15zM430.05 244.5h1.15v8.93h-1.15zM401.28 253.44h1.15v8.93h-1.15zM403.58 253.44h1.15v8.93h-1.15zM407.03 253.44h1.15v8.93h-1.15zM410.48 253.44h1.15v8.93h-1.15zM327.63 262.37h1.15v8.93h-1.15zM400.13 262.37h1.15v8.93h-1.15zM403.58 262.37h1.15v8.93h-1.15zM407.03 262.37h1.15v8.93h-1.15z"/>
<path fill="#2a78bd" d="M403.58 119.46h1.15v8.93h-1.15zM407.03 164.12h1.15v8.93h-1.15z"/>
<text x="434.9" y="54.67" font-size="6.3" fill="#444" class="g" textLength="11.51" lengthAdjust="spacingAndGlyphs">NPY</text>
<text x="434.9" y="63.6" font-size="6.3" fill="#444" class="g" textLength="19.29" lengthAdjust="spacingAndGlyphs">RERGL</text>
<text x="434.9" y="72.53" font-size="6.3" fill="#444" class="g" textLength="27.38" lengthAdjust="spacingAndGlyphs">NEUROD6</text>
<text x="434.9" y="81.46" font-size="6.3" fill="#444" class="g" textLength="15.25" lengthAdjust="spacingAndGlyphs">EMX2</text>
<text x="434.9" y="90.39" font-size="6.3" fill="#444" class="g" textLength="14.63" lengthAdjust="spacingAndGlyphs">PDK4</text>
<text x="434.9" y="99.33" font-size="6.3" fill="#444" class="g" textLength="22.72" lengthAdjust="spacingAndGlyphs">CYBRD1</text>
<text x="434.9" y="108.26" font-size="6.3" fill="#444" class="g" textLength="14.01" lengthAdjust="spacingAndGlyphs">GJA1</text>
<text x="434.9" y="117.19" font-size="6.3" fill="#444" class="g" textLength="25.2" lengthAdjust="spacingAndGlyphs">METTL7A</text>
<text x="434.9" y="126.12" font-size="6.3" fill="#444" class="g" textLength="21.17" lengthAdjust="spacingAndGlyphs">LGALS3</text>
<text x="434.9" y="135.05" font-size="6.3" fill="#444" class="g" textLength="15.24" lengthAdjust="spacingAndGlyphs">DTNA</text>
<text x="434.9" y="143.99" font-size="6.3" fill="#444" class="g" textLength="14.31" lengthAdjust="spacingAndGlyphs">FGF2</text>
<text x="434.9" y="152.92" font-size="6.3" fill="#444" class="g" textLength="13.9" lengthAdjust="spacingAndGlyphs">YAP1</text>
<text x="434.9" y="161.85" font-size="6.3" fill="#444" class="g" textLength="21.79" lengthAdjust="spacingAndGlyphs">PLSCR4</text>
<text x="434.9" y="170.78" font-size="6.3" fill="#444" class="g" textLength="23.97" lengthAdjust="spacingAndGlyphs">TP53BP2</text>
<text x="434.9" y="179.71" font-size="6.3" fill="#444" class="g" textLength="25.52" lengthAdjust="spacingAndGlyphs">ANGPTL4</text>
<text x="434.9" y="188.65" font-size="6.3" fill="#444" class="g" textLength="6.53" lengthAdjust="spacingAndGlyphs">F3</text>
<text x="434.9" y="197.58" font-size="6.3" fill="#444" class="g" textLength="19.29" lengthAdjust="spacingAndGlyphs">CEBPD</text>
<text x="434.9" y="206.51" font-size="6.3" fill="#444" class="g" textLength="14.93" lengthAdjust="spacingAndGlyphs">MT1A</text>
<text x="434.9" y="215.44" font-size="6.3" fill="#444" class="g" textLength="17.73" lengthAdjust="spacingAndGlyphs">IFITM3</text>
<text x="434.9" y="224.37" font-size="6.3" fill="#444" class="g" textLength="17.73" lengthAdjust="spacingAndGlyphs">IFITM2</text>
<text x="434.9" y="233.31" font-size="6.3" fill="#444" class="g" textLength="14.93" lengthAdjust="spacingAndGlyphs">MT1X</text>
<text x="434.9" y="242.24" font-size="6.3" fill="#444" class="g" textLength="14.93" lengthAdjust="spacingAndGlyphs">MT2A</text>
<text x="434.9" y="251.17" font-size="6.3" fill="#444" class="g" textLength="21.16" lengthAdjust="spacingAndGlyphs">IGDCC4</text>
<text x="434.9" y="260.1" font-size="6.3" fill="#444" class="g" textLength="14.94" lengthAdjust="spacingAndGlyphs">BAG3</text>
<text x="434.9" y="269.03" font-size="6.3" fill="#444" class="g" textLength="16.18" lengthAdjust="spacingAndGlyphs">DDIT4</text>
<path fill="none" stroke="#8a8a8a" stroke-width="0.7" d="M283.9 61.4H268.7V70.33H283.9M283.9 52.47H265.8V65.86H268.7M283.9 106.06H277V114.99H283.9M283.9 97.13H274.7V110.52H277M283.9 88.19H271.7V103.83H274.7M283.9 79.26H269.4V96.01H271.7M283.9 123.92H271V132.85H283.9M283.9 141.79H275.3V150.72H283.9M283.9 159.65H274V168.58H283.9M275.3 146.25H270.7V164.12H274M271 128.39H268V155.18H270.7M283.9 177.51H273V186.45H283.9M283.9 195.38H274V204.31H283.9M273 181.98H271V199.84H274M283.9 213.24H277V222.17H283.9M283.9 231.11H274.4V240.04H283.9M277 217.71H272.4V235.57H274.4M271 190.91H270V226.64H272.4M268 141.79H267.7V208.78H270M283.9 257.9H271.3V266.83H283.9M283.9 248.97H266V262.37H271.3M267.7 175.28H265V255.67H266M269.4 87.64H264.3V215.48H265M265.8 59.17H259V151.56H264.3"/>
<rect x="257" y="283.9" width="131.5" height="8.3" fill="#22cfe0"/>
<rect x="388.5" y="283.9" width="55.1" height="8.3" fill="#7cc614"/>
<rect x="257" y="293.8" width="1.49" height="8.3" fill="#faa500"/>
<rect x="258.44" y="293.8" width="1.49" height="8.3" fill="#f77ef2"/>
<rect x="259.87" y="293.8" width="1.49" height="8.3" fill="#faa500"/>
<rect x="261.31" y="293.8" width="1.49" height="8.3" fill="#f77ef2"/>
<rect x="262.74" y="293.8" width="1.49" height="8.3" fill="#faa500"/>
<rect x="264.18" y="293.8" width="1.49" height="8.3" fill="#f77ef2"/>
<rect x="265.61" y="293.8" width="1.49" height="8.3" fill="#1fd285"/>
<rect x="267.05" y="293.8" width="1.49" height="8.3" fill="#faa500"/>
<rect x="268.48" y="293.8" width="1.49" height="8.3" fill="#f77ef2"/>
<rect x="269.92" y="293.8" width="2.92" height="8.3" fill="#faa500"/>
<rect x="272.79" y="293.8" width="2.92" height="8.3" fill="#f77ef2"/>
<rect x="275.66" y="293.8" width="5.79" height="8.3" fill="#faa500"/>
<rect x="281.4" y="293.8" width="4.36" height="8.3" fill="#f77ef2"/>
<rect x="285.71" y="293.8" width="2.92" height="8.3" fill="#faa500"/>
<rect x="288.58" y="293.8" width="1.49" height="8.3" fill="#f77ef2"/>
<rect x="290.01" y="293.8" width="1.49" height="8.3" fill="#faa500"/>
<rect x="291.45" y="293.8" width="1.49" height="8.3" fill="#f77ef2"/>
<rect x="292.88" y="293.8" width="1.49" height="8.3" fill="#faa500"/>
<rect x="294.32" y="293.8" width="8.66" height="8.3" fill="#f77ef2"/>
<rect x="302.93" y="293.8" width="1.49" height="8.3" fill="#faa500"/>
<rect x="304.37" y="293.8" width="1.49" height="8.3" fill="#f77ef2"/>
<rect x="305.8" y="293.8" width="5.79" height="8.3" fill="#faa500"/>
<rect x="311.54" y="293.8" width="1.49" height="8.3" fill="#f77ef2"/>
<rect x="312.98" y="293.8" width="1.49" height="8.3" fill="#f1aaf6"/>
<rect x="314.42" y="293.8" width="1.49" height="8.3" fill="#faa500"/>
<rect x="315.85" y="293.8" width="2.92" height="8.3" fill="#f77ef2"/>
<rect x="318.72" y="293.8" width="4.36" height="8.3" fill="#faa500"/>
<rect x="323.03" y="293.8" width="1.49" height="8.3" fill="#1fd285"/>
<rect x="324.46" y="293.8" width="2.92" height="8.3" fill="#faa500"/>
<rect x="327.33" y="293.8" width="2.92" height="8.3" fill="#f77ef2"/>
<rect x="330.2" y="293.8" width="1.49" height="8.3" fill="#faa500"/>
<rect x="331.64" y="293.8" width="1.49" height="8.3" fill="#f77ef2"/>
<rect x="333.08" y="293.8" width="2.92" height="8.3" fill="#faa500"/>
<rect x="335.95" y="293.8" width="1.49" height="8.3" fill="#f77ef2"/>
<rect x="337.38" y="293.8" width="1.49" height="8.3" fill="#faa500"/>
<rect x="338.82" y="293.8" width="1.49" height="8.3" fill="#f77ef2"/>
<rect x="340.25" y="293.8" width="1.49" height="8.3" fill="#faa500"/>
<rect x="341.69" y="293.8" width="1.49" height="8.3" fill="#f77ef2"/>
<rect x="343.12" y="293.8" width="2.92" height="8.3" fill="#faa500"/>
<rect x="345.99" y="293.8" width="2.92" height="8.3" fill="#f77ef2"/>
<rect x="348.86" y="293.8" width="1.49" height="8.3" fill="#faa500"/>
<rect x="350.3" y="293.8" width="1.49" height="8.3" fill="#f77ef2"/>
<rect x="351.74" y="293.8" width="1.49" height="8.3" fill="#faa500"/>
<rect x="353.17" y="293.8" width="2.92" height="8.3" fill="#f77ef2"/>
<rect x="356.04" y="293.8" width="1.49" height="8.3" fill="#faa500"/>
<rect x="357.48" y="293.8" width="1.49" height="8.3" fill="#f77ef2"/>
<rect x="358.91" y="293.8" width="4.36" height="8.3" fill="#faa500"/>
<rect x="363.22" y="293.8" width="2.92" height="8.3" fill="#f77ef2"/>
<rect x="366.09" y="293.8" width="2.92" height="8.3" fill="#faa500"/>
<rect x="368.96" y="293.8" width="1.49" height="8.3" fill="#f77ef2"/>
<rect x="370.4" y="293.8" width="5.79" height="8.3" fill="#faa500"/>
<rect x="376.14" y="293.8" width="1.49" height="8.3" fill="#f77ef2"/>
<rect x="377.57" y="293.8" width="5.79" height="8.3" fill="#faa500"/>
<rect x="383.31" y="293.8" width="1.49" height="8.3" fill="#f1aaf6"/>
<rect x="384.75" y="293.8" width="1.49" height="8.3" fill="#f77ef2"/>
<rect x="386.18" y="293.8" width="1.49" height="8.3" fill="#f1aaf6"/>
<rect x="387.62" y="293.8" width="1.49" height="8.3" fill="#1fd285"/>
<rect x="389.06" y="293.8" width="14.4" height="8.3" fill="#faa500"/>
<rect x="403.41" y="293.8" width="2.92" height="8.3" fill="#f77ef2"/>
<rect x="406.28" y="293.8" width="2.92" height="8.3" fill="#faa500"/>
<rect x="409.15" y="293.8" width="1.49" height="8.3" fill="#1fd285"/>
<rect x="410.59" y="293.8" width="5.79" height="8.3" fill="#faa500"/>
<rect x="416.33" y="293.8" width="1.49" height="8.3" fill="#f77ef2"/>
<rect x="417.76" y="293.8" width="5.79" height="8.3" fill="#faa500"/>
<rect x="423.5" y="293.8" width="1.49" height="8.3" fill="#f77ef2"/>
<rect x="424.94" y="293.8" width="10.1" height="8.3" fill="#faa500"/>
<rect x="434.99" y="293.8" width="2.92" height="8.3" fill="#f77ef2"/>
<rect x="437.86" y="293.8" width="1.49" height="8.3" fill="#faa500"/>
<rect x="439.29" y="293.8" width="1.49" height="8.3" fill="#f77ef2"/>
<rect x="440.73" y="293.8" width="1.49" height="8.3" fill="#faa500"/>
<rect x="442.16" y="293.8" width="1.49" height="8.3" fill="#f77ef2"/>
<rect x="257" y="303.6" width="2.92" height="8.3" fill="#f7928a"/>
<rect x="259.87" y="303.6" width="4.36" height="8.3" fill="#20bdf0"/>
<rect x="264.18" y="303.6" width="4.36" height="8.3" fill="#f7928a"/>
<rect x="268.48" y="303.6" width="2.92" height="8.3" fill="#20bdf0"/>
<rect x="271.35" y="303.6" width="4.36" height="8.3" fill="#f7928a"/>
<rect x="275.66" y="303.6" width="1.49" height="8.3" fill="#20bdf0"/>
<rect x="277.1" y="303.6" width="2.92" height="8.3" fill="#f7928a"/>
<rect x="279.97" y="303.6" width="2.92" height="8.3" fill="#20bdf0"/>
<rect x="282.84" y="303.6" width="5.79" height="8.3" fill="#f7928a"/>
<rect x="288.58" y="303.6" width="1.49" height="8.3" fill="#20bdf0"/>
<rect x="290.01" y="303.6" width="7.23" height="8.3" fill="#f7928a"/>
<rect x="297.19" y="303.6" width="1.49" height="8.3" fill="#20bdf0"/>
<rect x="298.63" y="303.6" width="8.66" height="8.3" fill="#f7928a"/>
<rect x="307.24" y="303.6" width="1.49" height="8.3" fill="#20bdf0"/>
<rect x="308.67" y="303.6" width="1.49" height="8.3" fill="#f7928a"/>
<rect x="310.11" y="303.6" width="1.49" height="8.3" fill="#20bdf0"/>
<rect x="311.54" y="303.6" width="4.36" height="8.3" fill="#f7928a"/>
<rect x="315.85" y="303.6" width="1.49" height="8.3" fill="#20bdf0"/>
<rect x="317.29" y="303.6" width="7.23" height="8.3" fill="#f7928a"/>
<rect x="324.46" y="303.6" width="1.49" height="8.3" fill="#20bdf0"/>
<rect x="325.9" y="303.6" width="2.92" height="8.3" fill="#f7928a"/>
<rect x="328.77" y="303.6" width="1.49" height="8.3" fill="#20bdf0"/>
<rect x="330.2" y="303.6" width="1.49" height="8.3" fill="#f7928a"/>
<rect x="331.64" y="303.6" width="1.49" height="8.3" fill="#20bdf0"/>
<rect x="333.08" y="303.6" width="11.53" height="8.3" fill="#f7928a"/>
<rect x="344.56" y="303.6" width="2.92" height="8.3" fill="#20bdf0"/>
<rect x="347.43" y="303.6" width="5.79" height="8.3" fill="#f7928a"/>
<rect x="353.17" y="303.6" width="2.92" height="8.3" fill="#20bdf0"/>
<rect x="356.04" y="303.6" width="1.49" height="8.3" fill="#f7928a"/>
<rect x="357.48" y="303.6" width="1.49" height="8.3" fill="#20bdf0"/>
<rect x="358.91" y="303.6" width="8.66" height="8.3" fill="#f7928a"/>
<rect x="367.52" y="303.6" width="2.92" height="8.3" fill="#20bdf0"/>
<rect x="370.4" y="303.6" width="2.92" height="8.3" fill="#f7928a"/>
<rect x="373.27" y="303.6" width="1.49" height="8.3" fill="#20bdf0"/>
<rect x="374.7" y="303.6" width="7.23" height="8.3" fill="#f7928a"/>
<rect x="381.88" y="303.6" width="1.49" height="8.3" fill="#20bdf0"/>
<rect x="383.31" y="303.6" width="7.23" height="8.3" fill="#f7928a"/>
<rect x="390.49" y="303.6" width="1.49" height="8.3" fill="#20bdf0"/>
<rect x="391.93" y="303.6" width="5.79" height="8.3" fill="#f7928a"/>
<rect x="397.67" y="303.6" width="1.49" height="8.3" fill="#20bdf0"/>
<rect x="399.1" y="303.6" width="8.66" height="8.3" fill="#f7928a"/>
<rect x="407.72" y="303.6" width="1.49" height="8.3" fill="#20bdf0"/>
<rect x="409.15" y="303.6" width="1.49" height="8.3" fill="#f7928a"/>
<rect x="410.59" y="303.6" width="1.49" height="8.3" fill="#20bdf0"/>
<rect x="412.02" y="303.6" width="2.92" height="8.3" fill="#f7928a"/>
<rect x="414.89" y="303.6" width="1.49" height="8.3" fill="#20bdf0"/>
<rect x="416.33" y="303.6" width="8.66" height="8.3" fill="#f7928a"/>
<rect x="424.94" y="303.6" width="2.92" height="8.3" fill="#20bdf0"/>
<rect x="427.81" y="303.6" width="7.23" height="8.3" fill="#f7928a"/>
<rect x="434.99" y="303.6" width="4.36" height="8.3" fill="#20bdf0"/>
<rect x="439.29" y="303.6" width="2.92" height="8.3" fill="#f7928a"/>
<rect x="442.16" y="303.6" width="1.49" height="8.3" fill="#20bdf0"/>
<rect x="257" y="313.4" width="1.49" height="8.3" fill="#aebbe5"/>
<rect x="258.44" y="313.4" width="1.49" height="8.3" fill="#bbc9ea"/>
<rect x="259.87" y="313.4" width="1.49" height="8.3" fill="#bccaea"/>
<rect x="261.31" y="313.4" width="1.49" height="8.3" fill="#bac8e9"/>
<rect x="262.74" y="313.4" width="1.49" height="8.3" fill="#dfedf6"/>
<rect x="264.18" y="313.4" width="1.49" height="8.3" fill="#aab5e2"/>
<rect x="265.61" y="313.4" width="1.49" height="8.3" fill="#9ea6db"/>
<rect x="267.05" y="313.4" width="1.49" height="8.3" fill="#b2c0e7"/>
<rect x="268.48" y="313.4" width="1.49" height="8.3" fill="#a2acde"/>
<rect x="269.92" y="313.4" width="1.49" height="8.3" fill="#bccaea"/>
<rect x="271.35" y="313.4" width="1.49" height="8.3" fill="#abb8e3"/>
<rect x="272.79" y="313.4" width="1.49" height="8.3" fill="#e1eff7"/>
<rect x="274.22" y="313.4" width="1.49" height="8.3" fill="#b7c5e8"/>
<rect x="275.66" y="313.4" width="1.49" height="8.3" fill="#9186cc"/>
<rect x="277.1" y="313.4" width="1.49" height="8.3" fill="#ddebf6"/>
<rect x="278.53" y="313.4" width="1.49" height="8.3" fill="#b6c4e8"/>
<rect x="279.97" y="313.4" width="1.49" height="8.3" fill="#b7c5e8"/>
<rect x="281.4" y="313.4" width="1.49" height="8.3" fill="#c0ceeb"/>
<rect x="282.84" y="313.4" width="1.49" height="8.3" fill="#b1bfe6"/>
<rect x="284.27" y="313.4" width="1.49" height="8.3" fill="#c0ceeb"/>
<rect x="285.71" y="313.4" width="1.49" height="8.3" fill="#bbc9ea"/>
<rect x="287.14" y="313.4" width="1.49" height="8.3" fill="#989ed8"/>
<rect x="288.58" y="313.4" width="1.49" height="8.3" fill="#b9c7e9"/>
<rect x="290.01" y="313.4" width="1.49" height="8.3" fill="#9083cb"/>
<rect x="291.45" y="313.4" width="1.49" height="8.3" fill="#a6b1e0"/>
<rect x="292.88" y="313.4" width="1.49" height="8.3" fill="#d1dff1"/>
<rect x="294.32" y="313.4" width="1.49" height="8.3" fill="#b1bfe6"/>
<rect x="295.76" y="313.4" width="1.49" height="8.3" fill="#bfcdeb"/>
<rect x="297.19" y="313.4" width="1.49" height="8.3" fill="#9598d5"/>
<rect x="298.63" y="313.4" width="1.49" height="8.3" fill="#b6c4e8"/>
<rect x="300.06" y="313.4" width="1.49" height="8.3" fill="#cedcf0"/>
<rect x="301.5" y="313.4" width="1.49" height="8.3" fill="#afbde6"/>
<rect x="302.93" y="313.4" width="1.49" height="8.3" fill="#e1eff7"/>
<rect x="304.37" y="313.4" width="1.49" height="8.3" fill="#b0bee6"/>
<rect x="305.8" y="313.4" width="1.49" height="8.3" fill="#c1cfec"/>
<rect x="307.24" y="313.4" width="1.49" height="8.3" fill="#d1dff1"/>
<rect x="308.67" y="313.4" width="1.49" height="8.3" fill="#9aa0d8"/>
<rect x="310.11" y="313.4" width="1.49" height="8.3" fill="#9ea5db"/>
<rect x="311.54" y="313.4" width="1.49" height="8.3" fill="#b3c1e7"/>
<rect x="312.98" y="313.4" width="1.49" height="8.3" fill="#9598d5"/>
<rect x="314.42" y="313.4" width="1.49" height="8.3" fill="#b6c4e8"/>
<rect x="315.85" y="313.4" width="1.49" height="8.3" fill="#9185cc"/>
<rect x="317.29" y="313.4" width="1.49" height="8.3" fill="#938dd0"/>
<rect x="318.72" y="313.4" width="1.49" height="8.3" fill="#b0bee6"/>
<rect x="320.16" y="313.4" width="1.49" height="8.3" fill="#e1eff7"/>
<rect x="321.59" y="313.4" width="1.49" height="8.3" fill="#bccaea"/>
<rect x="323.03" y="313.4" width="1.49" height="8.3" fill="#a3acde"/>
<rect x="324.46" y="313.4" width="1.49" height="8.3" fill="#b3c1e7"/>
<rect x="325.9" y="313.4" width="1.49" height="8.3" fill="#c2d0ec"/>
<rect x="327.33" y="313.4" width="1.49" height="8.3" fill="#b6c4e8"/>
<rect x="328.77" y="313.4" width="1.49" height="8.3" fill="#b3c1e7"/>
<rect x="330.2" y="313.4" width="1.49" height="8.3" fill="#8c75c5"/>
<rect x="331.64" y="313.4" width="1.49" height="8.3" fill="#bac8e9"/>
<rect x="333.08" y="313.4" width="1.49" height="8.3" fill="#b9c7e9"/>
<rect x="334.51" y="313.4" width="1.49" height="8.3" fill="#d2e0f1"/>
<rect x="335.95" y="313.4" width="1.49" height="8.3" fill="#dae8f4"/>
<rect x="337.38" y="313.4" width="1.49" height="8.3" fill="#abb7e3"/>
<rect x="338.82" y="313.4" width="1.49" height="8.3" fill="#a9b4e2"/>
<rect x="340.25" y="313.4" width="1.49" height="8.3" fill="#a4aedf"/>
<rect x="341.69" y="313.4" width="1.49" height="8.3" fill="#bccaea"/>
<rect x="343.12" y="313.4" width="1.49" height="8.3" fill="#999fd8"/>
<rect x="344.56" y="313.4" width="1.49" height="8.3" fill="#b6c4e8"/>
<rect x="345.99" y="313.4" width="1.49" height="8.3" fill="#becceb"/>
<rect x="347.43" y="313.4" width="1.49" height="8.3" fill="#d1dff1"/>
<rect x="348.86" y="313.4" width="1.49" height="8.3" fill="#b6c4e8"/>
<rect x="350.3" y="313.4" width="1.49" height="8.3" fill="#b3c1e7"/>
<rect x="351.74" y="313.4" width="1.49" height="8.3" fill="#aab6e2"/>
<rect x="353.17" y="313.4" width="1.49" height="8.3" fill="#b9c7e9"/>
<rect x="354.61" y="313.4" width="1.49" height="8.3" fill="#b6c4e8"/>
<rect x="356.04" y="313.4" width="1.49" height="8.3" fill="#bfcdeb"/>
<rect x="357.48" y="313.4" width="1.49" height="8.3" fill="#c8d6ee"/>
<rect x="358.91" y="313.4" width="1.49" height="8.3" fill="#a4aedf"/>
<rect x="360.35" y="313.4" width="1.49" height="8.3" fill="#b7c5e8"/>
<rect x="361.78" y="313.4" width="1.49" height="8.3" fill="#c8d6ee"/>
<rect x="363.22" y="313.4" width="1.49" height="8.3" fill="#b3c1e7"/>
<rect x="364.65" y="313.4" width="1.49" height="8.3" fill="#b2c0e7"/>
<rect x="366.09" y="313.4" width="1.49" height="8.3" fill="#ddebf5"/>
<rect x="367.52" y="313.4" width="1.49" height="8.3" fill="#9ea6db"/>
<rect x="368.96" y="313.4" width="1.49" height="8.3" fill="#aab6e2"/>
<rect x="370.4" y="313.4" width="1.49" height="8.3" fill="#d1dff1"/>
<rect x="371.83" y="313.4" width="1.49" height="8.3" fill="#a5afdf"/>
<rect x="373.27" y="313.4" width="1.49" height="8.3" fill="#adb9e4"/>
<rect x="374.7" y="313.4" width="1.49" height="8.3" fill="#aab6e2"/>
<rect x="376.14" y="313.4" width="1.49" height="8.3" fill="#b9c7e9"/>
<rect x="377.57" y="313.4" width="1.49" height="8.3" fill="#a9b4e2"/>
<rect x="379.01" y="313.4" width="1.49" height="8.3" fill="#c4d2ed"/>
<rect x="380.44" y="313.4" width="1.49" height="8.3" fill="#b6c4e8"/>
<rect x="381.88" y="313.4" width="1.49" height="8.3" fill="#d3e1f2"/>
<rect x="383.31" y="313.4" width="1.49" height="8.3" fill="#afbce5"/>
<rect x="384.75" y="313.4" width="1.49" height="8.3" fill="#b1bfe6"/>
<rect x="386.18" y="313.4" width="1.49" height="8.3" fill="#becceb"/>
<rect x="387.62" y="313.4" width="1.49" height="8.3" fill="#9fa8dc"/>
<rect x="389.06" y="313.4" width="1.49" height="8.3" fill="#c4d2ed"/>
<rect x="390.49" y="313.4" width="1.49" height="8.3" fill="#b5c3e8"/>
<rect x="391.93" y="313.4" width="1.49" height="8.3" fill="#b9c7e9"/>
<rect x="393.36" y="313.4" width="1.49" height="8.3" fill="#bac8e9"/>
<rect x="394.8" y="313.4" width="1.49" height="8.3" fill="#a5afdf"/>
<rect x="396.23" y="313.4" width="1.49" height="8.3" fill="#989ed7"/>
<rect x="397.67" y="313.4" width="1.49" height="8.3" fill="#9390d1"/>
<rect x="399.1" y="313.4" width="1.49" height="8.3" fill="#c8d6ee"/>
<rect x="400.54" y="313.4" width="1.49" height="8.3" fill="#9595d3"/>
<rect x="401.97" y="313.4" width="1.49" height="8.3" fill="#b5c3e8"/>
<rect x="403.41" y="313.4" width="1.49" height="8.3" fill="#c9d7ee"/>
<rect x="404.84" y="313.4" width="1.49" height="8.3" fill="#afbce5"/>
<rect x="406.28" y="313.4" width="1.49" height="8.3" fill="#becceb"/>
<rect x="407.72" y="313.4" width="1.49" height="8.3" fill="#9aa0d8"/>
<rect x="409.15" y="313.4" width="1.49" height="8.3" fill="#bbc9ea"/>
<rect x="410.59" y="313.4" width="1.49" height="8.3" fill="#a3acde"/>
<rect x="412.02" y="313.4" width="1.49" height="8.3" fill="#becceb"/>
<rect x="413.46" y="313.4" width="1.49" height="8.3" fill="#9ea6db"/>
<rect x="414.89" y="313.4" width="1.49" height="8.3" fill="#9598d5"/>
<rect x="416.33" y="313.4" width="1.49" height="8.3" fill="#b9c7e9"/>
<rect x="417.76" y="313.4" width="1.49" height="8.3" fill="#e0eef6"/>
<rect x="419.2" y="313.4" width="1.49" height="8.3" fill="#d2e0f1"/>
<rect x="420.63" y="313.4" width="1.49" height="8.3" fill="#afbce5"/>
<rect x="422.07" y="313.4" width="1.49" height="8.3" fill="#a9b5e2"/>
<rect x="423.5" y="313.4" width="1.49" height="8.3" fill="#b3c1e7"/>
<rect x="424.94" y="313.4" width="1.49" height="8.3" fill="#9fa7dc"/>
<rect x="426.38" y="313.4" width="1.49" height="8.3" fill="#a5b0df"/>
<rect x="427.81" y="313.4" width="1.49" height="8.3" fill="#a9b4e2"/>
<rect x="429.25" y="313.4" width="1.49" height="8.3" fill="#b8c6e9"/>
<rect x="430.68" y="313.4" width="1.49" height="8.3" fill="#9187cd"/>
<rect x="432.12" y="313.4" width="1.49" height="8.3" fill="#bac8e9"/>
<rect x="433.55" y="313.4" width="1.49" height="8.3" fill="#cedcf0"/>
<rect x="434.99" y="313.4" width="1.49" height="8.3" fill="#aab6e2"/>
<rect x="436.42" y="313.4" width="1.49" height="8.3" fill="#b3c1e7"/>
<rect x="437.86" y="313.4" width="1.49" height="8.3" fill="#d4e2f2"/>
<rect x="439.29" y="313.4" width="1.49" height="8.3" fill="#cbd9ef"/>
<rect x="440.73" y="313.4" width="1.49" height="8.3" fill="#b5c3e8"/>
<rect x="442.16" y="313.4" width="1.49" height="8.3" fill="#afbce5"/>
<rect x="257" y="323.1" width="1.49" height="8.3" fill="#12ae7a"/>
<rect x="258.44" y="323.1" width="1.49" height="8.3" fill="#15b27f"/>
<rect x="259.87" y="323.1" width="1.49" height="8.3" fill="#0da873"/>
<rect x="261.31" y="323.1" width="1.49" height="8.3" fill="#13af7c"/>
<rect x="262.74" y="323.1" width="1.49" height="8.3" fill="#b3e9de"/>
<rect x="264.18" y="323.1" width="1.49" height="8.3" fill="#16b381"/>
<rect x="265.61" y="323.1" width="1.49" height="8.3" fill="#a5e4d7"/>
<rect x="267.05" y="323.1" width="1.49" height="8.3" fill="#16b381"/>
<rect x="268.48" y="323.1" width="1.49" height="8.3" fill="#0faa75"/>
<rect x="269.92" y="323.1" width="1.49" height="8.3" fill="#16b481"/>
<rect x="271.35" y="323.1" width="1.49" height="8.3" fill="#0da872"/>
<rect x="272.79" y="323.1" width="1.49" height="8.3" fill="#11ad79"/>
<rect x="274.22" y="323.1" width="1.49" height="8.3" fill="#1bba8a"/>
<rect x="275.66" y="323.1" width="1.49" height="8.3" fill="#15b380"/>
<rect x="277.1" y="323.1" width="1.49" height="8.3" fill="#9be2d2"/>
<rect x="278.53" y="323.1" width="1.49" height="8.3" fill="#0faa75"/>
<rect x="279.97" y="323.1" width="1.49" height="8.3" fill="#0da771"/>
<rect x="281.4" y="323.1" width="1.49" height="8.3" fill="#0ca670"/>
<rect x="282.84" y="323.1" width="1.49" height="8.3" fill="#14b17e"/>
<rect x="284.27" y="323.1" width="1.49" height="8.3" fill="#0ca670"/>
<rect x="285.71" y="323.1" width="1.49" height="8.3" fill="#0da872"/>
<rect x="287.14" y="323.1" width="1.49" height="8.3" fill="#15b27f"/>
<rect x="288.58" y="323.1" width="1.49" height="8.3" fill="#0ea974"/>
<rect x="290.01" y="323.1" width="1.49" height="8.3" fill="#0ea973"/>
<rect x="291.45" y="323.1" width="1.49" height="8.3" fill="#13b07d"/>
<rect x="292.88" y="323.1" width="1.49" height="8.3" fill="#e0f7f3"/>
<rect x="294.32" y="323.1" width="1.49" height="8.3" fill="#0da772"/>
<rect x="295.76" y="323.1" width="1.49" height="8.3" fill="#dff6f3"/>
<rect x="297.19" y="323.1" width="1.49" height="8.3" fill="#0ca670"/>
<rect x="298.63" y="323.1" width="1.49" height="8.3" fill="#0da771"/>
<rect x="300.06" y="323.1" width="1.49" height="8.3" fill="#11ad79"/>
<rect x="301.5" y="323.1" width="1.49" height="8.3" fill="#14b17e"/>
<rect x="302.93" y="323.1" width="1.49" height="8.3" fill="#74d8bf"/>
<rect x="304.37" y="323.1" width="1.49" height="8.3" fill="#dff6f3"/>
<rect x="305.8" y="323.1" width="1.49" height="8.3" fill="#16b381"/>
<rect x="307.24" y="323.1" width="1.49" height="8.3" fill="#1cbc8b"/>
<rect x="308.67" y="323.1" width="1.49" height="8.3" fill="#11ac78"/>
<rect x="310.11" y="323.1" width="1.49" height="8.3" fill="#0ca670"/>
<rect x="311.54" y="323.1" width="1.49" height="8.3" fill="#0faa75"/>
<rect x="312.98" y="323.1" width="1.49" height="8.3" fill="#0ca670"/>
<rect x="314.42" y="323.1" width="1.49" height="8.3" fill="#15b27f"/>
<rect x="315.85" y="323.1" width="1.49" height="8.3" fill="#0ea973"/>
<rect x="317.29" y="323.1" width="1.49" height="8.3" fill="#13b07d"/>
<rect x="318.72" y="323.1" width="1.49" height="8.3" fill="#11ad79"/>
<rect x="320.16" y="323.1" width="1.49" height="8.3" fill="#0da772"/>
<rect x="321.59" y="323.1" width="1.49" height="8.3" fill="#16b481"/>
<rect x="323.03" y="323.1" width="1.49" height="8.3" fill="#afe8dc"/>
<rect x="324.46" y="323.1" width="1.49" height="8.3" fill="#0ea873"/>
<rect x="325.9" y="323.1" width="1.49" height="8.3" fill="#0ca670"/>
<rect x="327.33" y="323.1" width="1.49" height="8.3" fill="#12af7b"/>
<rect x="328.77" y="323.1" width="1.49" height="8.3" fill="#0ca670"/>
<rect x="330.2" y="323.1" width="1.49" height="8.3" fill="#0fab76"/>
<rect x="331.64" y="323.1" width="1.49" height="8.3" fill="#0fa974"/>
<rect x="333.08" y="323.1" width="1.49" height="8.3" fill="#17b583"/>
<rect x="334.51" y="323.1" width="1.49" height="8.3" fill="#1dbd8d"/>
<rect x="335.95" y="323.1" width="1.49" height="8.3" fill="#0da771"/>
<rect x="337.38" y="323.1" width="1.49" height="8.3" fill="#0da772"/>
<rect x="338.82" y="323.1" width="1.49" height="8.3" fill="#0ca670"/>
<rect x="340.25" y="323.1" width="1.49" height="8.3" fill="#d4f3ed"/>
<rect x="341.69" y="323.1" width="1.49" height="8.3" fill="#10ac77"/>
<rect x="343.12" y="323.1" width="1.49" height="8.3" fill="#0ca671"/>
<rect x="344.56" y="323.1" width="1.49" height="8.3" fill="#10ab76"/>
<rect x="345.99" y="323.1" width="1.49" height="8.3" fill="#caf0e9"/>
<rect x="347.43" y="323.1" width="1.49" height="8.3" fill="#12ae7a"/>
<rect x="348.86" y="323.1" width="1.49" height="8.3" fill="#ace7db"/>
<rect x="350.3" y="323.1" width="1.49" height="8.3" fill="#5cd2b3"/>
<rect x="351.74" y="323.1" width="4.36" height="8.3" fill="#0ca670"/>
<rect x="356.04" y="323.1" width="1.49" height="8.3" fill="#0da872"/>
<rect x="357.48" y="323.1" width="1.49" height="8.3" fill="#14b17e"/>
<rect x="358.91" y="323.1" width="1.49" height="8.3" fill="#13b07d"/>
<rect x="360.35" y="323.1" width="1.49" height="8.3" fill="#15b380"/>
<rect x="361.78" y="323.1" width="1.49" height="8.3" fill="#10ac77"/>
<rect x="363.22" y="323.1" width="1.49" height="8.3" fill="#11ad79"/>
<rect x="364.65" y="323.1" width="1.49" height="8.3" fill="#13af7b"/>
<rect x="366.09" y="323.1" width="1.49" height="8.3" fill="#0ea873"/>
<rect x="367.52" y="323.1" width="1.49" height="8.3" fill="#10ab76"/>
<rect x="368.96" y="323.1" width="1.49" height="8.3" fill="#17b583"/>
<rect x="370.4" y="323.1" width="1.49" height="8.3" fill="#17b482"/>
<rect x="371.83" y="323.1" width="1.49" height="8.3" fill="#10ab77"/>
<rect x="373.27" y="323.1" width="1.49" height="8.3" fill="#18b684"/>
<rect x="374.7" y="323.1" width="1.49" height="8.3" fill="#8cdecb"/>
<rect x="376.14" y="323.1" width="1.49" height="8.3" fill="#11ad79"/>
<rect x="377.57" y="323.1" width="1.49" height="8.3" fill="#0faa75"/>
<rect x="379.01" y="323.1" width="1.49" height="8.3" fill="#10ac78"/>
<rect x="380.44" y="323.1" width="1.49" height="8.3" fill="#e4f8f5"/>
<rect x="381.88" y="323.1" width="1.49" height="8.3" fill="#7ddac3"/>
<rect x="383.31" y="323.1" width="1.49" height="8.3" fill="#0da771"/>
<rect x="384.75" y="323.1" width="1.49" height="8.3" fill="#85dcc7"/>
<rect x="386.18" y="323.1" width="1.49" height="8.3" fill="#51cfae"/>
<rect x="387.62" y="323.1" width="1.49" height="8.3" fill="#15b27f"/>
<rect x="389.06" y="323.1" width="1.49" height="8.3" fill="#0ca670"/>
<rect x="390.49" y="323.1" width="1.49" height="8.3" fill="#0ea974"/>
<rect x="391.93" y="323.1" width="1.49" height="8.3" fill="#0da771"/>
<rect x="393.36" y="323.1" width="1.49" height="8.3" fill="#14b17e"/>
<rect x="394.8" y="323.1" width="1.49" height="8.3" fill="#c3eee6"/>
<rect x="396.23" y="323.1" width="1.49" height="8.3" fill="#10ac78"/>
<rect x="397.67" y="323.1" width="1.49" height="8.3" fill="#cef1ea"/>
<rect x="399.1" y="323.1" width="1.49" height="8.3" fill="#0ca670"/>
<rect x="400.54" y="323.1" width="1.49" height="8.3" fill="#11ad79"/>
<rect x="401.97" y="323.1" width="1.49" height="8.3" fill="#c7efe7"/>
<rect x="403.41" y="323.1" width="1.49" height="8.3" fill="#0faa75"/>
<rect x="404.84" y="323.1" width="1.49" height="8.3" fill="#0ca670"/>
<rect x="406.28" y="323.1" width="1.49" height="8.3" fill="#e3f7f4"/>
<rect x="407.72" y="323.1" width="1.49" height="8.3" fill="#e5f8f6"/>
<rect x="409.15" y="323.1" width="1.49" height="8.3" fill="#0ca670"/>
<rect x="410.59" y="323.1" width="1.49" height="8.3" fill="#17b583"/>
<rect x="412.02" y="323.1" width="1.49" height="8.3" fill="#9de2d4"/>
<rect x="413.46" y="323.1" width="1.49" height="8.3" fill="#11ac78"/>
<rect x="414.89" y="323.1" width="1.49" height="8.3" fill="#14b07d"/>
<rect x="416.33" y="323.1" width="1.49" height="8.3" fill="#0da772"/>
<rect x="417.76" y="323.1" width="1.49" height="8.3" fill="#12ae7a"/>
<rect x="419.2" y="323.1" width="1.49" height="8.3" fill="#11ad79"/>
<rect x="420.63" y="323.1" width="1.49" height="8.3" fill="#12ae7a"/>
<rect x="422.07" y="323.1" width="1.49" height="8.3" fill="#0ca670"/>
<rect x="423.5" y="323.1" width="1.49" height="8.3" fill="#10ab77"/>
<rect x="424.94" y="323.1" width="1.49" height="8.3" fill="#abe6da"/>
<rect x="426.38" y="323.1" width="1.49" height="8.3" fill="#73d7be"/>
<rect x="427.81" y="323.1" width="1.49" height="8.3" fill="#10ac77"/>
<rect x="429.25" y="323.1" width="1.49" height="8.3" fill="#0ca670"/>
<rect x="430.68" y="323.1" width="1.49" height="8.3" fill="#12ae7a"/>
<rect x="432.12" y="323.1" width="1.49" height="8.3" fill="#0fab76"/>
<rect x="433.55" y="323.1" width="1.49" height="8.3" fill="#0ca670"/>
<rect x="434.99" y="323.1" width="1.49" height="8.3" fill="#0faa75"/>
<rect x="436.42" y="323.1" width="1.49" height="8.3" fill="#13af7c"/>
<rect x="437.86" y="323.1" width="1.49" height="8.3" fill="#0ca670"/>
<rect x="439.29" y="323.1" width="1.49" height="8.3" fill="#0faa75"/>
<rect x="440.73" y="323.1" width="1.49" height="8.3" fill="#0ca670"/>
<rect x="442.16" y="323.1" width="1.49" height="8.3" fill="#10ab77"/>
<text x="445.6" y="292.3" font-size="9.2" font-weight="bold" textLength="18.5" lengthAdjust="spacingAndGlyphs" fill="#0a0a0a" class="b">Type</text>
<text x="445.6" y="301.6" font-size="9.2" font-weight="bold" textLength="19.4" lengthAdjust="spacingAndGlyphs" fill="#0a0a0a" class="b">Race</text>
<text x="445.6" y="311.1" font-size="9.2" font-weight="bold" textLength="14.5" lengthAdjust="spacingAndGlyphs" fill="#0a0a0a" class="b">Sex</text>
<text x="445.6" y="320.7" font-size="9.2" font-weight="bold" textLength="15.5" lengthAdjust="spacingAndGlyphs" fill="#0a0a0a" class="b">Age</text>
<text x="445.6" y="329.9" font-size="9.2" font-weight="bold" textLength="14.2" lengthAdjust="spacingAndGlyphs" fill="#0a0a0a" class="b">RIN</text>
<rect x="476" y="9" width="6" height="15.15" fill="#2a78bd"/>
<rect x="476" y="24.1" width="6" height="15.55" fill="#78b8de"/>
<rect x="476" y="39.6" width="6" height="15.05" fill="#d8eff6"/>
<rect x="476" y="54.6" width="6" height="15.85" fill="#fdd98d"/>
<rect x="476" y="70.4" width="6" height="15.55" fill="#f98d58"/>
<rect x="476" y="85.9" width="6" height="15.55" fill="#ee3b29"/>
<text x="484.2" y="23.6" font-size="8.6" fill="#222" class="s">4</text>
<text x="484.2" y="40.8" font-size="8.6" fill="#222" class="s">2</text>
<text x="484.2" y="58.2" font-size="8.6" fill="#222" class="s">0</text>
<text x="484.2" y="76" font-size="8.6" fill="#222" class="s">−2</text>
<text x="484.2" y="93.7" font-size="8.6" fill="#222" class="s">−4</text>
<text x="503.2" y="14.4" font-size="9.2" font-weight="bold" fill="#0a0a0a" class="b">Type</text>
<rect x="503" y="17.7" width="13.3" height="13.75" fill="#22cfe0"/>
<rect x="503" y="31.4" width="13.3" height="13.55" fill="#7cc614"/>
<text x="519.6" y="28.6" font-size="8.8" fill="#222" class="s">Type 1</text>
<text x="519.6" y="42.2" font-size="8.8" fill="#222" class="s">Type 2</text>
<text x="503.2" y="62.4" font-size="9.2" font-weight="bold" fill="#0a0a0a" class="b">Race</text>
<rect x="503" y="66.4" width="13.3" height="13.55" fill="#faa500"/>
<rect x="503" y="79.9" width="13.3" height="13.55" fill="#1fd285"/>
<rect x="503" y="93.4" width="13.3" height="13.55" fill="#f77ef2"/>
<rect x="503" y="106.9" width="13.3" height="14.15" fill="#f1aaf6"/>
<text x="519.6" y="76.4" font-size="8.8" fill="#222" class="s">AA</text>
<text x="519.6" y="89.9" font-size="8.8" fill="#222" class="s">AS</text>
<text x="519.6" y="103.3" font-size="8.8" fill="#222" class="s">CAUC</text>
<text x="519.6" y="116.8" font-size="8.8" fill="#222" class="s">HISP</text>
<text x="503.2" y="137.8" font-size="9.2" font-weight="bold" fill="#0a0a0a" class="b">Sex</text>
<rect x="503" y="141.8" width="13.3" height="13.65" fill="#20bdf0"/>
<rect x="503" y="155.4" width="13.3" height="13.45" fill="#f7928a"/>
<text x="519.6" y="152.0" font-size="8.8" fill="#222" class="s">F</text>
<text x="519.6" y="165.4" font-size="8.8" fill="#222" class="s">M</text>
<text x="503.2" y="185.2" font-size="9.2" font-weight="bold" fill="#0a0a0a" class="b">Age</text>
<rect x="503" y="189" width="13.3" height="14.05" fill="#8d52a8"/>
<rect x="503" y="203" width="13.3" height="13.75" fill="#8a8ecc"/>
<rect x="503" y="216.7" width="13.3" height="13.85" fill="#a0cae0"/>
<rect x="503" y="230.5" width="13.3" height="13.55" fill="#e4f4f8"/>
<text x="519.6" y="200.0" font-size="8.8" fill="#222" class="s">90</text>
<text x="519.6" y="241.6" font-size="8.8" fill="#222" class="s">30</text>
<text x="503.2" y="261" font-size="9.2" font-weight="bold" fill="#0a0a0a" class="b">RIN</text>
<rect x="503" y="264.9" width="13.3" height="13.35" fill="#1a9e5c"/>
<rect x="503" y="278.2" width="13.3" height="13.55" fill="#22c89e"/>
<rect x="503" y="291.7" width="13.3" height="13.85" fill="#a3e2da"/>
<rect x="503" y="305.5" width="13.3" height="14.15" fill="#e2f7f6"/>
<text x="519.6" y="275.3" font-size="8.8" fill="#222" class="s">9</text>
<text x="519.6" y="316.5" font-size="8.8" fill="#222" class="s">6</text>
</svg>
</body></html>
